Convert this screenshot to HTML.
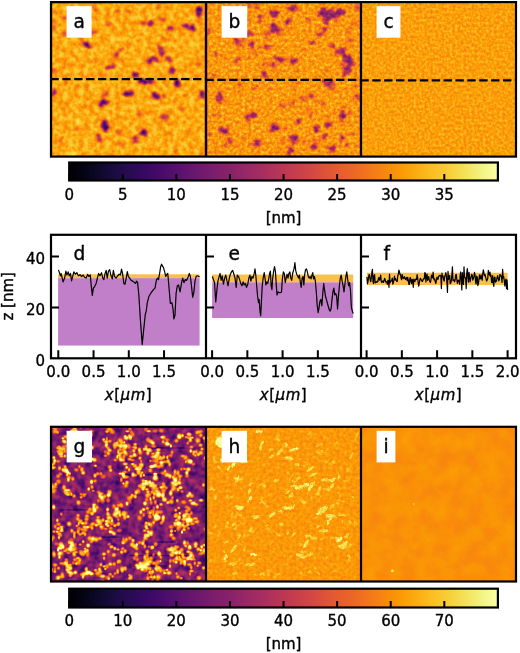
<!DOCTYPE html><html><head><meta charset="utf-8"><title>AFM figure</title>
<style>html,body{margin:0;padding:0;background:#fff}svg{display:block}text{font-family:'DejaVu Sans','Liberation Sans',sans-serif;fill:#000;stroke:#000;stroke-width:0.35px}</style></head><body>
<svg width="520" height="653" viewBox="0 0 520 653">
<defs>
<linearGradient id="inf" x1="0" x2="1" y1="0" y2="0"><stop offset="0" stop-color="rgb(0,0,4)"/><stop offset="0.03" stop-color="rgb(4,3,18)"/><stop offset="0.06" stop-color="rgb(11,7,36)"/><stop offset="0.09" stop-color="rgb(21,11,55)"/><stop offset="0.12" stop-color="rgb(33,12,74)"/><stop offset="0.16" stop-color="rgb(47,10,91)"/><stop offset="0.19" stop-color="rgb(61,9,101)"/><stop offset="0.22" stop-color="rgb(74,12,107)"/><stop offset="0.25" stop-color="rgb(87,16,110)"/><stop offset="0.28" stop-color="rgb(100,21,110)"/><stop offset="0.31" stop-color="rgb(113,25,110)"/><stop offset="0.34" stop-color="rgb(125,30,109)"/><stop offset="0.38" stop-color="rgb(138,34,106)"/><stop offset="0.41" stop-color="rgb(151,39,102)"/><stop offset="0.44" stop-color="rgb(163,44,97)"/><stop offset="0.47" stop-color="rgb(176,49,91)"/><stop offset="0.5" stop-color="rgb(188,55,84)"/><stop offset="0.53" stop-color="rgb(199,62,76)"/><stop offset="0.56" stop-color="rgb(210,70,68)"/><stop offset="0.59" stop-color="rgb(219,80,59)"/><stop offset="0.62" stop-color="rgb(228,90,49)"/><stop offset="0.66" stop-color="rgb(235,102,40)"/><stop offset="0.69" stop-color="rgb(241,115,29)"/><stop offset="0.72" stop-color="rgb(246,128,19)"/><stop offset="0.75" stop-color="rgb(249,142,9)"/><stop offset="0.78" stop-color="rgb(251,157,7)"/><stop offset="0.81" stop-color="rgb(252,172,17)"/><stop offset="0.84" stop-color="rgb(251,188,33)"/><stop offset="0.88" stop-color="rgb(249,203,53)"/><stop offset="0.91" stop-color="rgb(245,219,76)"/><stop offset="0.94" stop-color="rgb(242,234,105)"/><stop offset="0.97" stop-color="rgb(243,246,138)"/><stop offset="1" stop-color="rgb(252,255,164)"/></linearGradient>
<filter id="fa" filterUnits="userSpaceOnUse" x="51" y="2.1" width="155" height="154.5" color-interpolation-filters="sRGB"><feTurbulence type="fractalNoise" baseFrequency="0.19" numOctaves="2" seed="3" result="n"/><feColorMatrix in="n" type="matrix" values="0.31 0 0 0 0.345  0.31 0 0 0 0.345  0.31 0 0 0 0.345  0 0 0 0 1" result="ng"/><feTurbulence type="fractalNoise" baseFrequency="0.18" numOctaves="2" seed="41" result="dn"/><feDisplacementMap in="SourceGraphic" in2="dn" scale="7" xChannelSelector="R" yChannelSelector="G" result="sd"/><feGaussianBlur in="sd" stdDeviation="0.8" result="sb"/><feComposite in="sb" in2="ng" operator="arithmetic" k1="0" k2="1" k3="1" k4="-0.5" result="h"/><feComponentTransfer><feFuncR type="table" tableValues="0.001 0.006 0.014 0.026 0.042 0.061 0.082 0.105 0.129 0.156 0.183 0.211 0.238 0.265 0.291 0.316 0.348 0.373 0.398 0.423 0.447 0.472 0.497 0.522 0.547 0.572 0.597 0.622 0.646 0.671 0.695 0.718 0.747 0.770 0.791 0.812 0.832 0.851 0.869 0.886 0.902 0.916 0.930 0.942 0.952 0.961 0.969 0.976 0.982 0.985 0.987 0.988 0.987 0.985 0.981 0.976 0.975 0.971 0.968 0.964 0.961 0.957 0.955 0.952"/><feFuncG type="table" tableValues="0.000 0.005 0.011 0.019 0.028 0.037 0.043 0.047 0.047 0.045 0.040 0.037 0.037 0.040 0.046 0.053 0.065 0.074 0.083 0.093 0.102 0.111 0.119 0.128 0.137 0.146 0.155 0.164 0.174 0.184 0.195 0.207 0.222 0.236 0.251 0.267 0.284 0.302 0.322 0.343 0.364 0.387 0.411 0.436 0.462 0.489 0.516 0.544 0.579 0.608 0.638 0.668 0.698 0.728 0.759 0.790 0.798 0.813 0.829 0.844 0.859 0.874 0.882 0.896"/><feFuncB type="table" tableValues="0.014 0.039 0.072 0.106 0.141 0.178 0.215 0.253 0.291 0.325 0.355 0.379 0.396 0.409 0.419 0.425 0.430 0.432 0.433 0.433 0.431 0.428 0.424 0.420 0.414 0.406 0.398 0.389 0.378 0.367 0.354 0.341 0.323 0.307 0.291 0.275 0.257 0.240 0.221 0.203 0.184 0.165 0.145 0.125 0.105 0.084 0.063 0.044 0.026 0.024 0.035 0.058 0.088 0.121 0.157 0.196 0.206 0.228 0.250 0.273 0.298 0.324 0.337 0.366"/></feComponentTransfer></filter>
<filter id="fb" filterUnits="userSpaceOnUse" x="206" y="2.1" width="155" height="154.5" color-interpolation-filters="sRGB"><feTurbulence type="fractalNoise" baseFrequency="0.33" numOctaves="2" seed="11" result="n"/><feColorMatrix in="n" type="matrix" values="0.34 0 0 0 0.330  0.34 0 0 0 0.330  0.34 0 0 0 0.330  0 0 0 0 1" result="ng"/><feTurbulence type="fractalNoise" baseFrequency="0.27" numOctaves="2" seed="43" result="dn"/><feDisplacementMap in="SourceGraphic" in2="dn" scale="8" xChannelSelector="R" yChannelSelector="G" result="sd"/><feGaussianBlur in="sd" stdDeviation="0.8" result="sb"/><feComposite in="sb" in2="ng" operator="arithmetic" k1="0" k2="1" k3="1" k4="-0.5" result="h"/><feComponentTransfer><feFuncR type="table" tableValues="0.001 0.008 0.019 0.042 0.066 0.099 0.129 0.170 0.204 0.245 0.278 0.310 0.348 0.379 0.416 0.447 0.485 0.516 0.553 0.585 0.616 0.652 0.683 0.718 0.747 0.781 0.807 0.837 0.861 0.882 0.906 0.923 0.942 0.955 0.967 0.976 0.983 0.987 0.988 0.987 0.983 0.976 0.968 0.957 0.949 0.948 0.962 0.988"/><feFuncG type="table" tableValues="0.000 0.006 0.015 0.028 0.039 0.046 0.047 0.042 0.038 0.037 0.042 0.051 0.065 0.076 0.090 0.102 0.115 0.126 0.139 0.150 0.162 0.176 0.190 0.207 0.222 0.243 0.263 0.288 0.312 0.337 0.370 0.399 0.436 0.469 0.509 0.544 0.587 0.623 0.660 0.706 0.744 0.790 0.829 0.874 0.910 0.949 0.976 0.998"/><feFuncB type="table" tableValues="0.014 0.047 0.089 0.141 0.187 0.244 0.291 0.341 0.373 0.400 0.414 0.424 0.430 0.433 0.433 0.431 0.427 0.421 0.412 0.402 0.391 0.376 0.361 0.341 0.323 0.300 0.279 0.253 0.231 0.208 0.179 0.155 0.125 0.100 0.069 0.044 0.025 0.028 0.052 0.096 0.138 0.196 0.250 0.324 0.395 0.491 0.572 0.645"/></feComponentTransfer></filter>
<filter id="fc" filterUnits="userSpaceOnUse" x="361" y="2.1" width="155" height="154.5" color-interpolation-filters="sRGB"><feTurbulence type="fractalNoise" baseFrequency="0.36" numOctaves="2" seed="23" result="n"/><feColorMatrix in="n" type="matrix" values="0.23 0 0 0 0.385  0.23 0 0 0 0.385  0.23 0 0 0 0.385  0 0 0 0 1" result="ng"/><feGaussianBlur in="SourceGraphic" stdDeviation="0.5" result="sb"/><feComposite in="sb" in2="ng" operator="arithmetic" k1="0" k2="1" k3="1" k4="-0.5" result="h"/><feComponentTransfer><feFuncR type="table" tableValues="0.001 0.008 0.019 0.042 0.066 0.099 0.129 0.170 0.204 0.245 0.278 0.310 0.348 0.379 0.416 0.447 0.485 0.516 0.553 0.585 0.616 0.652 0.683 0.718 0.747 0.781 0.807 0.837 0.861 0.882 0.906 0.923 0.942 0.955 0.967 0.976 0.983 0.987 0.988 0.987 0.983 0.976 0.968 0.957 0.949 0.948 0.962 0.988"/><feFuncG type="table" tableValues="0.000 0.006 0.015 0.028 0.039 0.046 0.047 0.042 0.038 0.037 0.042 0.051 0.065 0.076 0.090 0.102 0.115 0.126 0.139 0.150 0.162 0.176 0.190 0.207 0.222 0.243 0.263 0.288 0.312 0.337 0.370 0.399 0.436 0.469 0.509 0.544 0.587 0.623 0.660 0.706 0.744 0.790 0.829 0.874 0.910 0.949 0.976 0.998"/><feFuncB type="table" tableValues="0.014 0.047 0.089 0.141 0.187 0.244 0.291 0.341 0.373 0.400 0.414 0.424 0.430 0.433 0.433 0.431 0.427 0.421 0.412 0.402 0.391 0.376 0.361 0.341 0.323 0.300 0.279 0.253 0.231 0.208 0.179 0.155 0.125 0.100 0.069 0.044 0.025 0.028 0.052 0.096 0.138 0.196 0.250 0.324 0.395 0.491 0.572 0.645"/></feComponentTransfer></filter>
<filter id="fg" filterUnits="userSpaceOnUse" x="51" y="426.8" width="155" height="154.7" color-interpolation-filters="sRGB"><feTurbulence type="fractalNoise" baseFrequency="0.14" numOctaves="2" seed="5" result="n"/><feColorMatrix in="n" type="matrix" values="0.5 0 0 0 0.250  0.5 0 0 0 0.250  0.5 0 0 0 0.250  0 0 0 0 1" result="ng"/><feGaussianBlur in="SourceGraphic" stdDeviation="0.5" result="sb"/><feComposite in="sb" in2="ng" operator="arithmetic" k1="0" k2="1" k3="1" k4="-0.5" result="h"/><feComponentTransfer><feFuncR type="table" tableValues="0.001 0.008 0.019 0.042 0.066 0.099 0.129 0.170 0.204 0.245 0.278 0.310 0.348 0.379 0.416 0.447 0.485 0.516 0.553 0.585 0.616 0.652 0.683 0.718 0.747 0.781 0.807 0.837 0.861 0.882 0.906 0.923 0.942 0.955 0.967 0.976 0.983 0.987 0.988 0.987 0.983 0.976 0.968 0.957 0.949 0.948 0.962 0.988"/><feFuncG type="table" tableValues="0.000 0.006 0.015 0.028 0.039 0.046 0.047 0.042 0.038 0.037 0.042 0.051 0.065 0.076 0.090 0.102 0.115 0.126 0.139 0.150 0.162 0.176 0.190 0.207 0.222 0.243 0.263 0.288 0.312 0.337 0.370 0.399 0.436 0.469 0.509 0.544 0.587 0.623 0.660 0.706 0.744 0.790 0.829 0.874 0.910 0.949 0.976 0.998"/><feFuncB type="table" tableValues="0.014 0.047 0.089 0.141 0.187 0.244 0.291 0.341 0.373 0.400 0.414 0.424 0.430 0.433 0.433 0.431 0.427 0.421 0.412 0.402 0.391 0.376 0.361 0.341 0.323 0.300 0.279 0.253 0.231 0.208 0.179 0.155 0.125 0.100 0.069 0.044 0.025 0.028 0.052 0.096 0.138 0.196 0.250 0.324 0.395 0.491 0.572 0.645"/></feComponentTransfer></filter>
<filter id="fh" filterUnits="userSpaceOnUse" x="206" y="426.8" width="155" height="154.7" color-interpolation-filters="sRGB"><feTurbulence type="fractalNoise" baseFrequency="0.3" numOctaves="2" seed="15" result="n"/><feColorMatrix in="n" type="matrix" values="0.17 0 0 0 0.415  0.17 0 0 0 0.415  0.17 0 0 0 0.415  0 0 0 0 1" result="ng"/><feTurbulence type="fractalNoise" baseFrequency="0.2" numOctaves="2" seed="47" result="dn"/><feDisplacementMap in="SourceGraphic" in2="dn" scale="3" xChannelSelector="R" yChannelSelector="G" result="sd"/><feGaussianBlur in="sd" stdDeviation="0.5" result="sb"/><feComposite in="sb" in2="ng" operator="arithmetic" k1="0" k2="1" k3="1" k4="-0.5" result="h"/><feComponentTransfer><feFuncR type="table" tableValues="0.001 0.008 0.019 0.042 0.066 0.099 0.129 0.170 0.204 0.245 0.278 0.310 0.348 0.379 0.416 0.447 0.485 0.516 0.553 0.585 0.616 0.652 0.683 0.718 0.747 0.781 0.807 0.837 0.861 0.882 0.906 0.923 0.942 0.955 0.967 0.976 0.983 0.987 0.988 0.987 0.983 0.976 0.968 0.957 0.949 0.948 0.962 0.988"/><feFuncG type="table" tableValues="0.000 0.006 0.015 0.028 0.039 0.046 0.047 0.042 0.038 0.037 0.042 0.051 0.065 0.076 0.090 0.102 0.115 0.126 0.139 0.150 0.162 0.176 0.190 0.207 0.222 0.243 0.263 0.288 0.312 0.337 0.370 0.399 0.436 0.469 0.509 0.544 0.587 0.623 0.660 0.706 0.744 0.790 0.829 0.874 0.910 0.949 0.976 0.998"/><feFuncB type="table" tableValues="0.014 0.047 0.089 0.141 0.187 0.244 0.291 0.341 0.373 0.400 0.414 0.424 0.430 0.433 0.433 0.431 0.427 0.421 0.412 0.402 0.391 0.376 0.361 0.341 0.323 0.300 0.279 0.253 0.231 0.208 0.179 0.155 0.125 0.100 0.069 0.044 0.025 0.028 0.052 0.096 0.138 0.196 0.250 0.324 0.395 0.491 0.572 0.645"/></feComponentTransfer></filter>
<filter id="fi" filterUnits="userSpaceOnUse" x="361" y="426.8" width="155" height="154.7" color-interpolation-filters="sRGB"><feTurbulence type="fractalNoise" baseFrequency="0.06" numOctaves="4" seed="31" result="n"/><feColorMatrix in="n" type="matrix" values="0.07 0 0 0 0.465  0.07 0 0 0 0.465  0.07 0 0 0 0.465  0 0 0 0 1" result="ng"/><feGaussianBlur in="SourceGraphic" stdDeviation="0.5" result="sb"/><feComposite in="sb" in2="ng" operator="arithmetic" k1="0" k2="1" k3="1" k4="-0.5" result="h"/><feComponentTransfer><feFuncR type="table" tableValues="0.001 0.008 0.019 0.042 0.066 0.099 0.129 0.170 0.204 0.245 0.278 0.310 0.348 0.379 0.416 0.447 0.485 0.516 0.553 0.585 0.616 0.652 0.683 0.718 0.747 0.781 0.807 0.837 0.861 0.882 0.906 0.923 0.942 0.955 0.967 0.976 0.983 0.987 0.988 0.987 0.983 0.976 0.968 0.957 0.949 0.948 0.962 0.988"/><feFuncG type="table" tableValues="0.000 0.006 0.015 0.028 0.039 0.046 0.047 0.042 0.038 0.037 0.042 0.051 0.065 0.076 0.090 0.102 0.115 0.126 0.139 0.150 0.162 0.176 0.190 0.207 0.222 0.243 0.263 0.288 0.312 0.337 0.370 0.399 0.436 0.469 0.509 0.544 0.587 0.623 0.660 0.706 0.744 0.790 0.829 0.874 0.910 0.949 0.976 0.998"/><feFuncB type="table" tableValues="0.014 0.047 0.089 0.141 0.187 0.244 0.291 0.341 0.373 0.400 0.414 0.424 0.430 0.433 0.433 0.431 0.427 0.421 0.412 0.402 0.391 0.376 0.361 0.341 0.323 0.300 0.279 0.253 0.231 0.208 0.179 0.155 0.125 0.100 0.069 0.044 0.025 0.028 0.052 0.096 0.138 0.196 0.250 0.324 0.395 0.491 0.572 0.645"/></feComponentTransfer></filter>
<radialGradient id="dg"><stop offset="0" stop-color="#fff"/><stop offset="0.35" stop-color="#fff" stop-opacity="0.9"/><stop offset="0.62" stop-color="#fff" stop-opacity="0.5"/><stop offset="0.85" stop-color="#fff" stop-opacity="0.15"/><stop offset="1" stop-color="#fff" stop-opacity="0"/></radialGradient>
</defs>
<rect width="520" height="653" fill="#fff"/>
<g filter="url(#fa)"><rect x="43" y="-5.9" width="171" height="170.5" fill="rgb(207,207,207)"/><ellipse cx="102.25" cy="27.48" rx="1.9" ry="1.32" fill="rgb(162,162,162)"/><ellipse cx="108.49" cy="13.64" rx="1.76" ry="1.29" fill="rgb(158,158,158)"/><ellipse cx="64.41" cy="18.52" rx="1.67" ry="2.08" fill="rgb(147,147,147)"/><ellipse cx="87.26" cy="98.49" rx="2.2" ry="1.83" fill="rgb(157,157,157)"/><ellipse cx="199.46" cy="11.94" rx="2.11" ry="1.54" fill="rgb(148,148,148)"/><ellipse cx="71.55" cy="50.96" rx="2.07" ry="1.43" fill="rgb(164,164,164)"/><ellipse cx="149.2" cy="60.49" rx="1.8" ry="1.31" fill="rgb(145,145,145)"/><ellipse cx="84.69" cy="106.38" rx="1.68" ry="1.56" fill="rgb(164,164,164)"/><ellipse cx="121.52" cy="49.67" rx="2.04" ry="1.95" fill="rgb(152,152,152)"/><ellipse cx="139.59" cy="83.25" rx="2.13" ry="1.98" fill="rgb(153,153,153)"/><ellipse cx="200.05" cy="22.59" rx="1.67" ry="2.01" fill="rgb(148,148,148)"/><ellipse cx="126.86" cy="10.84" rx="1.92" ry="2.01" fill="rgb(163,163,163)"/><ellipse cx="184.45" cy="51.75" rx="1.95" ry="1.84" fill="rgb(164,164,164)"/><ellipse cx="121.97" cy="130.16" rx="2.19" ry="1.72" fill="rgb(167,167,167)"/><ellipse cx="63.04" cy="109.52" rx="1.9" ry="2.24" fill="rgb(172,172,172)"/><ellipse cx="96.4" cy="62.48" rx="1.92" ry="1.27" fill="rgb(159,159,159)"/><ellipse cx="79.04" cy="22.45" rx="1.31" ry="2.02" fill="rgb(147,147,147)"/><ellipse cx="90.89" cy="63.25" rx="2.12" ry="1.33" fill="rgb(159,159,159)"/><ellipse cx="135.87" cy="136.62" rx="2.07" ry="2.11" fill="rgb(153,153,153)"/><ellipse cx="115.88" cy="58.46" rx="2.13" ry="2.21" fill="rgb(148,148,148)"/><ellipse cx="80.26" cy="39.56" rx="1.48" ry="1.73" fill="rgb(164,164,164)"/><ellipse cx="93.15" cy="5.61" rx="1.67" ry="1.62" fill="rgb(163,163,163)"/><ellipse cx="196.01" cy="107.88" rx="1.77" ry="1.87" fill="rgb(167,167,167)"/><ellipse cx="62.04" cy="139.03" rx="2.03" ry="2.12" fill="rgb(171,171,171)"/><ellipse cx="112.46" cy="64.45" rx="1.35" ry="1.88" fill="rgb(145,145,145)"/><ellipse cx="64.03" cy="36.11" rx="1.41" ry="1.59" fill="rgb(145,145,145)"/><ellipse cx="54.03" cy="27.54" rx="1.35" ry="1.61" fill="rgb(144,144,144)"/><ellipse cx="184.28" cy="96.5" rx="1.4" ry="1.5" fill="rgb(155,155,155)"/><ellipse cx="108.26" cy="23.3" rx="2.1" ry="2.24" fill="rgb(159,159,159)"/><ellipse cx="126.09" cy="17.8" rx="1.35" ry="1.59" fill="rgb(152,152,152)"/><ellipse cx="177.5" cy="29.05" rx="1.27" ry="2.2" fill="rgb(162,162,162)"/><ellipse cx="75.84" cy="85.93" rx="1.28" ry="1.78" fill="rgb(178,178,178)"/><ellipse cx="182.64" cy="108.73" rx="1.51" ry="1.62" fill="rgb(149,149,149)"/><ellipse cx="169.02" cy="84.36" rx="2.03" ry="1.58" fill="rgb(151,151,151)"/><ellipse cx="174.92" cy="151.75" rx="2.1" ry="2.06" fill="rgb(172,172,172)"/><ellipse cx="164.24" cy="38.78" rx="1.77" ry="1.61" fill="rgb(144,144,144)"/><ellipse cx="58.16" cy="46.63" rx="1.51" ry="1.94" fill="rgb(177,177,177)"/><ellipse cx="120.64" cy="144.62" rx="2.24" ry="2.21" fill="rgb(156,156,156)"/><ellipse cx="86.85" cy="38.8" rx="1.45" ry="1.45" fill="rgb(165,165,165)"/><ellipse cx="188.15" cy="130.22" rx="1.73" ry="1.9" fill="rgb(171,171,171)"/><ellipse cx="66.63" cy="103.43" rx="2.16" ry="2.03" fill="rgb(170,170,170)"/><ellipse cx="125.23" cy="31.6" rx="2.04" ry="1.58" fill="rgb(171,171,171)"/><ellipse cx="198.78" cy="63.98" rx="1.65" ry="2.2" fill="rgb(169,169,169)"/><ellipse cx="79.33" cy="23.93" rx="1.4" ry="2.15" fill="rgb(172,172,172)"/><ellipse cx="75.78" cy="128.15" rx="2.23" ry="1.91" fill="rgb(155,155,155)"/><ellipse cx="86.2" cy="45.4" rx="4.06" ry="3.37" fill="rgb(173,173,173)" transform="rotate(30 86.2 45.4)"/><ellipse cx="94.6" cy="32.3" rx="2.91" ry="2.68" fill="rgb(173,173,173)"/><ellipse cx="117.7" cy="53.8" rx="3.14" ry="3.14" fill="rgb(173,173,173)"/><ellipse cx="110.8" cy="67.7" rx="4.06" ry="3.14" fill="rgb(173,173,173)" transform="rotate(-10 110.8 67.7)"/><ellipse cx="65.4" cy="34.6" rx="2.45" ry="2.68" fill="rgb(173,173,173)"/><ellipse cx="199.5" cy="12.3" rx="3.6" ry="5.44" fill="rgb(173,173,173)" transform="rotate(-20 199.5 12.3)"/><ellipse cx="150.3" cy="23" rx="3.6" ry="3.6" fill="rgb(173,173,173)"/><ellipse cx="143" cy="23" rx="3.6" ry="2.68" fill="rgb(173,173,173)" transform="rotate(20 143 23)"/><ellipse cx="162.6" cy="18.5" rx="3.6" ry="2.68" fill="rgb(173,173,173)" transform="rotate(20 162.6 18.5)"/><ellipse cx="171" cy="28.5" rx="3.6" ry="4.06" fill="rgb(173,173,173)" transform="rotate(-30 171 28.5)"/><ellipse cx="186" cy="25.5" rx="4.52" ry="3.14" fill="rgb(173,173,173)" transform="rotate(10 186 25.5)"/><ellipse cx="192" cy="28.5" rx="4.52" ry="3.14" fill="rgb(173,173,173)" transform="rotate(20 192 28.5)"/><ellipse cx="161" cy="49" rx="3.14" ry="3.14" fill="rgb(173,173,173)"/><ellipse cx="162.6" cy="53.5" rx="3.6" ry="3.14" fill="rgb(173,173,173)"/><ellipse cx="150.5" cy="60.5" rx="3.6" ry="3.14" fill="rgb(173,173,173)" transform="rotate(-40 150.5 60.5)"/><ellipse cx="155" cy="59.5" rx="3.6" ry="2.91" fill="rgb(173,173,173)" transform="rotate(30 155 59.5)"/><ellipse cx="169.2" cy="59.2" rx="3.6" ry="3.14" fill="rgb(173,173,173)"/><ellipse cx="171.8" cy="69.2" rx="3.14" ry="4.06" fill="rgb(173,173,173)"/><ellipse cx="136.5" cy="74.6" rx="4.06" ry="3.6" fill="rgb(173,173,173)"/><ellipse cx="53.8" cy="91.8" rx="2.91" ry="4.98" fill="rgb(173,173,173)" transform="rotate(10 53.8 91.8)"/><ellipse cx="103" cy="103.4" rx="5.9" ry="3.37" fill="rgb(173,173,173)" transform="rotate(-30 103 103.4)"/><ellipse cx="105.4" cy="95" rx="2.68" ry="4.06" fill="rgb(173,173,173)" transform="rotate(20 105.4 95)"/><ellipse cx="125.4" cy="93.4" rx="4.06" ry="3.14" fill="rgb(173,173,173)"/><ellipse cx="130" cy="93.4" rx="3.6" ry="3.14" fill="rgb(173,173,173)"/><ellipse cx="104" cy="123" rx="3.6" ry="4.52" fill="rgb(173,173,173)" transform="rotate(-20 104 123)"/><ellipse cx="106.5" cy="128.5" rx="3.6" ry="4.06" fill="rgb(173,173,173)" transform="rotate(30 106.5 128.5)"/><ellipse cx="99.2" cy="138" rx="2.68" ry="4.06" fill="rgb(173,173,173)" transform="rotate(10 99.2 138)"/><ellipse cx="143" cy="81" rx="4.98" ry="3.6" fill="rgb(173,173,173)"/><ellipse cx="150" cy="81.5" rx="4.98" ry="3.37" fill="rgb(173,173,173)" transform="rotate(10 150 81.5)"/><ellipse cx="178" cy="83.4" rx="3.6" ry="3.6" fill="rgb(173,173,173)"/><ellipse cx="155" cy="96.5" rx="4.98" ry="3.83" fill="rgb(173,173,173)" transform="rotate(-20 155 96.5)"/><ellipse cx="162.6" cy="96.5" rx="3.14" ry="3.14" fill="rgb(173,173,173)"/><ellipse cx="201.8" cy="95" rx="3.37" ry="4.98" fill="rgb(173,173,173)" transform="rotate(10 201.8 95)"/><ellipse cx="164" cy="117.7" rx="4.06" ry="3.14" fill="rgb(173,173,173)"/><ellipse cx="143.4" cy="132.6" rx="4.52" ry="4.06" fill="rgb(173,173,173)"/><ellipse cx="134" cy="140.3" rx="3.14" ry="3.14" fill="rgb(173,173,173)"/><ellipse cx="86.2" cy="45.4" rx="2.76" ry="2.07" fill="rgb(51,51,51)" transform="rotate(30 86.2 45.4)"/><circle cx="85.1" cy="44.36" r="1.25" fill="rgb(51,51,51)"/><circle cx="88.21" cy="46.22" r="1.68" fill="rgb(51,51,51)"/><ellipse cx="95.4" cy="10" rx="1.84" ry="2.3" fill="rgb(153,153,153)" transform="rotate(20 95.4 10)"/><circle cx="96.72" cy="9.79" r="1.75" fill="rgb(153,153,153)"/><circle cx="96.29" cy="9.03" r="1.29" fill="rgb(153,153,153)"/><ellipse cx="94.6" cy="32.3" rx="1.61" ry="1.38" fill="rgb(115,115,115)"/><ellipse cx="53.8" cy="21.5" rx="1.38" ry="2.3" fill="rgb(153,153,153)" transform="rotate(-30 53.8 21.5)"/><ellipse cx="117.7" cy="53.8" rx="1.84" ry="1.84" fill="rgb(115,115,115)"/><circle cx="117.4" cy="54.88" r="1.54" fill="rgb(115,115,115)"/><circle cx="117.63" cy="55.06" r="1.2" fill="rgb(115,115,115)"/><ellipse cx="110.8" cy="67.7" rx="2.76" ry="1.84" fill="rgb(76,76,76)" transform="rotate(-10 110.8 67.7)"/><circle cx="112.2" cy="66.79" r="1.44" fill="rgb(76,76,76)"/><circle cx="108.52" cy="67.25" r="1.41" fill="rgb(76,76,76)"/><ellipse cx="63.8" cy="66.2" rx="2.76" ry="1.38" fill="rgb(153,153,153)" transform="rotate(-30 63.8 66.2)"/><ellipse cx="117" cy="10.8" rx="1.38" ry="1.38" fill="rgb(153,153,153)"/><ellipse cx="65.4" cy="34.6" rx="1.15" ry="1.38" fill="rgb(115,115,115)"/><ellipse cx="53.8" cy="70.8" rx="1.38" ry="2.76" fill="rgb(153,153,153)" transform="rotate(20 53.8 70.8)"/><ellipse cx="99.2" cy="74.6" rx="1.84" ry="1.38" fill="rgb(153,153,153)"/><ellipse cx="199.5" cy="12.3" rx="2.3" ry="4.14" fill="rgb(51,51,51)" transform="rotate(-20 199.5 12.3)"/><circle cx="200.36" cy="10.41" r="1.87" fill="rgb(51,51,51)"/><circle cx="198.31" cy="12.4" r="1.78" fill="rgb(51,51,51)"/><ellipse cx="150.3" cy="23" rx="2.3" ry="2.3" fill="rgb(76,76,76)"/><circle cx="150.77" cy="24.05" r="2.12" fill="rgb(76,76,76)"/><circle cx="151.07" cy="24.45" r="2.05" fill="rgb(76,76,76)"/><ellipse cx="143" cy="23" rx="2.3" ry="1.38" fill="rgb(115,115,115)" transform="rotate(20 143 23)"/><ellipse cx="162.6" cy="18.5" rx="2.3" ry="1.38" fill="rgb(115,115,115)" transform="rotate(20 162.6 18.5)"/><ellipse cx="171" cy="28.5" rx="2.3" ry="2.76" fill="rgb(76,76,76)" transform="rotate(-30 171 28.5)"/><circle cx="169.48" cy="28.66" r="1.86" fill="rgb(76,76,76)"/><circle cx="169" cy="28.73" r="1.48" fill="rgb(76,76,76)"/><ellipse cx="186" cy="25.5" rx="3.22" ry="1.84" fill="rgb(76,76,76)" transform="rotate(10 186 25.5)"/><circle cx="184.27" cy="24.77" r="1.31" fill="rgb(76,76,76)"/><circle cx="186.55" cy="24.25" r="1.52" fill="rgb(76,76,76)"/><ellipse cx="192" cy="28.5" rx="3.22" ry="1.84" fill="rgb(76,76,76)" transform="rotate(20 192 28.5)"/><circle cx="192.74" cy="26.99" r="1.43" fill="rgb(76,76,76)"/><circle cx="190.62" cy="27.07" r="1.48" fill="rgb(76,76,76)"/><ellipse cx="161" cy="49" rx="1.84" ry="1.84" fill="rgb(115,115,115)"/><circle cx="160.54" cy="47.79" r="1.5" fill="rgb(115,115,115)"/><circle cx="159.32" cy="49.23" r="1.62" fill="rgb(115,115,115)"/><ellipse cx="162.6" cy="53.5" rx="2.3" ry="1.84" fill="rgb(76,76,76)"/><circle cx="164.12" cy="52.31" r="1.3" fill="rgb(76,76,76)"/><circle cx="160.62" cy="52.88" r="1.72" fill="rgb(76,76,76)"/><ellipse cx="150.5" cy="60.5" rx="2.3" ry="1.84" fill="rgb(76,76,76)" transform="rotate(-40 150.5 60.5)"/><circle cx="151.63" cy="60.56" r="1.43" fill="rgb(76,76,76)"/><circle cx="151.78" cy="60.07" r="1.16" fill="rgb(76,76,76)"/><ellipse cx="155" cy="59.5" rx="2.3" ry="1.61" fill="rgb(76,76,76)" transform="rotate(30 155 59.5)"/><ellipse cx="169.2" cy="59.2" rx="2.3" ry="1.84" fill="rgb(115,115,115)"/><circle cx="168.25" cy="57.83" r="1.76" fill="rgb(115,115,115)"/><circle cx="170.27" cy="60.45" r="1.59" fill="rgb(115,115,115)"/><ellipse cx="171.8" cy="69.2" rx="1.84" ry="2.76" fill="rgb(76,76,76)"/><circle cx="172.83" cy="71.14" r="1.82" fill="rgb(76,76,76)"/><circle cx="172.12" cy="71.72" r="1.4" fill="rgb(76,76,76)"/><ellipse cx="136.5" cy="74.6" rx="2.76" ry="2.3" fill="rgb(76,76,76)"/><circle cx="133.9" cy="74.77" r="2.15" fill="rgb(76,76,76)"/><circle cx="137.51" cy="75.96" r="1.85" fill="rgb(76,76,76)"/><ellipse cx="158.8" cy="7" rx="1.38" ry="2.3" fill="rgb(153,153,153)"/><ellipse cx="203.4" cy="57" rx="1.38" ry="2.3" fill="rgb(153,153,153)"/><ellipse cx="53.8" cy="91.8" rx="1.61" ry="3.68" fill="rgb(76,76,76)" transform="rotate(10 53.8 91.8)"/><ellipse cx="103" cy="103.4" rx="4.6" ry="2.07" fill="rgb(51,51,51)" transform="rotate(-30 103 103.4)"/><circle cx="102.27" cy="105.01" r="1.51" fill="rgb(51,51,51)"/><circle cx="102.13" cy="102.71" r="1.7" fill="rgb(51,51,51)"/><ellipse cx="105.4" cy="95" rx="1.38" ry="2.76" fill="rgb(115,115,115)" transform="rotate(20 105.4 95)"/><ellipse cx="125.4" cy="93.4" rx="2.76" ry="1.84" fill="rgb(51,51,51)"/><circle cx="124.09" cy="93.74" r="1.35" fill="rgb(51,51,51)"/><circle cx="123.96" cy="92.46" r="1.15" fill="rgb(51,51,51)"/><ellipse cx="130" cy="93.4" rx="2.3" ry="1.84" fill="rgb(51,51,51)"/><circle cx="131.96" cy="93.25" r="1.82" fill="rgb(51,51,51)"/><circle cx="131.13" cy="94.1" r="1.13" fill="rgb(51,51,51)"/><ellipse cx="104" cy="123" rx="2.3" ry="3.22" fill="rgb(51,51,51)" transform="rotate(-20 104 123)"/><circle cx="103.57" cy="121.06" r="1.5" fill="rgb(51,51,51)"/><circle cx="102.73" cy="124.92" r="2.13" fill="rgb(51,51,51)"/><ellipse cx="106.5" cy="128.5" rx="2.3" ry="2.76" fill="rgb(51,51,51)" transform="rotate(30 106.5 128.5)"/><circle cx="105.66" cy="129.82" r="2.23" fill="rgb(51,51,51)"/><circle cx="105.52" cy="126.82" r="1.46" fill="rgb(51,51,51)"/><ellipse cx="99.2" cy="138" rx="1.38" ry="2.76" fill="rgb(76,76,76)" transform="rotate(10 99.2 138)"/><ellipse cx="65.4" cy="82.6" rx="1.84" ry="1.38" fill="rgb(153,153,153)"/><ellipse cx="59.2" cy="140.3" rx="1.84" ry="1.84" fill="rgb(153,153,153)"/><circle cx="60.59" cy="140.83" r="1.42" fill="rgb(153,153,153)"/><circle cx="60.72" cy="141.05" r="1.57" fill="rgb(153,153,153)"/><ellipse cx="117.7" cy="131.8" rx="2.3" ry="1.84" fill="rgb(153,153,153)" transform="rotate(30 117.7 131.8)"/><circle cx="118.51" cy="131.18" r="1.73" fill="rgb(153,153,153)"/><circle cx="118.98" cy="133.31" r="1.44" fill="rgb(153,153,153)"/><ellipse cx="143" cy="81" rx="3.68" ry="2.3" fill="rgb(51,51,51)"/><circle cx="141.54" cy="82.46" r="2.23" fill="rgb(51,51,51)"/><circle cx="142.77" cy="82.28" r="1.86" fill="rgb(51,51,51)"/><ellipse cx="150" cy="81.5" rx="3.68" ry="2.07" fill="rgb(51,51,51)" transform="rotate(10 150 81.5)"/><circle cx="149.95" cy="82.64" r="1.38" fill="rgb(51,51,51)"/><circle cx="151.97" cy="82.23" r="1.5" fill="rgb(51,51,51)"/><ellipse cx="178" cy="83.4" rx="2.3" ry="2.3" fill="rgb(51,51,51)"/><circle cx="177.34" cy="85.22" r="1.65" fill="rgb(51,51,51)"/><circle cx="176.67" cy="83.4" r="1.7" fill="rgb(51,51,51)"/><ellipse cx="155" cy="96.5" rx="3.68" ry="2.53" fill="rgb(76,76,76)" transform="rotate(-20 155 96.5)"/><circle cx="157.17" cy="95.9" r="1.53" fill="rgb(76,76,76)"/><circle cx="154.08" cy="94.83" r="1.71" fill="rgb(76,76,76)"/><ellipse cx="162.6" cy="96.5" rx="1.84" ry="1.84" fill="rgb(115,115,115)"/><circle cx="160.93" cy="96.77" r="1.18" fill="rgb(115,115,115)"/><circle cx="163.14" cy="95.34" r="1.47" fill="rgb(115,115,115)"/><ellipse cx="201.8" cy="95" rx="2.07" ry="3.68" fill="rgb(76,76,76)" transform="rotate(10 201.8 95)"/><circle cx="202.87" cy="93.01" r="1.66" fill="rgb(76,76,76)"/><circle cx="201.62" cy="91.71" r="1.53" fill="rgb(76,76,76)"/><ellipse cx="164" cy="117.7" rx="2.76" ry="1.84" fill="rgb(115,115,115)"/><circle cx="165.12" cy="116.39" r="1.57" fill="rgb(115,115,115)"/><circle cx="162.5" cy="118.38" r="1.14" fill="rgb(115,115,115)"/><ellipse cx="143.4" cy="132.6" rx="3.22" ry="2.76" fill="rgb(51,51,51)"/><circle cx="144.57" cy="133.67" r="2.47" fill="rgb(51,51,51)"/><circle cx="143.34" cy="134.18" r="1.75" fill="rgb(51,51,51)"/><ellipse cx="134" cy="140.3" rx="1.84" ry="1.84" fill="rgb(115,115,115)"/><circle cx="134.89" cy="138.92" r="1.6" fill="rgb(115,115,115)"/><circle cx="133.78" cy="141.4" r="1.32" fill="rgb(115,115,115)"/><ellipse cx="169.5" cy="133.4" rx="1.38" ry="2.3" fill="rgb(153,153,153)"/><ellipse cx="139.5" cy="113.4" rx="1.38" ry="2.3" fill="rgb(153,153,153)"/><ellipse cx="189.5" cy="148.8" rx="1.84" ry="1.38" fill="rgb(153,153,153)"/><ellipse cx="78.5" cy="121" rx="2.56" ry="2.56" fill="rgb(255,255,255)"/><ellipse cx="72.3" cy="154" rx="3.2" ry="2.4" fill="rgb(255,255,255)"/></g>
<g filter="url(#fb)"><rect x="198" y="-5.9" width="171" height="170.5" fill="rgb(198,198,198)"/><ellipse cx="277.38" cy="27.79" rx="1.45" ry="1.26" fill="rgb(167,167,167)"/><ellipse cx="354.87" cy="86.61" rx="1.24" ry="1.97" fill="rgb(140,140,140)"/><ellipse cx="261.84" cy="4.16" rx="1.38" ry="1.47" fill="rgb(148,148,148)"/><ellipse cx="238.35" cy="80.22" rx="1" ry="1.26" fill="rgb(131,131,131)"/><ellipse cx="268.33" cy="10.29" rx="1.02" ry="1.3" fill="rgb(137,137,137)"/><ellipse cx="296.42" cy="83.91" rx="1.75" ry="1.66" fill="rgb(157,157,157)"/><ellipse cx="340.74" cy="62.82" rx="1.33" ry="1.98" fill="rgb(134,134,134)"/><ellipse cx="317.35" cy="101.13" rx="1.04" ry="1.84" fill="rgb(164,164,164)"/><ellipse cx="302.73" cy="114.81" rx="1.81" ry="1.14" fill="rgb(149,149,149)"/><ellipse cx="284.16" cy="130.08" rx="1.8" ry="1.83" fill="rgb(151,151,151)"/><ellipse cx="342.82" cy="107.12" rx="1.69" ry="1.23" fill="rgb(129,129,129)"/><ellipse cx="228.1" cy="58.47" rx="1.1" ry="1.84" fill="rgb(150,150,150)"/><ellipse cx="302.79" cy="98.56" rx="1.68" ry="1.49" fill="rgb(128,128,128)"/><ellipse cx="328.45" cy="116.99" rx="1.5" ry="1.54" fill="rgb(154,154,154)"/><ellipse cx="217.97" cy="115.26" rx="1.25" ry="1.07" fill="rgb(138,138,138)"/><ellipse cx="318.13" cy="34.99" rx="1.74" ry="1.98" fill="rgb(148,148,148)"/><ellipse cx="265.77" cy="76.33" rx="1.68" ry="1.77" fill="rgb(153,153,153)"/><ellipse cx="305.06" cy="15.7" rx="1.15" ry="1.25" fill="rgb(158,158,158)"/><ellipse cx="253.97" cy="89.73" rx="1.01" ry="1.06" fill="rgb(138,138,138)"/><ellipse cx="309.47" cy="108.52" rx="1.68" ry="1.29" fill="rgb(149,149,149)"/><ellipse cx="278.16" cy="74.42" rx="1.12" ry="1.89" fill="rgb(136,136,136)"/><ellipse cx="355.7" cy="145.37" rx="1.02" ry="1.46" fill="rgb(161,161,161)"/><ellipse cx="354.18" cy="71.87" rx="1.27" ry="1.21" fill="rgb(166,166,166)"/><ellipse cx="239.82" cy="91.8" rx="1.14" ry="1.52" fill="rgb(166,166,166)"/><ellipse cx="228.02" cy="127.85" rx="1.51" ry="1.89" fill="rgb(156,156,156)"/><ellipse cx="242.94" cy="139.55" rx="1.49" ry="1.02" fill="rgb(128,128,128)"/><ellipse cx="282.25" cy="72.06" rx="1.3" ry="1.14" fill="rgb(142,142,142)"/><ellipse cx="255.73" cy="130.87" rx="1" ry="1.75" fill="rgb(162,162,162)"/><ellipse cx="226.13" cy="143.89" rx="1.71" ry="1.9" fill="rgb(139,139,139)"/><ellipse cx="264.21" cy="63.33" rx="2" ry="1.59" fill="rgb(142,142,142)"/><ellipse cx="272.64" cy="45.55" rx="1.05" ry="1.1" fill="rgb(162,162,162)"/><ellipse cx="251.13" cy="145.27" rx="1.25" ry="1.27" fill="rgb(148,148,148)"/><ellipse cx="236.67" cy="60.38" rx="1.96" ry="1.88" fill="rgb(161,161,161)"/><ellipse cx="303.27" cy="141.93" rx="1.94" ry="1.55" fill="rgb(157,157,157)"/><ellipse cx="215.47" cy="114.59" rx="1.45" ry="1.75" fill="rgb(154,154,154)"/><ellipse cx="251.22" cy="11.4" rx="1.93" ry="1.13" fill="rgb(147,147,147)"/><ellipse cx="259.89" cy="48.96" rx="1.74" ry="1.98" fill="rgb(138,138,138)"/><ellipse cx="307.06" cy="49.43" rx="1.56" ry="1.39" fill="rgb(134,134,134)"/><ellipse cx="232.41" cy="35.39" rx="1.91" ry="1.5" fill="rgb(136,136,136)"/><ellipse cx="344.85" cy="154.47" rx="1.45" ry="1.14" fill="rgb(135,135,135)"/><ellipse cx="221.7" cy="55.64" rx="1.09" ry="1.24" fill="rgb(138,138,138)"/><ellipse cx="294.01" cy="137.97" rx="1.75" ry="1.41" fill="rgb(144,144,144)"/><ellipse cx="287.15" cy="60.91" rx="1.34" ry="1.06" fill="rgb(139,139,139)"/><ellipse cx="354.12" cy="23.01" rx="1.5" ry="1.63" fill="rgb(163,163,163)"/><ellipse cx="240.61" cy="44.92" rx="1.25" ry="1.4" fill="rgb(146,146,146)"/><ellipse cx="352.05" cy="132.15" rx="1.87" ry="1.02" fill="rgb(129,129,129)"/><ellipse cx="315.14" cy="139.25" rx="1.47" ry="1.59" fill="rgb(128,128,128)"/><ellipse cx="267.12" cy="143.95" rx="1.83" ry="1.86" fill="rgb(167,167,167)"/><ellipse cx="245.52" cy="20.47" rx="1.15" ry="1.52" fill="rgb(155,155,155)"/><ellipse cx="350.17" cy="112.98" rx="1.65" ry="1.76" fill="rgb(146,146,146)"/><ellipse cx="291.28" cy="9.97" rx="1.78" ry="1.23" fill="rgb(165,165,165)"/><ellipse cx="305.47" cy="49.87" rx="1.13" ry="1.25" fill="rgb(153,153,153)"/><ellipse cx="313.49" cy="20.93" rx="1.07" ry="1.52" fill="rgb(151,151,151)"/><ellipse cx="266.6" cy="37.76" rx="1.6" ry="1.01" fill="rgb(140,140,140)"/><ellipse cx="277.56" cy="148.8" rx="1.64" ry="1.88" fill="rgb(147,147,147)"/><ellipse cx="243.45" cy="41.31" rx="1.96" ry="1.7" fill="rgb(140,140,140)"/><ellipse cx="211.29" cy="79.24" rx="1.67" ry="1.42" fill="rgb(138,138,138)"/><ellipse cx="308.77" cy="143.7" rx="1.23" ry="1.03" fill="rgb(141,141,141)"/><ellipse cx="271.5" cy="107.07" rx="1.2" ry="1.8" fill="rgb(158,158,158)"/><ellipse cx="284.24" cy="34.99" rx="1.97" ry="1.31" fill="rgb(161,161,161)"/><ellipse cx="242.85" cy="37.44" rx="1.76" ry="1.29" fill="rgb(166,166,166)"/><ellipse cx="282.86" cy="32.28" rx="1.22" ry="1.42" fill="rgb(155,155,155)"/><ellipse cx="351.26" cy="26.1" rx="1.39" ry="1.21" fill="rgb(167,167,167)"/><ellipse cx="229.43" cy="11.83" rx="1.06" ry="1.39" fill="rgb(164,164,164)"/><ellipse cx="341.42" cy="114.64" rx="2" ry="1.93" fill="rgb(141,141,141)"/><ellipse cx="236.01" cy="145.32" rx="1.75" ry="1.03" fill="rgb(155,155,155)"/><ellipse cx="265.17" cy="60.46" rx="1.33" ry="1.17" fill="rgb(128,128,128)"/><ellipse cx="250.25" cy="57.07" rx="1.96" ry="1.12" fill="rgb(167,167,167)"/><ellipse cx="239.32" cy="57.85" rx="1.82" ry="1.82" fill="rgb(145,145,145)"/><ellipse cx="215.44" cy="75.49" rx="1.37" ry="1.92" fill="rgb(135,135,135)"/><ellipse cx="263" cy="139.45" rx="1.03" ry="1.41" fill="rgb(161,161,161)"/><ellipse cx="323.77" cy="10.14" rx="1.03" ry="1.06" fill="rgb(165,165,165)"/><ellipse cx="246.81" cy="116.84" rx="1.9" ry="1.34" fill="rgb(139,139,139)"/><ellipse cx="352.61" cy="97.16" rx="1.26" ry="1.72" fill="rgb(140,140,140)"/><ellipse cx="249.62" cy="4.57" rx="1.76" ry="1.92" fill="rgb(153,153,153)"/><ellipse cx="350.43" cy="7.66" rx="1.23" ry="1.48" fill="rgb(167,167,167)"/><ellipse cx="352.04" cy="62.36" rx="1.25" ry="1.43" fill="rgb(148,148,148)"/><ellipse cx="348.14" cy="31.62" rx="1.8" ry="1.74" fill="rgb(161,161,161)"/><ellipse cx="324.69" cy="95.7" rx="1.33" ry="1.32" fill="rgb(142,142,142)"/><ellipse cx="326.12" cy="15.93" rx="1.2" ry="1.75" fill="rgb(138,138,138)"/><ellipse cx="208.6" cy="32.3" rx="1.7" ry="2.98" fill="rgb(97,97,97)"/><ellipse cx="249.4" cy="33" rx="2.12" ry="2.55" fill="rgb(97,97,97)"/><circle cx="250.41" cy="33.52" r="1.74" fill="rgb(97,97,97)"/><circle cx="248.48" cy="35.13" r="2.03" fill="rgb(97,97,97)"/><circle cx="250.71" cy="32.88" r="1.35" fill="rgb(97,97,97)"/><ellipse cx="237" cy="41.5" rx="2.98" ry="2.12" fill="rgb(97,97,97)"/><circle cx="238.77" cy="42.38" r="1.88" fill="rgb(97,97,97)"/><circle cx="235.3" cy="41.92" r="1.63" fill="rgb(97,97,97)"/><circle cx="235.26" cy="40.33" r="1.91" fill="rgb(97,97,97)"/><ellipse cx="251" cy="45.4" rx="3.4" ry="2.55" fill="rgb(97,97,97)" transform="rotate(40 251 45.4)"/><circle cx="253.26" cy="45.12" r="1.65" fill="rgb(97,97,97)"/><circle cx="252.76" cy="45.11" r="2.11" fill="rgb(97,97,97)"/><circle cx="248.51" cy="45.29" r="1.73" fill="rgb(97,97,97)"/><ellipse cx="260" cy="18.5" rx="1.7" ry="4.25" fill="rgb(97,97,97)" transform="rotate(10 260 18.5)"/><ellipse cx="274" cy="13.8" rx="4.25" ry="2.12" fill="rgb(97,97,97)" transform="rotate(-30 274 13.8)"/><circle cx="274.68" cy="14.9" r="1.41" fill="rgb(97,97,97)"/><circle cx="275.55" cy="11.66" r="1.55" fill="rgb(97,97,97)"/><circle cx="271.84" cy="16.46" r="1.71" fill="rgb(97,97,97)"/><ellipse cx="273" cy="27" rx="2.55" ry="2.55" fill="rgb(97,97,97)"/><circle cx="273.26" cy="29.19" r="2.2" fill="rgb(97,97,97)"/><circle cx="274.39" cy="26.92" r="2.01" fill="rgb(97,97,97)"/><circle cx="273.94" cy="24.97" r="2.46" fill="rgb(97,97,97)"/><ellipse cx="277.5" cy="30" rx="2.55" ry="2.55" fill="rgb(97,97,97)"/><circle cx="279.06" cy="30.4" r="1.65" fill="rgb(97,97,97)"/><circle cx="278.39" cy="32.22" r="2.12" fill="rgb(97,97,97)"/><circle cx="279.04" cy="29.28" r="2.41" fill="rgb(97,97,97)"/><ellipse cx="272" cy="31" rx="1.7" ry="1.7" fill="rgb(97,97,97)"/><ellipse cx="267.8" cy="34.6" rx="1.7" ry="2.12" fill="rgb(97,97,97)"/><ellipse cx="267" cy="47" rx="1.7" ry="2.55" fill="rgb(97,97,97)"/><ellipse cx="279.4" cy="59.2" rx="3.4" ry="2.55" fill="rgb(97,97,97)" transform="rotate(20 279.4 59.2)"/><circle cx="277.36" cy="58.98" r="2.32" fill="rgb(97,97,97)"/><circle cx="281.21" cy="59.36" r="2.14" fill="rgb(97,97,97)"/><circle cx="278.36" cy="57.71" r="1.91" fill="rgb(97,97,97)"/><ellipse cx="271.7" cy="64.6" rx="2.55" ry="2.12" fill="rgb(97,97,97)"/><circle cx="272.65" cy="65.58" r="1.49" fill="rgb(97,97,97)"/><circle cx="270.06" cy="63.61" r="1.45" fill="rgb(97,97,97)"/><circle cx="273.35" cy="64.7" r="1.85" fill="rgb(97,97,97)"/><ellipse cx="235.5" cy="60.8" rx="1.7" ry="2.55" fill="rgb(97,97,97)"/><ellipse cx="244" cy="57.7" rx="1.27" ry="1.7" fill="rgb(128,128,128)"/><ellipse cx="216.3" cy="53.8" rx="1.7" ry="1.7" fill="rgb(128,128,128)"/><ellipse cx="264" cy="73.8" rx="2.12" ry="2.12" fill="rgb(97,97,97)"/><circle cx="264.54" cy="75.05" r="1.45" fill="rgb(97,97,97)"/><circle cx="264.45" cy="72.28" r="1.33" fill="rgb(97,97,97)"/><circle cx="265.16" cy="74.66" r="1.74" fill="rgb(97,97,97)"/><ellipse cx="256.3" cy="7" rx="1.27" ry="2.12" fill="rgb(128,128,128)"/><ellipse cx="256.3" cy="53" rx="1.27" ry="1.7" fill="rgb(128,128,128)"/><ellipse cx="222.5" cy="62.3" rx="1.27" ry="1.27" fill="rgb(158,158,158)"/><ellipse cx="219.4" cy="19.2" rx="1.27" ry="1.27" fill="rgb(158,158,158)"/><ellipse cx="248.6" cy="20" rx="1.27" ry="1.27" fill="rgb(128,128,128)"/><ellipse cx="292.8" cy="8.5" rx="5.1" ry="2.12" fill="rgb(97,97,97)" transform="rotate(-20 292.8 8.5)"/><circle cx="290.84" cy="8.28" r="1.41" fill="rgb(97,97,97)"/><circle cx="291.23" cy="7.61" r="1.52" fill="rgb(97,97,97)"/><circle cx="291.86" cy="10.81" r="1.54" fill="rgb(97,97,97)"/><ellipse cx="287.4" cy="21.5" rx="2.12" ry="2.12" fill="rgb(97,97,97)"/><circle cx="286.12" cy="20.93" r="1.63" fill="rgb(97,97,97)"/><circle cx="288.73" cy="19.98" r="1.58" fill="rgb(97,97,97)"/><circle cx="287.97" cy="23.16" r="1.45" fill="rgb(97,97,97)"/><ellipse cx="322" cy="13" rx="3.4" ry="3.4" fill="rgb(97,97,97)"/><circle cx="325.08" cy="13.11" r="2.62" fill="rgb(97,97,97)"/><circle cx="322.99" cy="10.9" r="3.24" fill="rgb(97,97,97)"/><circle cx="320.11" cy="13.47" r="2.06" fill="rgb(97,97,97)"/><ellipse cx="328" cy="15" rx="3.82" ry="3.82" fill="rgb(97,97,97)"/><circle cx="325.14" cy="14.04" r="3.69" fill="rgb(97,97,97)"/><circle cx="330.53" cy="16.58" r="2.86" fill="rgb(97,97,97)"/><circle cx="325.84" cy="14.94" r="2.73" fill="rgb(97,97,97)"/><ellipse cx="334" cy="14" rx="3.4" ry="3.82" fill="rgb(97,97,97)"/><circle cx="330.91" cy="13.54" r="2.19" fill="rgb(97,97,97)"/><circle cx="331.07" cy="14.2" r="3.35" fill="rgb(97,97,97)"/><circle cx="334.62" cy="16.01" r="3.32" fill="rgb(97,97,97)"/><ellipse cx="340" cy="13" rx="2.98" ry="3.82" fill="rgb(97,97,97)"/><circle cx="342.11" cy="12.58" r="1.85" fill="rgb(97,97,97)"/><circle cx="341.79" cy="11.85" r="2.86" fill="rgb(97,97,97)"/><circle cx="338.11" cy="10.71" r="1.98" fill="rgb(97,97,97)"/><ellipse cx="326" cy="21" rx="2.12" ry="2.12" fill="rgb(97,97,97)"/><circle cx="326.28" cy="19.76" r="1.62" fill="rgb(97,97,97)"/><circle cx="327.06" cy="19.47" r="1.43" fill="rgb(97,97,97)"/><circle cx="326.29" cy="22.42" r="1.72" fill="rgb(97,97,97)"/><ellipse cx="336" cy="20" rx="2.55" ry="1.7" fill="rgb(97,97,97)"/><ellipse cx="306.6" cy="19.2" rx="1.7" ry="1.27" fill="rgb(128,128,128)"/><ellipse cx="325" cy="30" rx="2.98" ry="2.12" fill="rgb(97,97,97)"/><circle cx="323.77" cy="30.79" r="1.49" fill="rgb(97,97,97)"/><circle cx="324.58" cy="28.1" r="1.31" fill="rgb(97,97,97)"/><circle cx="322.69" cy="29.32" r="1.31" fill="rgb(97,97,97)"/><ellipse cx="320.5" cy="34.6" rx="1.7" ry="2.12" fill="rgb(97,97,97)"/><ellipse cx="312" cy="43" rx="2.98" ry="1.7" fill="rgb(97,97,97)" transform="rotate(-20 312 43)"/><ellipse cx="332" cy="45.4" rx="2.12" ry="1.7" fill="rgb(97,97,97)"/><ellipse cx="341.2" cy="51.5" rx="4.25" ry="2.98" fill="rgb(97,97,97)"/><circle cx="342.44" cy="50.1" r="2.5" fill="rgb(97,97,97)"/><circle cx="338.04" cy="50.78" r="2.15" fill="rgb(97,97,97)"/><circle cx="338.36" cy="52.59" r="2.29" fill="rgb(97,97,97)"/><ellipse cx="346" cy="57" rx="2.98" ry="2.98" fill="rgb(97,97,97)"/><circle cx="344.87" cy="55.25" r="2.31" fill="rgb(97,97,97)"/><circle cx="348.29" cy="57.34" r="2.37" fill="rgb(97,97,97)"/><circle cx="346.23" cy="59.5" r="2.71" fill="rgb(97,97,97)"/><ellipse cx="350" cy="62" rx="3.4" ry="4.25" fill="rgb(97,97,97)" transform="rotate(10 350 62)"/><circle cx="348.01" cy="62.3" r="2.68" fill="rgb(97,97,97)"/><circle cx="351.2" cy="63.71" r="2.63" fill="rgb(97,97,97)"/><circle cx="351.68" cy="63.94" r="2.73" fill="rgb(97,97,97)"/><ellipse cx="347" cy="69" rx="2.98" ry="3.4" fill="rgb(97,97,97)" transform="rotate(20 347 69)"/><circle cx="348.9" cy="70.41" r="1.88" fill="rgb(97,97,97)"/><circle cx="347.74" cy="66.21" r="2.39" fill="rgb(97,97,97)"/><circle cx="348.63" cy="70.47" r="2.23" fill="rgb(97,97,97)"/><ellipse cx="344" cy="74" rx="2.12" ry="2.12" fill="rgb(97,97,97)"/><circle cx="345.14" cy="73.64" r="2" fill="rgb(97,97,97)"/><circle cx="345.76" cy="73.96" r="1.97" fill="rgb(97,97,97)"/><circle cx="344.69" cy="75.88" r="1.69" fill="rgb(97,97,97)"/><ellipse cx="293.5" cy="61.5" rx="2.12" ry="2.55" fill="rgb(97,97,97)"/><circle cx="295.37" cy="60.87" r="1.42" fill="rgb(97,97,97)"/><circle cx="293.97" cy="59.22" r="1.33" fill="rgb(97,97,97)"/><circle cx="292.44" cy="63.23" r="1.41" fill="rgb(97,97,97)"/><ellipse cx="282.8" cy="60" rx="1.7" ry="2.12" fill="rgb(97,97,97)"/><ellipse cx="349.7" cy="41.5" rx="1.7" ry="3.4" fill="rgb(128,128,128)"/><ellipse cx="352.8" cy="23" rx="1.27" ry="2.12" fill="rgb(128,128,128)"/><ellipse cx="357.4" cy="9.2" rx="1.27" ry="4.25" fill="rgb(128,128,128)"/><ellipse cx="297.4" cy="72.3" rx="1.27" ry="1.27" fill="rgb(128,128,128)"/><ellipse cx="326.6" cy="72.3" rx="1.7" ry="1.27" fill="rgb(128,128,128)"/><ellipse cx="306.6" cy="32.3" rx="1.27" ry="1.7" fill="rgb(158,158,158)"/><ellipse cx="288" cy="28.5" rx="1.27" ry="1.27" fill="rgb(158,158,158)"/><ellipse cx="219.4" cy="98" rx="2.12" ry="5.1" fill="rgb(97,97,97)" transform="rotate(5 219.4 98)"/><circle cx="220.62" cy="96.17" r="1.97" fill="rgb(97,97,97)"/><circle cx="220.1" cy="100.98" r="2.06" fill="rgb(97,97,97)"/><circle cx="219.47" cy="101.06" r="1.71" fill="rgb(97,97,97)"/><ellipse cx="240" cy="85" rx="2.55" ry="1.7" fill="rgb(97,97,97)"/><ellipse cx="214" cy="115" rx="2.12" ry="1.27" fill="rgb(128,128,128)"/><ellipse cx="251.7" cy="115" rx="3.82" ry="2.12" fill="rgb(97,97,97)"/><circle cx="250.87" cy="116" r="1.43" fill="rgb(97,97,97)"/><circle cx="253.57" cy="116.66" r="1.85" fill="rgb(97,97,97)"/><circle cx="253.44" cy="114.25" r="1.94" fill="rgb(97,97,97)"/><ellipse cx="247.5" cy="119" rx="1.7" ry="1.7" fill="rgb(97,97,97)"/><ellipse cx="224" cy="129.5" rx="3.82" ry="2.55" fill="rgb(97,97,97)"/><circle cx="226.12" cy="130.75" r="2.18" fill="rgb(97,97,97)"/><circle cx="221.83" cy="131.26" r="2.1" fill="rgb(97,97,97)"/><circle cx="220.99" cy="128.4" r="1.64" fill="rgb(97,97,97)"/><ellipse cx="225" cy="131" rx="2.12" ry="3.82" fill="rgb(97,97,97)" transform="rotate(20 225 131)"/><circle cx="226.61" cy="131.44" r="1.61" fill="rgb(97,97,97)"/><circle cx="226.14" cy="129.01" r="2.12" fill="rgb(97,97,97)"/><circle cx="224.24" cy="129.46" r="1.92" fill="rgb(97,97,97)"/><ellipse cx="274.8" cy="128" rx="2.98" ry="2.98" fill="rgb(97,97,97)"/><circle cx="273.19" cy="128.61" r="2.67" fill="rgb(97,97,97)"/><circle cx="277.27" cy="128.77" r="2.09" fill="rgb(97,97,97)"/><circle cx="273" cy="125.85" r="2.48" fill="rgb(97,97,97)"/><ellipse cx="257" cy="142.6" rx="3.4" ry="2.12" fill="rgb(97,97,97)" transform="rotate(-20 257 142.6)"/><circle cx="255.54" cy="141.89" r="1.28" fill="rgb(97,97,97)"/><circle cx="258.86" cy="142.19" r="1.8" fill="rgb(97,97,97)"/><circle cx="255.09" cy="143.98" r="2.04" fill="rgb(97,97,97)"/><ellipse cx="258" cy="143" rx="1.7" ry="3.4" fill="rgb(97,97,97)" transform="rotate(10 258 143)"/><ellipse cx="229.4" cy="140.3" rx="2.55" ry="1.7" fill="rgb(97,97,97)"/><ellipse cx="283" cy="105.7" rx="1.27" ry="2.55" fill="rgb(97,97,97)"/><ellipse cx="255.5" cy="87" rx="1.27" ry="1.27" fill="rgb(128,128,128)"/><ellipse cx="268.6" cy="88.8" rx="1.27" ry="1.27" fill="rgb(158,158,158)"/><ellipse cx="208.6" cy="135" rx="1.27" ry="1.7" fill="rgb(128,128,128)"/><ellipse cx="214.8" cy="149.5" rx="1.7" ry="1.27" fill="rgb(128,128,128)"/><ellipse cx="283" cy="140" rx="1.27" ry="1.7" fill="rgb(128,128,128)"/><ellipse cx="328" cy="82.6" rx="5.95" ry="2.55" fill="rgb(97,97,97)"/><circle cx="330.42" cy="83.73" r="2.2" fill="rgb(97,97,97)"/><circle cx="330.95" cy="82.78" r="1.89" fill="rgb(97,97,97)"/><circle cx="331.09" cy="83.64" r="1.76" fill="rgb(97,97,97)"/><ellipse cx="331" cy="88" rx="1.7" ry="2.55" fill="rgb(97,97,97)"/><ellipse cx="311" cy="95.7" rx="2.55" ry="1.7" fill="rgb(97,97,97)"/><ellipse cx="293.5" cy="88.8" rx="1.27" ry="2.12" fill="rgb(128,128,128)"/><ellipse cx="292" cy="103.4" rx="1.27" ry="4.25" fill="rgb(97,97,97)"/><ellipse cx="323.5" cy="103.4" rx="1.27" ry="2.12" fill="rgb(97,97,97)"/><ellipse cx="357.4" cy="97.2" rx="1.7" ry="2.55" fill="rgb(97,97,97)"/><ellipse cx="342.8" cy="115.7" rx="2.12" ry="5.1" fill="rgb(97,97,97)" transform="rotate(5 342.8 115.7)"/><circle cx="341.57" cy="113.63" r="1.45" fill="rgb(97,97,97)"/><circle cx="341.95" cy="113.06" r="1.39" fill="rgb(97,97,97)"/><circle cx="344.09" cy="114.6" r="1.4" fill="rgb(97,97,97)"/><ellipse cx="311" cy="115.7" rx="1.27" ry="2.55" fill="rgb(128,128,128)" transform="rotate(30 311 115.7)"/><ellipse cx="297.4" cy="121.8" rx="3.82" ry="2.12" fill="rgb(97,97,97)" transform="rotate(-25 297.4 121.8)"/><circle cx="300.05" cy="121.61" r="2.02" fill="rgb(97,97,97)"/><circle cx="297.27" cy="120.29" r="1.5" fill="rgb(97,97,97)"/><circle cx="300.18" cy="120.64" r="1.75" fill="rgb(97,97,97)"/><ellipse cx="327.4" cy="125" rx="2.12" ry="2.12" fill="rgb(97,97,97)"/><circle cx="326.41" cy="126.36" r="1.65" fill="rgb(97,97,97)"/><circle cx="329.03" cy="124.32" r="1.49" fill="rgb(97,97,97)"/><circle cx="328.31" cy="124.37" r="1.73" fill="rgb(97,97,97)"/><ellipse cx="316.6" cy="128.8" rx="2.55" ry="2.98" fill="rgb(97,97,97)"/><circle cx="315.31" cy="129.81" r="1.59" fill="rgb(97,97,97)"/><circle cx="316.83" cy="127.32" r="2.09" fill="rgb(97,97,97)"/><circle cx="317.94" cy="128.19" r="1.73" fill="rgb(97,97,97)"/><ellipse cx="294.3" cy="139.5" rx="2.98" ry="3.4" fill="rgb(97,97,97)"/><circle cx="292.61" cy="137.95" r="2.55" fill="rgb(97,97,97)"/><circle cx="294.97" cy="137.69" r="2.15" fill="rgb(97,97,97)"/><circle cx="293.82" cy="141.19" r="2.84" fill="rgb(97,97,97)"/><ellipse cx="323.5" cy="138" rx="2.12" ry="2.55" fill="rgb(97,97,97)"/><circle cx="323.86" cy="135.95" r="1.28" fill="rgb(97,97,97)"/><circle cx="324.49" cy="136.23" r="1.67" fill="rgb(97,97,97)"/><circle cx="323.42" cy="136.21" r="1.47" fill="rgb(97,97,97)"/><ellipse cx="342" cy="138" rx="1.7" ry="3.4" fill="rgb(97,97,97)"/><ellipse cx="314.3" cy="146.5" rx="3.4" ry="2.55" fill="rgb(97,97,97)"/><circle cx="315.92" cy="147.45" r="1.57" fill="rgb(97,97,97)"/><circle cx="312.84" cy="148.33" r="2.24" fill="rgb(97,97,97)"/><circle cx="315.87" cy="144.77" r="1.8" fill="rgb(97,97,97)"/><ellipse cx="332" cy="148.8" rx="2.55" ry="2.98" fill="rgb(97,97,97)"/><circle cx="330.32" cy="148.11" r="2.33" fill="rgb(97,97,97)"/><circle cx="330.44" cy="148.53" r="2.18" fill="rgb(97,97,97)"/><circle cx="333.49" cy="148.41" r="2.43" fill="rgb(97,97,97)"/><ellipse cx="290.5" cy="151" rx="2.55" ry="2.55" fill="rgb(97,97,97)"/><circle cx="292.07" cy="151.15" r="1.77" fill="rgb(97,97,97)"/><circle cx="290.41" cy="148.64" r="2.29" fill="rgb(97,97,97)"/><circle cx="289.44" cy="153.02" r="1.87" fill="rgb(97,97,97)"/><ellipse cx="346.6" cy="145" rx="1.7" ry="1.7" fill="rgb(97,97,97)"/></g>
<g filter="url(#fc)"><rect x="361" y="2.1" width="155" height="154.5" fill="rgb(201,201,201)"/></g>
<line x1="50.4" y1="79.1" x2="206" y2="79.1" stroke="#000" stroke-width="2.24" stroke-dasharray="8.4 3.48"/>
<line x1="205.4" y1="79.9" x2="361" y2="79.9" stroke="#000" stroke-width="2.24" stroke-dasharray="8.4 3.48"/>
<line x1="360.4" y1="80.4" x2="516" y2="80.4" stroke="#000" stroke-width="2.24" stroke-dasharray="8.4 3.48"/>
<g fill="none" stroke="#000" stroke-width="2.2"><rect x="51" y="2.1" width="465" height="154.5"/><path d="M206 2.1V156.6M361 2.1V156.6"/></g>
<rect x="66.6" y="6.1" width="25" height="31.6" fill="#fff"/><text x="79.1" y="27.8" font-size="18.6" text-anchor="middle">a</text>
<rect x="221.6" y="6.1" width="25.6" height="31.6" fill="#fff"/><text x="234.4" y="27.8" font-size="18.6" text-anchor="middle">b</text>
<rect x="376.6" y="6.1" width="23.9" height="31.6" fill="#fff"/><text x="388.55" y="27.8" font-size="18.6" text-anchor="middle">c</text>
<rect x="69.2" y="162.5" width="428.7" height="18" fill="url(#inf)" stroke="#000" stroke-width="2.2"/><path d="M69.2 180.5v-6.6M122.79 180.5v-6.6M176.38 180.5v-6.6M229.96 180.5v-6.6M283.55 180.5v-6.6M337.14 180.5v-6.6M390.72 180.5v-6.6M444.31 180.5v-6.6" stroke="#000" stroke-width="2" fill="none"/><text x="69.2" y="200.4" font-size="15" text-anchor="middle">0</text><text x="122.79" y="200.4" font-size="15" text-anchor="middle">5</text><text x="176.38" y="200.4" font-size="15" text-anchor="middle">10</text><text x="229.96" y="200.4" font-size="15" text-anchor="middle">15</text><text x="283.55" y="200.4" font-size="15" text-anchor="middle">20</text><text x="337.14" y="200.4" font-size="15" text-anchor="middle">25</text><text x="390.72" y="200.4" font-size="15" text-anchor="middle">30</text><text x="444.31" y="200.4" font-size="15" text-anchor="middle">35</text><text x="283.55" y="223" font-size="15" text-anchor="middle">[nm]</text>
<rect x="58.1" y="278.12" width="141.5" height="67.45" fill="#c07fc8"/><rect x="58.1" y="274.29" width="141.5" height="3.83" fill="#fbbf4c"/>
<rect x="212.1" y="282.21" width="141.1" height="35.77" fill="#c07fc8"/><rect x="212.1" y="274.54" width="141.1" height="7.67" fill="#fbbf4c"/>
<rect x="366.9" y="272.75" width="140.7" height="12.26" fill="#fbbf4c"/>
<polyline points="58.46,269.92 59.54,273.15 60.46,275.77 61.08,273.46 61.85,276.54 63.08,281.92 64.62,278.08 65.85,271.15 66.92,275 68.15,271.92 69.23,275.77 70.46,273.46 71.54,280.85 72.62,276.54 73.85,271.92 75.38,274.23 76.92,272.69 78.46,275.77 80,274.69 81.54,276.54 83.08,275 84.62,277.31 86.15,278.08 87.69,274.23 88.77,276.54 90.31,275 91.23,285.77 92.31,295.31 93.38,288.08 94.62,286.54 96.15,283.46 97.38,278.08 98.62,273.46 100,275.77 101.54,272.69 102.77,278.08 103.85,279.62 105.08,273.46 106.15,270.38 107.23,278.08 108.46,271.15 109.69,269.62 110.77,275 112.31,278.85 113.38,270.38 114.62,276.54 116.15,278.08 117.69,275.77 119.23,274.23 120.46,275 121.54,269.15 122.62,274.23 123.85,283.46 124.46,284.23 125,284.23 126.23,278.08 127.31,271.62 128.38,276.54 129.62,278.08 131.15,280.38 132.69,281.15 134.23,282.38 135.46,283.46 136.54,281.15 137.62,282.69 138.85,295 140.38,319.62 142.23,344.54 143.77,328.85 145.31,314.23 146.23,311.15 147.31,302.69 148.85,296.54 151.15,292.69 153.46,289.62 155,288.08 156.54,279.62 157.62,278.08 158.54,279.62 159.62,273.46 160.69,266.54 161.62,264.23 162.69,266.54 163.46,267.31 164.69,271.92 165.77,276.54 166.85,274.23 167.77,273.46 168.85,285.77 170.38,303.46 171.92,302.69 173,308.85 173.92,318.85 175,315 176.08,293.46 177.31,285.77 178.54,285 180.08,291.92 181.62,282.69 182.69,278.08 183.92,282.69 185.31,279.62 186.54,280.38 187.77,278.08 189.31,273.46 190.38,276.54 191.46,285.77 192.69,297.31 193.92,291.92 195,281.15 196.08,276.54 197.31,275.77 198.85,276.54 199.62,276.54" fill="none" stroke="#000" stroke-width="1.2" stroke-linejoin="round"/>
<polyline points="212.38,276.54 213.46,279.62 214.54,282.69 215.77,301.92 217,288.85 218.08,280.38 219.15,276.54 220.08,273.46 221.15,280.38 222.23,275.77 223.46,284.23 224.69,278.08 225.77,275 226.85,280.38 228.08,285.77 229.31,278.08 230.38,274.23 231.46,271.92 232.69,270.38 233.92,274.23 235,278.08 236.23,287.31 237.31,275 238.54,276.54 239.62,279.62 240.69,283.46 241.92,285.77 243.15,281.92 244.23,285 245.31,283.46 246.54,287.31 247.77,284.23 248.85,278.08 249.92,275 250.85,281.15 251.92,276.54 253,278.08 254.23,273.46 255,268.85 255.77,275 256.69,285.77 257.62,296.54 258.54,302.69 259.15,299.62 260.08,311.92 260.69,315.77 261.46,301.15 262.23,285.77 263.15,278.08 264.23,272.69 265,278.08 265.92,285 266.85,281.92 267.77,283.46 268.85,278.08 269.62,273.46 270.38,271.15 271.15,285.77 271.92,289.62 272.69,278.08 273.77,270.38 274.54,266.54 275.46,271.92 276.23,284.23 277,295 278.08,291.92 279.62,292.69 280,292.69 281.54,291.92 282.31,279.62 283.38,271.92 284.31,273.46 285.23,282.69 286.15,278.08 287.08,274.23 288,278.08 288.92,273.46 289.85,271.92 290.77,278.08 291.69,280.38 292.62,273.46 293.54,270.38 294.15,268.08 294.92,262.69 295.69,270.38 296.62,274.23 297.54,275.77 298.46,278.08 299.38,275 300.31,281.92 301.23,287.31 302.15,278.08 303.08,276.54 303.85,285 304.62,275 305.54,269.62 306.46,268.85 307.38,271.92 308.31,276.54 309.23,278.08 310.15,276.54 311.08,278.85 312,275 312.77,272.69 313.54,278.85 314.46,276.54 315.38,281.15 316.31,291.92 317.23,305.77 318.15,312.69 319.08,307.31 320,301.15 320.92,299.62 321.85,305.77 322.77,293.46 323.69,283.46 324.62,290.38 325.54,296.54 326.46,299.62 327.69,304.23 328.92,308.85 330.15,311.15 331.08,308.85 332,299.62 332.92,291.92 333.85,288.08 334.77,295 335.69,293.46 336.62,295.77 337.54,308.85 338.46,296.54 339.38,285.77 340.31,278.08 341.23,275 342.15,281.15 343.08,285.77 344,291.92 344.92,284.23 345.85,276.54 346.77,271.92 347.69,279.62 348.62,285.77 349.54,282.69 350.46,290.38 351.38,307.31 352.31,311.15 353.23,313.46" fill="none" stroke="#000" stroke-width="1.2" stroke-linejoin="round"/>
<polyline points="366.9,276.84 367.45,283.79 368,281.67 368.56,277.63 369.11,274.25 369.66,275.85 370.21,279.77 370.76,281.73 371.31,277.72 371.87,272.16 372.42,269.43 372.97,281.44 373.52,283.56 374.07,275.57 374.62,274.68 375.18,283.02 375.73,281.98 376.28,281.92 376.83,282.46 377.38,281.02 377.94,281.4 378.49,278.15 379.04,277.48 379.59,280.21 380.14,278.32 380.69,275.16 381.25,281.55 381.8,282.31 382.35,281.73 382.9,280.78 383.45,282.46 384,280.82 384.56,278.44 385.11,279.33 385.66,282.02 386.21,281.56 386.76,282.32 387.32,284.44 387.87,280.35 388.42,281.17 388.97,287.32 389.52,274.01 390.07,282.8 390.63,281.46 391.18,281.05 391.73,280.42 392.28,278.18 392.83,284.08 393.38,282.91 393.94,279.57 394.49,276.07 395.04,279.95 395.59,278.52 396.14,280.14 396.7,281.47 397.25,281.46 397.8,275.79 398.35,273.9 398.9,270.19 399.45,271.78 400.01,274.67 400.56,274.28 401.11,278.51 401.66,279.75 402.21,274.58 402.76,276.91 403.32,278.59 403.87,278.07 404.42,276.64 404.97,278.25 405.52,279.53 406.08,277.96 406.63,277.6 407.18,280.69 407.73,277.44 408.28,280.42 408.83,284.39 409.39,284.44 409.94,278.05 410.49,277.55 411.04,281.9 411.59,283.57 412.14,279.35 412.7,280.63 413.25,287.32 413.8,279.05 414.35,280.67 414.9,281.64 415.46,279.02 416.01,279.68 416.56,279.4 417.11,274.58 417.66,277.28 418.21,283.04 418.77,286.17 419.32,282.54 419.87,279.8 420.42,278.28 420.97,279.21 421.52,280.67 422.08,281.4 422.63,281.29 423.18,278.92 423.73,279.17 424.28,278.82 424.84,272.64 425.39,273.29 425.94,282.03 426.49,276.38 427.04,273.99 427.59,280.44 428.15,277.56 428.7,276.56 429.25,280.13 429.8,281.41 430.35,282.5 430.9,280.16 431.46,275.17 432.01,277.24 432.56,277.78 433.11,272.09 433.66,278.27 434.22,279.98 434.77,278.77 435.32,282.05 435.87,283.42 436.42,280.41 436.97,277.14 437.53,279.08 438.08,279.25 438.63,276.16 439.18,276.11 439.73,275.27 440.28,275.34 440.84,276.06 441.39,288.59 441.94,273.01 442.49,276.79 443.04,276.05 443.6,279.67 444.15,281.14 444.7,276.72 445.25,275 445.8,272.64 446.35,275.34 446.91,282.61 447.46,292.43 448.01,271.41 448.56,279.33 449.11,276.42 449.66,275.61 450.22,283.59 450.77,283.12 451.32,280.67 451.87,274.73 452.42,266.88 452.98,280.65 453.53,279.67 454.08,280.01 454.63,281.77 455.18,279.51 455.73,274.81 456.29,274.46 456.84,279.86 457.39,283.52 457.94,280.26 458.49,280.2 459.04,281.58 459.6,284.49 460.15,275.95 460.7,271.92 461.25,279.43 461.8,289.87 462.36,272.7 462.91,282.73 463.46,284.61 464.01,266.88 464.56,277.24 465.11,277.47 465.67,279.28 466.22,288.59 466.77,273.09 467.32,268.48 467.87,275.71 468.42,282.09 468.98,272.33 469.53,276 470.08,281.95 470.63,279.38 471.18,276.89 471.74,274.44 472.29,275.24 472.84,280.15 473.39,278.59 473.94,276.66 474.49,272.42 475.05,274.77 475.6,282.3 476.15,284.01 476.7,276.18 477.25,277.13 477.8,285.55 478.36,284.15 478.91,279.5 479.46,274.91 480.01,279.02 480.56,278.4 481.12,274.76 481.67,278.87 482.22,280.28 482.77,273.58 483.32,269.93 483.87,272.54 484.43,275.74 484.98,274.41 485.53,276.57 486.08,278.92 486.63,281.06 487.18,280.03 487.74,278.6 488.29,270.45 488.84,273.55 489.39,275.05 489.94,272.06 490.5,276.35 491.05,275.33 491.6,282.44 492.15,282.32 492.7,275.69 493.25,283.69 493.81,286.41 494.36,277.55 494.91,277.07 495.46,282.07 496.01,281.59 496.56,280.68 497.12,277.32 497.67,275.64 498.22,278.31 498.77,280.86 499.32,279.82 499.88,274.62 500.43,274.78 500.98,275.83 501.53,277.57 502.08,282.43 502.63,269.43 503.19,277.86 503.74,276.81 504.29,280.81 504.84,286.04 505.39,281.19 505.94,279.15 506.5,288.59 507.05,280.01 507.6,289.87" fill="none" stroke="#000" stroke-width="1.2" stroke-linejoin="round"/>
<g fill="none" stroke="#000" stroke-width="2.2"><rect x="51" y="234.8" width="465" height="123.5"/><path d="M206 234.8V358.3M361 234.8V358.3"/></g>
<text x="58.3" y="377.2" font-size="15" text-anchor="middle">0.0</text>
<text x="93.55" y="377.2" font-size="15" text-anchor="middle">0.5</text>
<text x="128.8" y="377.2" font-size="15" text-anchor="middle">1.0</text>
<text x="164.05" y="377.2" font-size="15" text-anchor="middle">1.5</text>
<text x="128.5" y="400.2" font-size="15" letter-spacing="0.5" text-anchor="middle"><tspan font-style="oblique">x</tspan>[<tspan font-style="oblique">μm</tspan>]</text>
<text x="212.1" y="377.2" font-size="15" text-anchor="middle">0.0</text>
<text x="247.35" y="377.2" font-size="15" text-anchor="middle">0.5</text>
<text x="282.6" y="377.2" font-size="15" text-anchor="middle">1.0</text>
<text x="317.85" y="377.2" font-size="15" text-anchor="middle">1.5</text>
<text x="283.5" y="400.2" font-size="15" letter-spacing="0.5" text-anchor="middle"><tspan font-style="oblique">x</tspan>[<tspan font-style="oblique">μm</tspan>]</text>
<text x="366.6" y="377.2" font-size="15" text-anchor="middle">0.0</text>
<text x="401.85" y="377.2" font-size="15" text-anchor="middle">0.5</text>
<text x="437.1" y="377.2" font-size="15" text-anchor="middle">1.0</text>
<text x="472.35" y="377.2" font-size="15" text-anchor="middle">1.5</text>
<text x="507.6" y="377.2" font-size="15" text-anchor="middle">2.0</text>
<text x="438.5" y="400.2" font-size="15" letter-spacing="0.5" text-anchor="middle"><tspan font-style="oblique">x</tspan>[<tspan font-style="oblique">μm</tspan>]</text>
<path d="M58.3 358.3v-8M93.55 358.3v-8M128.8 358.3v-8M164.05 358.3v-8M51 307.5h8M51 256.4h8M212.1 358.3v-8M247.35 358.3v-8M282.6 358.3v-8M317.85 358.3v-8M206 307.5h8M206 256.4h8M366.6 358.3v-8M401.85 358.3v-8M437.1 358.3v-8M472.35 358.3v-8M507.6 358.3v-8M361 307.5h8M361 256.4h8" stroke="#000" stroke-width="2" fill="none"/>
<text x="45" y="365.7" font-size="15" text-anchor="end">0</text>
<text x="45" y="314.6" font-size="15" text-anchor="end">20</text>
<text x="45" y="263.5" font-size="15" text-anchor="end">40</text>
<text transform="translate(12.9 296.3) rotate(-90)" font-size="15" text-anchor="middle">z [nm]</text>
<text x="73.4" y="260.4" font-size="18.6">d</text>
<text x="228.4" y="260.4" font-size="18.6">e</text>
<text x="383.4" y="260.4" font-size="18.6">f</text>
<g filter="url(#fg)"><rect x="43" y="418.8" width="171" height="170.7" fill="rgb(87,87,87)"/><rect x="59.11" y="509.18" width="30.35" height="1.4" fill="rgb(51,51,51)"/><rect x="123.49" y="474.15" width="44.98" height="1.4" fill="rgb(51,51,51)"/><rect x="129.85" y="554.86" width="44.16" height="1.4" fill="rgb(51,51,51)"/><rect x="157.23" y="541.34" width="18.6" height="1.4" fill="rgb(51,51,51)"/><rect x="133.37" y="565.32" width="32.67" height="1.4" fill="rgb(51,51,51)"/><rect x="165.47" y="555.08" width="23.65" height="1.4" fill="rgb(51,51,51)"/><rect x="96.18" y="536.42" width="25.69" height="1.4" fill="rgb(51,51,51)"/><rect x="143.08" y="447.26" width="41.41" height="1.4" fill="rgb(51,51,51)"/><g fill="url(#dg)" opacity="0.62"><ellipse cx="60.73" cy="447.67" rx="2.02" ry="1.87"/><ellipse cx="54.87" cy="431.49" rx="3.31" ry="2.99"/><ellipse cx="52.05" cy="491.76" rx="2.77" ry="1.59"/><ellipse cx="53.62" cy="490.62" rx="3.72" ry="3.72"/><ellipse cx="121.64" cy="453.12" rx="2.68" ry="1.81"/><ellipse cx="122.21" cy="443.42" rx="2.51" ry="2.04"/><ellipse cx="148.41" cy="449.63" rx="2.99" ry="2.31"/><ellipse cx="116.93" cy="443.29" rx="2.26" ry="2.18"/><ellipse cx="128.58" cy="446.43" rx="3.29" ry="3.48"/><ellipse cx="111.78" cy="430.11" rx="1.51" ry="2.41"/><ellipse cx="132.4" cy="460.08" rx="3.32" ry="2.08"/><ellipse cx="134.99" cy="455.31" rx="3.71" ry="2.76"/><ellipse cx="197.97" cy="454.15" rx="2.31" ry="1.86"/><ellipse cx="196.13" cy="451.68" rx="2.2" ry="2.97"/><ellipse cx="206.07" cy="441.22" rx="3.43" ry="2.48"/><ellipse cx="150.52" cy="485.53" rx="2.63" ry="2.31"/><ellipse cx="153.84" cy="508.42" rx="2.18" ry="3.39"/><ellipse cx="154.32" cy="490.54" rx="3.06" ry="2.46"/><ellipse cx="151.06" cy="524.74" rx="2.23" ry="3.34"/><ellipse cx="148.59" cy="512.08" rx="2.6" ry="3.13"/><ellipse cx="163.94" cy="485.64" rx="2.67" ry="3.64"/><ellipse cx="77.84" cy="519.02" rx="2.59" ry="2.76"/><ellipse cx="90.77" cy="526.22" rx="2.63" ry="2.82"/><ellipse cx="72.36" cy="547.74" rx="3.22" ry="3.12"/><ellipse cx="68.43" cy="552.99" rx="2.65" ry="2.1"/><ellipse cx="80.57" cy="552.25" rx="2.45" ry="3.11"/><ellipse cx="53.78" cy="552.74" rx="2.2" ry="3.34"/><ellipse cx="112.05" cy="546.6" rx="2.43" ry="2.09"/><ellipse cx="151.27" cy="574.38" rx="2.24" ry="3.23"/><ellipse cx="149.75" cy="568.24" rx="2.45" ry="2.53"/><ellipse cx="148.38" cy="558.69" rx="1.84" ry="2.31"/><ellipse cx="183.8" cy="517.38" rx="2.34" ry="2.48"/><ellipse cx="180.71" cy="525.98" rx="2.47" ry="3.08"/><ellipse cx="188.86" cy="516.16" rx="2.83" ry="2.43"/><ellipse cx="191.07" cy="523.38" rx="2.26" ry="3.19"/><ellipse cx="184.56" cy="560.99" rx="2.84" ry="2.32"/><ellipse cx="193.64" cy="559.19" rx="3.3" ry="2.12"/><ellipse cx="99.94" cy="575.03" rx="2.74" ry="2.85"/><ellipse cx="66.04" cy="445.93" rx="3.34" ry="2.3"/><ellipse cx="55.16" cy="429.15" rx="2.57" ry="3.1"/><ellipse cx="65.42" cy="491.87" rx="3.55" ry="2.55"/><ellipse cx="70.26" cy="493.24" rx="2.57" ry="3.12"/><ellipse cx="66.43" cy="493.22" rx="2.67" ry="3.2"/><ellipse cx="122.56" cy="444.58" rx="3.84" ry="3.95"/><ellipse cx="109.68" cy="441.28" rx="2.87" ry="2.07"/><ellipse cx="114.63" cy="447.03" rx="2.3" ry="3.26"/><ellipse cx="153.86" cy="446.29" rx="3.87" ry="2.42"/><ellipse cx="133.92" cy="447.17" rx="2.69" ry="1.75"/><ellipse cx="141.15" cy="461.24" rx="1.58" ry="1.83"/><ellipse cx="198.41" cy="454.74" rx="2.17" ry="2.02"/><ellipse cx="191.42" cy="447.02" rx="2.71" ry="2.13"/><ellipse cx="190.19" cy="440.77" rx="2.97" ry="2.45"/><ellipse cx="139.88" cy="517.82" rx="3.4" ry="3.3"/><ellipse cx="163.76" cy="500.03" rx="2.88" ry="2.64"/><ellipse cx="131.12" cy="497.06" rx="2.3" ry="2.29"/><ellipse cx="143.54" cy="515.06" rx="2.02" ry="2.97"/><ellipse cx="158.59" cy="466.87" rx="3.26" ry="2.32"/><ellipse cx="163.42" cy="483.69" rx="2.14" ry="2.65"/><ellipse cx="139.51" cy="485.86" rx="2.98" ry="2.48"/><ellipse cx="92.38" cy="525.11" rx="2.04" ry="3.32"/><ellipse cx="96.87" cy="507.28" rx="2.73" ry="2.69"/><ellipse cx="85.8" cy="522.9" rx="2.62" ry="2.96"/><ellipse cx="56.81" cy="544.05" rx="3.1" ry="2.52"/><ellipse cx="73.4" cy="563.11" rx="2.34" ry="2.55"/><ellipse cx="71.18" cy="540.35" rx="4" ry="3.65"/><ellipse cx="87.74" cy="553.86" rx="2.83" ry="3.78"/><ellipse cx="123.4" cy="539.27" rx="1.8" ry="3.05"/><ellipse cx="140.68" cy="564.68" rx="3.98" ry="3.48"/><ellipse cx="157.47" cy="561.96" rx="3.61" ry="3.11"/><ellipse cx="171.17" cy="526.94" rx="3.32" ry="3.21"/><ellipse cx="206.21" cy="529.48" rx="3.46" ry="3.66"/><ellipse cx="188.78" cy="514.32" rx="2.94" ry="1.77"/><ellipse cx="197.62" cy="521.49" rx="2.73" ry="2.91"/><ellipse cx="180.79" cy="559.6" rx="3" ry="2.19"/><ellipse cx="194.68" cy="563.39" rx="1.74" ry="2.65"/><ellipse cx="114.98" cy="573.38" rx="2.08" ry="2.3"/><ellipse cx="98.98" cy="574.39" rx="3.94" ry="3.75"/><ellipse cx="74.42" cy="545.2" rx="3.75" ry="3.29"/><ellipse cx="178.54" cy="522.04" rx="2.69" ry="2.46"/><ellipse cx="118" cy="508.25" rx="1.99" ry="1.72"/><ellipse cx="81.35" cy="574.25" rx="2.31" ry="2.19"/><ellipse cx="109.35" cy="517.49" rx="3.98" ry="2.55"/><ellipse cx="123.68" cy="473.15" rx="2.85" ry="2.28"/><ellipse cx="178.9" cy="482.21" rx="3.36" ry="2.7"/><ellipse cx="181.45" cy="469.11" rx="1.72" ry="2.38"/><ellipse cx="115.07" cy="460.19" rx="2.49" ry="1.96"/><ellipse cx="98.57" cy="500.93" rx="2.09" ry="2.58"/><ellipse cx="111.69" cy="523.38" rx="3.57" ry="3.25"/><ellipse cx="146.51" cy="483.84" rx="3.89" ry="3.19"/><ellipse cx="61.62" cy="553.18" rx="3.04" ry="3.21"/><ellipse cx="187.58" cy="543.06" rx="2.5" ry="3.19"/><ellipse cx="145.81" cy="428.59" rx="3.1" ry="3.71"/><ellipse cx="54.88" cy="568.91" rx="2.09" ry="3.48"/><ellipse cx="64.45" cy="451.55" rx="2.47" ry="2.51"/><ellipse cx="105.31" cy="451.9" rx="2.47" ry="2.81"/><ellipse cx="78.35" cy="562.67" rx="3.23" ry="3.62"/><ellipse cx="143.72" cy="540.88" rx="1.93" ry="2.41"/><ellipse cx="173.63" cy="552.01" rx="1.93" ry="2.38"/><ellipse cx="81.95" cy="529.52" rx="2.18" ry="2.22"/><ellipse cx="130.09" cy="538.1" rx="3.12" ry="2.65"/><ellipse cx="136.81" cy="468.67" rx="3.34" ry="1.96"/><ellipse cx="88.36" cy="449.9" rx="2.38" ry="3.95"/><ellipse cx="132.69" cy="434.62" rx="3.09" ry="3.01"/><ellipse cx="134.47" cy="558.43" rx="2.3" ry="3.14"/><ellipse cx="153.46" cy="555.08" rx="1.88" ry="2.97"/><ellipse cx="104.78" cy="496.35" rx="2.05" ry="3.05"/><ellipse cx="58.34" cy="524.17" rx="3.42" ry="2.44"/><ellipse cx="159.4" cy="567.73" rx="2.22" ry="2.33"/><ellipse cx="130.1" cy="501.7" rx="2.42" ry="3.15"/><ellipse cx="186.1" cy="437.07" rx="1.84" ry="2.09"/><ellipse cx="108.29" cy="500.18" rx="2.77" ry="3.47"/><ellipse cx="139.85" cy="542.59" rx="2.86" ry="2.62"/><ellipse cx="118.22" cy="505.62" rx="2.68" ry="2.22"/><ellipse cx="176.42" cy="477.69" rx="2.21" ry="1.96"/><ellipse cx="182.04" cy="491.45" rx="2.24" ry="2.22"/><ellipse cx="123.92" cy="459.9" rx="1.95" ry="2.9"/><ellipse cx="102.97" cy="476.56" rx="3.6" ry="2.95"/><ellipse cx="98.18" cy="516.97" rx="2.93" ry="1.77"/><ellipse cx="148.86" cy="546.63" rx="2.15" ry="1.83"/><ellipse cx="60.83" cy="535.14" rx="2.06" ry="3.04"/><ellipse cx="60.5" cy="474.06" rx="2.9" ry="2.48"/><ellipse cx="58.08" cy="461.3" rx="2.86" ry="2.08"/><ellipse cx="190.38" cy="520.76" rx="2.33" ry="2.31"/><ellipse cx="145.71" cy="525.8" rx="2.65" ry="3.3"/><ellipse cx="157.1" cy="513.83" rx="2.4" ry="2.77"/><ellipse cx="151.33" cy="502.7" rx="2.13" ry="3.19"/><ellipse cx="80.38" cy="434.55" rx="3.11" ry="3.79"/><ellipse cx="156.53" cy="488.66" rx="2.94" ry="2.73"/><ellipse cx="171.64" cy="548.02" rx="1.97" ry="2.39"/><ellipse cx="98.61" cy="492.27" rx="2.73" ry="2.47"/><ellipse cx="149.91" cy="569.08" rx="2.04" ry="1.96"/><ellipse cx="63.13" cy="446.42" rx="2.17" ry="2.11"/><ellipse cx="176.39" cy="514.64" rx="2.51" ry="2.8"/><ellipse cx="55.13" cy="487.07" rx="3.23" ry="2.11"/><ellipse cx="145.73" cy="570.78" rx="3.29" ry="2.89"/><ellipse cx="115.27" cy="444.31" rx="3.2" ry="3.19"/><ellipse cx="80.82" cy="426.57" rx="1.98" ry="2.69"/><ellipse cx="71.03" cy="572.8" rx="3.37" ry="2.94"/><ellipse cx="71.1" cy="434.99" rx="2.2" ry="3.42"/><ellipse cx="170.29" cy="455.52" rx="3.13" ry="2.43"/><ellipse cx="160.75" cy="557.32" rx="1.74" ry="2.47"/><ellipse cx="167.18" cy="439.82" rx="3.12" ry="2.3"/><ellipse cx="151.31" cy="532.08" rx="2.84" ry="2.47"/><ellipse cx="161.3" cy="430.71" rx="3.73" ry="3.06"/><ellipse cx="176.42" cy="440.95" rx="2.74" ry="2.85"/><ellipse cx="89.65" cy="538.58" rx="2.89" ry="3.18"/><ellipse cx="108.5" cy="515.24" rx="3.2" ry="3.46"/><ellipse cx="119.25" cy="530.53" rx="3.76" ry="2.66"/><ellipse cx="105.57" cy="528.73" rx="2.63" ry="1.77"/><ellipse cx="109.21" cy="544.27" rx="2.47" ry="2.26"/><ellipse cx="204.11" cy="549.96" rx="2.67" ry="2.58"/><ellipse cx="62.16" cy="575.09" rx="2.32" ry="3.89"/><ellipse cx="200.59" cy="553.69" rx="2.98" ry="2.33"/><ellipse cx="117.71" cy="562.22" rx="1.73" ry="2.36"/><ellipse cx="110.99" cy="528.32" rx="2.73" ry="2.28"/><ellipse cx="147.48" cy="562.58" rx="2.58" ry="2.92"/><ellipse cx="175.05" cy="474.71" rx="2.57" ry="2.48"/><ellipse cx="116.8" cy="517" rx="2.71" ry="2.17"/><ellipse cx="173.38" cy="560.72" rx="2.44" ry="2.46"/><ellipse cx="175.57" cy="559.08" rx="2.74" ry="2.33"/><ellipse cx="139.36" cy="470.08" rx="2.16" ry="3.72"/><ellipse cx="176.96" cy="557.15" rx="2.44" ry="3.57"/><ellipse cx="107.99" cy="447.88" rx="2.66" ry="2.11"/><ellipse cx="193.69" cy="464.1" rx="2.8" ry="2.03"/><ellipse cx="123.26" cy="459.99" rx="2.17" ry="2.16"/><ellipse cx="91.46" cy="541.67" rx="2.63" ry="2.32"/><ellipse cx="164.9" cy="500.3" rx="2.54" ry="1.61"/><ellipse cx="165.03" cy="461.77" rx="3.15" ry="2.44"/><ellipse cx="186.65" cy="507.28" rx="3" ry="2.52"/><ellipse cx="125.16" cy="513.45" rx="3.56" ry="3.36"/><ellipse cx="78.9" cy="528.94" rx="2.78" ry="3.02"/><ellipse cx="113.78" cy="506.58" rx="3.03" ry="3.33"/><ellipse cx="75.5" cy="435.69" rx="2.63" ry="2.63"/><ellipse cx="171.89" cy="452.42" rx="1.99" ry="3"/><ellipse cx="131.44" cy="432.09" rx="2.58" ry="2.82"/><ellipse cx="62.12" cy="576.66" rx="3.32" ry="2.65"/><ellipse cx="172.08" cy="490.36" rx="2.47" ry="2.37"/><ellipse cx="176.64" cy="573.52" rx="1.79" ry="2.47"/><ellipse cx="91.42" cy="431.36" rx="2.98" ry="2.52"/><ellipse cx="81.99" cy="454.38" rx="2.72" ry="2.29"/><ellipse cx="137.16" cy="559.6" rx="2.87" ry="2.61"/><ellipse cx="143.31" cy="488.61" rx="1.61" ry="2.4"/><ellipse cx="68.09" cy="571.66" rx="2.44" ry="1.98"/><ellipse cx="88.67" cy="512.02" rx="4.04" ry="3.23"/><ellipse cx="147.62" cy="574.3" rx="1.6" ry="2.12"/><ellipse cx="157.92" cy="495.04" rx="3.85" ry="3.68"/><ellipse cx="86.48" cy="434.79" rx="2.68" ry="2.67"/><ellipse cx="94.91" cy="480.84" rx="2.94" ry="2.26"/><ellipse cx="190.12" cy="573.59" rx="1.69" ry="2.67"/><ellipse cx="171.74" cy="535.44" rx="3.68" ry="3.5"/><ellipse cx="152.69" cy="580.87" rx="2.09" ry="3.37"/><ellipse cx="163.89" cy="570.45" rx="2.47" ry="2.63"/><ellipse cx="142.31" cy="542.68" rx="3.19" ry="2.42"/><ellipse cx="125.68" cy="454.29" rx="3.45" ry="2.25"/><ellipse cx="155.32" cy="430.89" rx="3.97" ry="2.68"/><ellipse cx="86.92" cy="572.13" rx="2.25" ry="2.86"/><ellipse cx="67.65" cy="568.32" rx="3.41" ry="3.56"/><ellipse cx="186.75" cy="525.95" rx="2.39" ry="2.63"/><ellipse cx="126.26" cy="485.14" rx="2.93" ry="3.62"/><ellipse cx="150.64" cy="450.74" rx="2.64" ry="2.53"/><ellipse cx="160.77" cy="512.01" rx="3.35" ry="2.7"/><ellipse cx="74.85" cy="559.61" rx="2.75" ry="2.37"/><ellipse cx="76.51" cy="469.67" rx="3.43" ry="2.69"/><ellipse cx="179.77" cy="479.18" rx="1.69" ry="2.7"/><ellipse cx="106.96" cy="566.52" rx="3.1" ry="3.54"/><ellipse cx="61.58" cy="563.26" rx="3.11" ry="2.09"/><ellipse cx="153.91" cy="460.67" rx="3.15" ry="2.66"/><ellipse cx="125.1" cy="471.93" rx="3.35" ry="2.03"/><ellipse cx="108.01" cy="577.65" rx="3.46" ry="2.97"/><ellipse cx="64.38" cy="470.32" rx="3.8" ry="3.39"/><ellipse cx="162.7" cy="473.03" rx="2.99" ry="3.05"/><ellipse cx="200.77" cy="431.4" rx="3.75" ry="2.45"/><ellipse cx="176.03" cy="483.03" rx="2.59" ry="3.56"/><ellipse cx="70.29" cy="433.85" rx="4.17" ry="2.31"/><ellipse cx="81.06" cy="494.29" rx="2.07" ry="2.13"/><ellipse cx="188.18" cy="460.42" rx="2.98" ry="2.7"/><ellipse cx="140.15" cy="452.63" rx="3.03" ry="3.15"/><ellipse cx="157.22" cy="461.89" rx="2.88" ry="3.79"/><ellipse cx="146.81" cy="499.67" rx="2.75" ry="2.63"/><ellipse cx="146.09" cy="538.33" rx="2.89" ry="2.94"/><ellipse cx="177.41" cy="520.05" rx="2.21" ry="2.77"/><ellipse cx="87.15" cy="446.88" rx="2.61" ry="2.77"/><ellipse cx="175.41" cy="479.28" rx="3.88" ry="3.27"/><ellipse cx="130.02" cy="428.86" rx="2.62" ry="2.88"/><ellipse cx="196.5" cy="504.56" rx="2.66" ry="2.21"/><ellipse cx="186.98" cy="475.94" rx="2.91" ry="2.91"/><ellipse cx="107.68" cy="452.73" rx="1.83" ry="1.63"/><ellipse cx="50.22" cy="508.32" rx="2.78" ry="2.2"/></g><g fill="url(#dg)" opacity="0.74"><ellipse cx="58.96" cy="451.27" rx="3.42" ry="2.42"/><ellipse cx="57.64" cy="432.45" rx="2.01" ry="2.28"/><ellipse cx="59.53" cy="468" rx="2.25" ry="3.1"/><ellipse cx="58.57" cy="481.66" rx="3.31" ry="3.36"/><ellipse cx="119.04" cy="450.07" rx="2.47" ry="2.38"/><ellipse cx="120.35" cy="441.15" rx="3.85" ry="3.98"/><ellipse cx="146.04" cy="446.95" rx="2.28" ry="2.99"/><ellipse cx="120.24" cy="445.34" rx="3.53" ry="2.75"/><ellipse cx="112.3" cy="431.79" rx="3.84" ry="3.24"/><ellipse cx="136.85" cy="469" rx="3.06" ry="2.28"/><ellipse cx="123.25" cy="473.82" rx="2.07" ry="1.73"/><ellipse cx="131.03" cy="456.51" rx="3.39" ry="2.27"/><ellipse cx="200.8" cy="452.72" rx="3.29" ry="2.88"/><ellipse cx="193.5" cy="453.98" rx="1.82" ry="2.18"/><ellipse cx="142.7" cy="483.48" rx="2.29" ry="1.79"/><ellipse cx="148.93" cy="494.52" rx="3.13" ry="2.39"/><ellipse cx="153.08" cy="511.36" rx="2.52" ry="2.57"/><ellipse cx="149.98" cy="516.33" rx="3.06" ry="3.16"/><ellipse cx="153.7" cy="522.46" rx="2.13" ry="2.68"/><ellipse cx="151.65" cy="511.45" rx="2.85" ry="2.74"/><ellipse cx="100.51" cy="521.12" rx="3.6" ry="2.94"/><ellipse cx="78.08" cy="515.38" rx="2.63" ry="2.51"/><ellipse cx="92.78" cy="523.92" rx="3.2" ry="2.4"/><ellipse cx="76.11" cy="552.04" rx="2.65" ry="1.68"/><ellipse cx="71.92" cy="530.81" rx="2.48" ry="2.69"/><ellipse cx="83.55" cy="552.63" rx="3.17" ry="3.45"/><ellipse cx="50.54" cy="552.63" rx="2.44" ry="1.88"/><ellipse cx="108.18" cy="551.5" rx="2.38" ry="2.57"/><ellipse cx="152.15" cy="577.38" rx="1.97" ry="1.78"/><ellipse cx="146.08" cy="567.24" rx="3.79" ry="2.81"/><ellipse cx="147.26" cy="555.64" rx="2.22" ry="3.07"/><ellipse cx="186.18" cy="519.21" rx="2.25" ry="3.54"/><ellipse cx="178.05" cy="528.57" rx="2.74" ry="3.86"/><ellipse cx="191.35" cy="512.95" rx="2.12" ry="3"/><ellipse cx="198.37" cy="549.16" rx="2.01" ry="1.72"/><ellipse cx="187.8" cy="558.52" rx="2.62" ry="1.75"/><ellipse cx="191.9" cy="555.44" rx="3.25" ry="2.26"/><ellipse cx="97.34" cy="573.06" rx="3.34" ry="2.96"/><ellipse cx="63.87" cy="448.5" rx="3.05" ry="2.65"/><ellipse cx="53.6" cy="426.4" rx="3.09" ry="3.55"/><ellipse cx="65.54" cy="471.46" rx="2.78" ry="2.57"/><ellipse cx="67.03" cy="493.16" rx="3.41" ry="2.34"/><ellipse cx="65.87" cy="489.95" rx="2.58" ry="2.13"/><ellipse cx="120.24" cy="449.82" rx="2.07" ry="2.44"/><ellipse cx="106.82" cy="438.74" rx="1.59" ry="2.71"/><ellipse cx="148.08" cy="439.79" rx="3.36" ry="3.45"/><ellipse cx="156.17" cy="455.45" rx="2.59" ry="2.51"/><ellipse cx="134.05" cy="450.7" rx="2.23" ry="2.82"/><ellipse cx="140.06" cy="458.13" rx="2.39" ry="2.45"/><ellipse cx="195.32" cy="455.43" rx="1.9" ry="1.78"/><ellipse cx="185.88" cy="461.75" rx="1.75" ry="2.27"/><ellipse cx="187.73" cy="443.07" rx="1.95" ry="2.19"/><ellipse cx="163.24" cy="493.73" rx="2.31" ry="3.53"/><ellipse cx="138.54" cy="491.07" rx="3.24" ry="3.9"/><ellipse cx="147.41" cy="508.48" rx="2.38" ry="2.19"/><ellipse cx="150.28" cy="470.55" rx="3.04" ry="2.91"/><ellipse cx="156.43" cy="478.45" rx="2.93" ry="3.5"/><ellipse cx="164.16" cy="486.6" rx="2.91" ry="2.03"/><ellipse cx="148.36" cy="523.77" rx="2.37" ry="2.62"/><ellipse cx="92.25" cy="528.13" rx="2.27" ry="2.71"/><ellipse cx="94.11" cy="504.75" rx="3.06" ry="1.99"/><ellipse cx="62.29" cy="545.75" rx="2.39" ry="3.33"/><ellipse cx="59.14" cy="533.89" rx="2.26" ry="2.57"/><ellipse cx="70.26" cy="564.86" rx="2.78" ry="1.96"/><ellipse cx="69.03" cy="542.31" rx="2.08" ry="2.59"/><ellipse cx="121.68" cy="552.1" rx="2.31" ry="2.53"/><ellipse cx="122.58" cy="548.72" rx="2.59" ry="2.45"/><ellipse cx="142.92" cy="566.62" rx="2.49" ry="3"/><ellipse cx="130.98" cy="576.31" rx="2.36" ry="2.45"/><ellipse cx="171.69" cy="530.56" rx="2.25" ry="2.46"/><ellipse cx="183.65" cy="522.51" rx="2.34" ry="1.92"/><ellipse cx="184.28" cy="526.59" rx="2.52" ry="2.7"/><ellipse cx="184.3" cy="557.74" rx="2.93" ry="2.02"/><ellipse cx="189.99" cy="557.02" rx="3.25" ry="2.24"/><ellipse cx="197.61" cy="565.7" rx="1.83" ry="1.77"/><ellipse cx="112.59" cy="576.43" rx="1.94" ry="1.98"/><ellipse cx="100.6" cy="571.7" rx="2.82" ry="1.92"/><ellipse cx="70.69" cy="546.25" rx="2.25" ry="2.63"/><ellipse cx="123.84" cy="513.31" rx="2.68" ry="3.37"/><ellipse cx="87.12" cy="573.58" rx="2.55" ry="2.35"/><ellipse cx="106.32" cy="524.82" rx="1.6" ry="1.96"/><ellipse cx="176.63" cy="551.43" rx="3.29" ry="2.21"/><ellipse cx="123.85" cy="476.47" rx="2.71" ry="2.9"/><ellipse cx="175.55" cy="480.97" rx="2" ry="2.48"/><ellipse cx="109.8" cy="467.03" rx="2.84" ry="2.88"/><ellipse cx="53.41" cy="537.27" rx="2.45" ry="3.44"/><ellipse cx="102.45" cy="500.83" rx="3.44" ry="3.88"/><ellipse cx="152.55" cy="483.36" rx="2.6" ry="2.22"/><ellipse cx="193.24" cy="557.17" rx="2.08" ry="1.69"/><ellipse cx="64.59" cy="550.8" rx="2.14" ry="2.08"/><ellipse cx="184.72" cy="542.75" rx="1.79" ry="1.93"/><ellipse cx="142.18" cy="426.8" rx="1.84" ry="2.05"/><ellipse cx="54.91" cy="565.02" rx="3.65" ry="2.49"/><ellipse cx="60.66" cy="453.06" rx="3.62" ry="3.45"/><ellipse cx="189.52" cy="547.75" rx="3.1" ry="3"/><ellipse cx="79.9" cy="559.99" rx="2.16" ry="2.66"/><ellipse cx="145" cy="537.59" rx="2.46" ry="2.88"/><ellipse cx="172.51" cy="549.1" rx="2.83" ry="2.97"/><ellipse cx="85.18" cy="530.03" rx="3.5" ry="3.16"/><ellipse cx="126.38" cy="539.38" rx="2.37" ry="2.51"/><ellipse cx="140.49" cy="468.83" rx="2.64" ry="1.87"/><ellipse cx="86.89" cy="446.18" rx="1.94" ry="3.12"/><ellipse cx="123.53" cy="450.66" rx="3.66" ry="3.35"/><ellipse cx="136.34" cy="554.77" rx="2.81" ry="3.44"/><ellipse cx="151.26" cy="558.2" rx="2.74" ry="2.63"/><ellipse cx="198.05" cy="440.31" rx="3.52" ry="3.89"/><ellipse cx="61.39" cy="526.86" rx="2.88" ry="1.99"/><ellipse cx="160.56" cy="570.46" rx="3.06" ry="3.09"/><ellipse cx="129.52" cy="498.44" rx="3.77" ry="3.34"/><ellipse cx="161.45" cy="522.79" rx="2.42" ry="2.79"/><ellipse cx="132.36" cy="544.59" rx="3.63" ry="3.7"/><ellipse cx="84.82" cy="494.28" rx="2.86" ry="1.61"/><ellipse cx="121.11" cy="505.35" rx="2.9" ry="3.32"/><ellipse cx="173.28" cy="477.29" rx="2.22" ry="2.58"/><ellipse cx="129.07" cy="469.75" rx="1.94" ry="2.76"/><ellipse cx="129.47" cy="575.25" rx="1.84" ry="1.98"/><ellipse cx="100.78" cy="473.8" rx="2.41" ry="2.46"/><ellipse cx="97.95" cy="520.21" rx="3.28" ry="3.51"/><ellipse cx="152.68" cy="546.87" rx="2.46" ry="2.3"/><ellipse cx="186.73" cy="510.81" rx="2.71" ry="2.19"/><ellipse cx="58.04" cy="476.18" rx="3.02" ry="2.86"/><ellipse cx="192.14" cy="520.3" rx="3.15" ry="2.86"/><ellipse cx="193.14" cy="523.67" rx="2.89" ry="2.16"/><ellipse cx="147.19" cy="528.59" rx="2.6" ry="1.86"/><ellipse cx="155.83" cy="460.88" rx="2.73" ry="2.54"/><ellipse cx="155.38" cy="502.33" rx="2.28" ry="3.41"/><ellipse cx="169.95" cy="566.11" rx="1.8" ry="2.98"/><ellipse cx="157.65" cy="492.16" rx="3.5" ry="3.35"/><ellipse cx="168.66" cy="549.31" rx="3.69" ry="2.67"/><ellipse cx="99.69" cy="495.92" rx="2.44" ry="3.22"/><ellipse cx="61.25" cy="514.13" rx="2.27" ry="2.63"/><ellipse cx="175.36" cy="515.3" rx="2.77" ry="3.07"/><ellipse cx="191.71" cy="495.97" rx="3.41" ry="2.78"/><ellipse cx="52.46" cy="485.97" rx="2.27" ry="3.59"/><ellipse cx="147.17" cy="567.96" rx="2.5" ry="2.95"/><ellipse cx="150.32" cy="460.84" rx="1.92" ry="1.72"/><ellipse cx="53.72" cy="531.56" rx="2.25" ry="2.06"/><ellipse cx="66.31" cy="559.43" rx="2.53" ry="2.05"/><ellipse cx="161.62" cy="465.34" rx="3.33" ry="3.72"/><ellipse cx="60.57" cy="545.1" rx="2.27" ry="1.72"/><ellipse cx="159.04" cy="554.12" rx="2.97" ry="3.47"/><ellipse cx="163.66" cy="437.71" rx="3.12" ry="3.58"/><ellipse cx="151.29" cy="534.96" rx="1.95" ry="1.89"/><ellipse cx="55.22" cy="526.6" rx="2.19" ry="2.74"/><ellipse cx="99.97" cy="538.42" rx="2.84" ry="2.63"/><ellipse cx="78.07" cy="558.15" rx="2.98" ry="1.92"/><ellipse cx="111.15" cy="518.39" rx="2.78" ry="2.17"/><ellipse cx="74.88" cy="548.6" rx="3.39" ry="3.65"/><ellipse cx="102.04" cy="527.22" rx="3.48" ry="3.72"/><ellipse cx="195.68" cy="546.69" rx="2.27" ry="2"/><ellipse cx="138.59" cy="472.86" rx="2.45" ry="2.59"/><ellipse cx="159.19" cy="553.11" rx="2.12" ry="3.04"/><ellipse cx="203.58" cy="552.37" rx="3.31" ry="2.91"/><ellipse cx="114.26" cy="563.89" rx="2.45" ry="2.73"/><ellipse cx="111.39" cy="532.07" rx="2.81" ry="2.41"/><ellipse cx="145.64" cy="560.1" rx="3.16" ry="3.96"/><ellipse cx="53.25" cy="468.46" rx="1.74" ry="1.95"/><ellipse cx="118.38" cy="519.76" rx="1.82" ry="2.18"/><ellipse cx="170.33" cy="561.12" rx="2.11" ry="3"/><ellipse cx="178.81" cy="559.56" rx="3.27" ry="2.33"/><ellipse cx="181.53" cy="550.05" rx="2.98" ry="3"/><ellipse cx="156.38" cy="566.06" rx="2.18" ry="3.21"/><ellipse cx="136.6" cy="548.61" rx="2.74" ry="2.38"/><ellipse cx="191.16" cy="461.5" rx="2.4" ry="2.71"/><ellipse cx="120.38" cy="457.86" rx="2.37" ry="2.42"/><ellipse cx="172.54" cy="497.96" rx="1.84" ry="2.67"/><ellipse cx="66.24" cy="549.99" rx="2.18" ry="3.23"/><ellipse cx="140.52" cy="563.54" rx="2.57" ry="3.28"/><ellipse cx="188.93" cy="509.21" rx="2.85" ry="3.48"/><ellipse cx="81.56" cy="457.85" rx="2.24" ry="2.62"/><ellipse cx="76.88" cy="525.77" rx="2.11" ry="1.84"/><ellipse cx="116.25" cy="508.8" rx="2.42" ry="2.67"/><ellipse cx="73.01" cy="438.72" rx="2" ry="2.8"/><ellipse cx="143.18" cy="480.74" rx="2.22" ry="2.59"/><ellipse cx="129.19" cy="435.5" rx="1.76" ry="2.47"/><ellipse cx="183.78" cy="501.95" rx="3.45" ry="3.01"/><ellipse cx="174.01" cy="488.18" rx="3.77" ry="3.25"/><ellipse cx="177.94" cy="577.03" rx="2.91" ry="2.42"/><ellipse cx="83.35" cy="456.11" rx="2.71" ry="2.04"/><ellipse cx="65.63" cy="436.65" rx="3.09" ry="2.55"/><ellipse cx="122.2" cy="571.08" rx="2.35" ry="2.75"/><ellipse cx="141.18" cy="486.27" rx="3.67" ry="3.71"/><ellipse cx="69.75" cy="568.26" rx="2.93" ry="2.02"/><ellipse cx="90.03" cy="509.22" rx="3.23" ry="2.4"/><ellipse cx="147.95" cy="577.82" rx="2.33" ry="3.43"/><ellipse cx="120.7" cy="452.96" rx="3.29" ry="2.32"/><ellipse cx="89.25" cy="435.87" rx="1.75" ry="3.2"/><ellipse cx="189.32" cy="564.69" rx="3.31" ry="2.21"/><ellipse cx="179.42" cy="436.06" rx="3.33" ry="3.88"/><ellipse cx="173.86" cy="538.3" rx="3.01" ry="2.51"/><ellipse cx="61.42" cy="450.72" rx="2.61" ry="2.09"/><ellipse cx="160.44" cy="569.04" rx="2.67" ry="2.55"/><ellipse cx="68.92" cy="477.59" rx="3.08" ry="2.95"/><ellipse cx="123.71" cy="456.59" rx="2.69" ry="3.03"/><ellipse cx="161.3" cy="458.27" rx="3.33" ry="2.51"/><ellipse cx="183.88" cy="562.31" rx="2.98" ry="3.74"/><ellipse cx="70.62" cy="567.73" rx="1.88" ry="2.41"/><ellipse cx="188.56" cy="528.38" rx="2.22" ry="2.3"/><ellipse cx="127" cy="482.3" rx="2.68" ry="2.49"/><ellipse cx="152.76" cy="453.66" rx="2.95" ry="1.79"/><ellipse cx="157.36" cy="512.06" rx="3.57" ry="3"/><ellipse cx="93.23" cy="490.77" rx="2.38" ry="1.58"/><ellipse cx="79.36" cy="466.71" rx="1.88" ry="2.44"/><ellipse cx="78.34" cy="502.65" rx="3.03" ry="3.52"/><ellipse cx="70.24" cy="575.79" rx="2.49" ry="1.79"/><ellipse cx="65" cy="563.95" rx="3.6" ry="2.26"/><ellipse cx="155.96" cy="458.06" rx="2.26" ry="2.57"/><ellipse cx="122.63" cy="474.41" rx="2.02" ry="2.66"/><ellipse cx="110.2" cy="574.29" rx="2.8" ry="2.21"/><ellipse cx="65.15" cy="466.72" rx="2.32" ry="2.59"/><ellipse cx="165.05" cy="471.3" rx="1.88" ry="2.44"/><ellipse cx="197.88" cy="432.39" rx="3.96" ry="2.63"/><ellipse cx="179.03" cy="483.16" rx="3.02" ry="2.46"/><ellipse cx="72.25" cy="431.4" rx="3.25" ry="2.48"/><ellipse cx="83.77" cy="495.27" rx="2.89" ry="2.65"/><ellipse cx="185.33" cy="457.45" rx="3.27" ry="3.45"/><ellipse cx="80.2" cy="544.57" rx="2.32" ry="1.84"/><ellipse cx="157.17" cy="458.46" rx="3.02" ry="2.8"/><ellipse cx="147.61" cy="495.98" rx="3.65" ry="3.24"/><ellipse cx="148" cy="535.63" rx="2.85" ry="2.03"/><ellipse cx="83.55" cy="438.85" rx="3.16" ry="3.67"/><ellipse cx="163.64" cy="490.22" rx="3.33" ry="3.17"/><ellipse cx="180.13" cy="558.68" rx="1.6" ry="1.99"/><ellipse cx="132.56" cy="426.42" rx="2.54" ry="2.07"/><ellipse cx="184.67" cy="468.94" rx="2.65" ry="1.88"/><ellipse cx="81.09" cy="553.74" rx="2.36" ry="2.24"/><ellipse cx="105.43" cy="455.73" rx="2.63" ry="2.09"/></g><g fill="url(#dg)" opacity="0.85"><ellipse cx="61.97" cy="453.63" rx="1.88" ry="3.1"/><ellipse cx="54.12" cy="463.21" rx="2.02" ry="2.72"/><ellipse cx="63.12" cy="470.01" rx="2.29" ry="2.59"/><ellipse cx="55.76" cy="484.27" rx="2.38" ry="2.73"/><ellipse cx="149.89" cy="449.95" rx="2.55" ry="3.06"/><ellipse cx="117.15" cy="443.18" rx="1.98" ry="2.45"/><ellipse cx="143.86" cy="449.09" rx="1.94" ry="2.58"/><ellipse cx="124.42" cy="442.4" rx="1.59" ry="1.79"/><ellipse cx="109.2" cy="429.35" rx="3.97" ry="3.07"/><ellipse cx="134.96" cy="465.82" rx="3.52" ry="2.84"/><ellipse cx="120.37" cy="473.6" rx="2.51" ry="1.67"/><ellipse cx="205.31" cy="457.94" rx="2.33" ry="2.48"/><ellipse cx="201.97" cy="448.87" rx="2.28" ry="2.32"/><ellipse cx="200.9" cy="435.35" rx="2.84" ry="2.85"/><ellipse cx="146.36" cy="483.01" rx="2.8" ry="2.42"/><ellipse cx="152.21" cy="491.91" rx="2.34" ry="2.86"/><ellipse cx="153.33" cy="514.38" rx="1.9" ry="2.72"/><ellipse cx="150.34" cy="513.15" rx="2.09" ry="1.87"/><ellipse cx="155.93" cy="519.04" rx="3.06" ry="3.58"/><ellipse cx="164.5" cy="499.28" rx="3.36" ry="3.17"/><ellipse cx="78.67" cy="523.75" rx="1.56" ry="2.79"/><ellipse cx="84.5" cy="527.18" rx="2.89" ry="2.34"/><ellipse cx="86.3" cy="519.08" rx="3.23" ry="2.41"/><ellipse cx="73.46" cy="550.04" rx="2.26" ry="1.78"/><ellipse cx="74.48" cy="532.89" rx="2.26" ry="2.68"/><ellipse cx="84.94" cy="548.74" rx="1.94" ry="1.7"/><ellipse cx="117.94" cy="549.5" rx="2.34" ry="1.81"/><ellipse cx="114" cy="555.06" rx="2.87" ry="2.98"/><ellipse cx="150.41" cy="561.75" rx="3.75" ry="3.14"/><ellipse cx="164.75" cy="573.08" rx="2.38" ry="2.02"/><ellipse cx="147.13" cy="551.72" rx="2.82" ry="2.73"/><ellipse cx="187.67" cy="522.44" rx="2.87" ry="3.04"/><ellipse cx="175.03" cy="530.99" rx="1.6" ry="1.74"/><ellipse cx="187.69" cy="520.29" rx="2.68" ry="3.46"/><ellipse cx="201.7" cy="546.9" rx="2.15" ry="2.56"/><ellipse cx="190.71" cy="556.15" rx="2.02" ry="2.78"/><ellipse cx="88.9" cy="572.08" rx="3.89" ry="2.29"/><ellipse cx="95.51" cy="570.21" rx="2.54" ry="2.16"/><ellipse cx="60.66" cy="449.74" rx="2.73" ry="3.01"/><ellipse cx="57.06" cy="426.22" rx="1.87" ry="2.98"/><ellipse cx="67.04" cy="474.88" rx="2.13" ry="2.35"/><ellipse cx="68.53" cy="490.1" rx="2.7" ry="2.05"/><ellipse cx="64.01" cy="487.19" rx="2.71" ry="3.36"/><ellipse cx="120.64" cy="446.5" rx="3.45" ry="2.75"/><ellipse cx="106.36" cy="441.55" rx="2.29" ry="1.95"/><ellipse cx="150.76" cy="441.2" rx="3.37" ry="3.02"/><ellipse cx="157.83" cy="452.84" rx="3.49" ry="2.67"/><ellipse cx="134.55" cy="454.77" rx="2.21" ry="2.71"/><ellipse cx="129.28" cy="459.2" rx="3.02" ry="2.03"/><ellipse cx="193.72" cy="451.9" rx="2.36" ry="2.32"/><ellipse cx="189.09" cy="461.7" rx="2.35" ry="3.26"/><ellipse cx="162.89" cy="519.93" rx="2.46" ry="3.74"/><ellipse cx="159.32" cy="494.84" rx="3.54" ry="3.49"/><ellipse cx="136.08" cy="492.55" rx="2.68" ry="3.08"/><ellipse cx="143.58" cy="509.56" rx="2.47" ry="2.13"/><ellipse cx="151.6" cy="466.77" rx="2.99" ry="2.27"/><ellipse cx="155.24" cy="475.35" rx="2.99" ry="3.36"/><ellipse cx="146.79" cy="489.33" rx="2.78" ry="1.72"/><ellipse cx="100.18" cy="523.85" rx="2.82" ry="2.19"/><ellipse cx="95.07" cy="510.09" rx="2.23" ry="3.04"/><ellipse cx="87" cy="516.47" rx="3.24" ry="2.94"/><ellipse cx="58.94" cy="547.89" rx="2.53" ry="2.64"/><ellipse cx="57.21" cy="531.71" rx="2.18" ry="1.67"/><ellipse cx="67.07" cy="562.55" rx="1.96" ry="3.17"/><ellipse cx="82.65" cy="554.62" rx="2.93" ry="2.51"/><ellipse cx="125.26" cy="551.12" rx="2.59" ry="2.75"/><ellipse cx="136.79" cy="565.41" rx="2.91" ry="2.4"/><ellipse cx="146.07" cy="564.07" rx="2.22" ry="2.44"/><ellipse cx="158.22" cy="577.42" rx="3.7" ry="3.74"/><ellipse cx="171.37" cy="534.73" rx="1.93" ry="1.97"/><ellipse cx="183.51" cy="519.52" rx="3.62" ry="2.16"/><ellipse cx="184.21" cy="529.62" rx="2.62" ry="2.07"/><ellipse cx="182.62" cy="554.93" rx="2.42" ry="3.89"/><ellipse cx="190.84" cy="553.35" rx="2.99" ry="2.84"/><ellipse cx="199.38" cy="562.87" rx="2.97" ry="2.38"/><ellipse cx="108.91" cy="578.65" rx="1.63" ry="1.98"/><ellipse cx="72.52" cy="545.49" rx="2.69" ry="2.45"/><ellipse cx="175.25" cy="524.14" rx="2.84" ry="3.82"/><ellipse cx="119.94" cy="514.83" rx="2.34" ry="3.38"/><ellipse cx="83.98" cy="574.07" rx="3.22" ry="3.36"/><ellipse cx="108.53" cy="521.3" rx="2.95" ry="3.15"/><ellipse cx="172.98" cy="552.43" rx="2.43" ry="1.82"/><ellipse cx="135.79" cy="447.77" rx="2.27" ry="2.77"/><ellipse cx="172.72" cy="482.7" rx="3.34" ry="2.46"/><ellipse cx="110.71" cy="470.17" rx="2.42" ry="2.57"/><ellipse cx="51.58" cy="539.56" rx="2.27" ry="3.12"/><ellipse cx="117.7" cy="524.6" rx="2.87" ry="2.2"/><ellipse cx="148.6" cy="482.75" rx="3.01" ry="3.56"/><ellipse cx="191.16" cy="559.15" rx="2.84" ry="1.92"/><ellipse cx="63.25" cy="547.18" rx="2.11" ry="3"/><ellipse cx="74.2" cy="553.7" rx="2.86" ry="3.84"/><ellipse cx="54.73" cy="571.77" rx="2.33" ry="2.05"/><ellipse cx="152.05" cy="466.5" rx="3.86" ry="2.23"/><ellipse cx="61.36" cy="456.42" rx="2.72" ry="1.79"/><ellipse cx="185.81" cy="545.99" rx="2.07" ry="2.11"/><ellipse cx="144.86" cy="546.19" rx="2.17" ry="2.96"/><ellipse cx="153.94" cy="563.09" rx="3.28" ry="2.52"/><ellipse cx="175.5" cy="546.95" rx="2.06" ry="2.76"/><ellipse cx="85.09" cy="534" rx="1.99" ry="3.2"/><ellipse cx="124.28" cy="541.5" rx="4.02" ry="3.35"/><ellipse cx="142.12" cy="472.61" rx="1.9" ry="2.11"/><ellipse cx="127.45" cy="437.77" rx="1.7" ry="1.57"/><ellipse cx="124.77" cy="447.47" rx="3.5" ry="3.29"/><ellipse cx="54" cy="555.12" rx="2.79" ry="3.42"/><ellipse cx="109.62" cy="491.82" rx="3.17" ry="3.21"/><ellipse cx="149.19" cy="524.42" rx="1.62" ry="2.53"/><ellipse cx="61.49" cy="531.06" rx="3.19" ry="1.82"/><ellipse cx="158.29" cy="567.69" rx="2.23" ry="2.87"/><ellipse cx="132.25" cy="495.33" rx="2.31" ry="2.33"/><ellipse cx="104.13" cy="558.25" rx="1.9" ry="2.82"/><ellipse cx="134.62" cy="546.6" rx="3.02" ry="2.69"/><ellipse cx="116.78" cy="512.1" rx="1.93" ry="3.41"/><ellipse cx="177.84" cy="472.93" rx="2.78" ry="3.59"/><ellipse cx="177.99" cy="489.56" rx="2.15" ry="2.75"/><ellipse cx="126.65" cy="467.34" rx="2.05" ry="2.32"/><ellipse cx="130.36" cy="578.13" rx="3.49" ry="2.39"/><ellipse cx="97.59" cy="473.81" rx="2.69" ry="2.56"/><ellipse cx="99.65" cy="523.04" rx="3.41" ry="3.67"/><ellipse cx="155.76" cy="544.33" rx="2.98" ry="2.95"/><ellipse cx="186.55" cy="513.62" rx="2.93" ry="2.29"/><ellipse cx="53.94" cy="457.49" rx="2.14" ry="2.24"/><ellipse cx="195.57" cy="518.54" rx="3.38" ry="1.98"/><ellipse cx="195.71" cy="521.77" rx="2.82" ry="2.05"/><ellipse cx="158.16" cy="518.45" rx="2.87" ry="2.83"/><ellipse cx="153.72" cy="497.68" rx="1.93" ry="3"/><ellipse cx="168.16" cy="444.2" rx="2.91" ry="2.13"/><ellipse cx="152.01" cy="484.33" rx="3.61" ry="3.81"/><ellipse cx="177.21" cy="546.98" rx="2.84" ry="2.42"/><ellipse cx="137.88" cy="467.7" rx="2.55" ry="1.76"/><ellipse cx="101.09" cy="493.6" rx="3.39" ry="2.38"/><ellipse cx="58.95" cy="446.83" rx="2.63" ry="2.66"/><ellipse cx="178.43" cy="517.07" rx="2.57" ry="3.55"/><ellipse cx="187.9" cy="495.73" rx="2.55" ry="2.57"/><ellipse cx="50.66" cy="482.96" rx="2.01" ry="2.62"/><ellipse cx="144.91" cy="565.94" rx="1.98" ry="2.75"/><ellipse cx="75.92" cy="431.33" rx="2.47" ry="3.54"/><ellipse cx="71.37" cy="573.95" rx="3.19" ry="2.24"/><ellipse cx="65.61" cy="562.41" rx="2.89" ry="2.7"/><ellipse cx="163.77" cy="457.11" rx="2.37" ry="2.8"/><ellipse cx="60.66" cy="548.43" rx="2.6" ry="1.98"/><ellipse cx="163.19" cy="441.64" rx="2.35" ry="2.56"/><ellipse cx="147.92" cy="535.39" rx="3.44" ry="3.07"/><ellipse cx="122.55" cy="568.85" rx="3.58" ry="3.23"/><ellipse cx="58.23" cy="528.51" rx="2.53" ry="2.4"/><ellipse cx="96.52" cy="539.3" rx="3.28" ry="3.93"/><ellipse cx="126.44" cy="437.97" rx="3.76" ry="3.39"/><ellipse cx="107.62" cy="520.48" rx="1.98" ry="1.75"/><ellipse cx="71.17" cy="550" rx="2.8" ry="3.49"/><ellipse cx="148.09" cy="491.69" rx="2.48" ry="2.32"/><ellipse cx="198" cy="549.21" rx="2.86" ry="2.75"/><ellipse cx="135.57" cy="475.03" rx="2.49" ry="2.16"/><ellipse cx="103.14" cy="519.87" rx="2.17" ry="2.58"/><ellipse cx="206.41" cy="550.33" rx="2.95" ry="3.2"/><ellipse cx="110.33" cy="564.2" rx="2.97" ry="2.39"/><ellipse cx="114.08" cy="533.59" rx="2.93" ry="2.79"/><ellipse cx="144.89" cy="556.98" rx="2.27" ry="3.34"/><ellipse cx="51.71" cy="464.64" rx="2.8" ry="2.73"/><ellipse cx="118.5" cy="523.36" rx="2.32" ry="2.66"/><ellipse cx="59.39" cy="553.98" rx="2.62" ry="3.62"/><ellipse cx="180.96" cy="562.4" rx="2.45" ry="3.83"/><ellipse cx="179.75" cy="552.81" rx="2.26" ry="3.15"/><ellipse cx="105.37" cy="441.76" rx="3.27" ry="1.82"/><ellipse cx="135.83" cy="545.78" rx="3.14" ry="2.49"/><ellipse cx="144.64" cy="530.65" rx="2.59" ry="2.04"/><ellipse cx="119.56" cy="455.16" rx="2.75" ry="2.84"/><ellipse cx="171.38" cy="501.73" rx="3.4" ry="3.63"/><ellipse cx="169.6" cy="463.93" rx="2.18" ry="3.58"/><ellipse cx="141.59" cy="566.79" rx="3.52" ry="2.5"/><ellipse cx="124.96" cy="517.4" rx="2.57" ry="3.29"/><ellipse cx="80.28" cy="534.16" rx="2.68" ry="2.16"/><ellipse cx="107.79" cy="513.66" rx="2.16" ry="2.69"/><ellipse cx="116.09" cy="512.02" rx="3.7" ry="3.88"/><ellipse cx="203.57" cy="485.11" rx="2.22" ry="2.52"/><ellipse cx="143.57" cy="484.47" rx="2.6" ry="2.66"/><ellipse cx="125.15" cy="436.25" rx="1.55" ry="1.84"/><ellipse cx="138.64" cy="468.24" rx="3.6" ry="3.3"/><ellipse cx="174" cy="484.9" rx="4.08" ry="3.64"/><ellipse cx="181.21" cy="578.16" rx="2.31" ry="1.92"/><ellipse cx="80.3" cy="456.1" rx="3.37" ry="3.82"/><ellipse cx="62.83" cy="438.36" rx="1.89" ry="1.53"/><ellipse cx="125.14" cy="568.4" rx="2.67" ry="3.12"/><ellipse cx="144.75" cy="487.01" rx="1.81" ry="2.43"/><ellipse cx="67.12" cy="565.13" rx="2.57" ry="2.47"/><ellipse cx="93.86" cy="510.73" rx="2.85" ry="3.18"/><ellipse cx="154.13" cy="487.97" rx="3.95" ry="3.98"/><ellipse cx="198.83" cy="577.76" rx="3.62" ry="2.92"/><ellipse cx="85.43" cy="435.2" rx="3.16" ry="3.89"/><ellipse cx="191.16" cy="567.39" rx="2.15" ry="3.22"/><ellipse cx="182.56" cy="435.6" rx="1.99" ry="2.38"/><ellipse cx="150.65" cy="576.81" rx="2.17" ry="1.91"/><ellipse cx="58.64" cy="447.88" rx="3.83" ry="2.31"/><ellipse cx="157.06" cy="569.94" rx="2.63" ry="2.59"/><ellipse cx="72.92" cy="478.73" rx="2.47" ry="3.09"/><ellipse cx="121.11" cy="459.67" rx="3.35" ry="2.58"/><ellipse cx="58.44" cy="568.15" rx="2.35" ry="2.46"/><ellipse cx="74.1" cy="496.09" rx="2.71" ry="2.54"/><ellipse cx="180.18" cy="523.26" rx="2.76" ry="2.14"/><ellipse cx="121.3" cy="479.97" rx="2.13" ry="3.22"/><ellipse cx="177.28" cy="500.63" rx="2.11" ry="2.64"/><ellipse cx="153.37" cy="456.73" rx="3.85" ry="2.61"/><ellipse cx="155.88" cy="515.35" rx="2.44" ry="2.8"/><ellipse cx="92.12" cy="487.18" rx="2.41" ry="2.77"/><ellipse cx="81.81" cy="469.44" rx="2.65" ry="3.38"/><ellipse cx="101.03" cy="564.48" rx="2.27" ry="2.79"/><ellipse cx="69.4" cy="572.34" rx="3.12" ry="2.81"/><ellipse cx="67.56" cy="566.58" rx="2.92" ry="2.7"/><ellipse cx="157.74" cy="455.62" rx="3.51" ry="2.83"/><ellipse cx="125.91" cy="476.89" rx="4" ry="2.71"/><ellipse cx="203.71" cy="567.76" rx="2.64" ry="2.34"/><ellipse cx="188.33" cy="437.62" rx="2.38" ry="2.39"/><ellipse cx="166.73" cy="474.93" rx="3.74" ry="3"/><ellipse cx="174.86" cy="480.14" rx="2.55" ry="2.84"/><ellipse cx="74.16" cy="429.29" rx="3.05" ry="3.4"/><ellipse cx="178.67" cy="507.99" rx="2.22" ry="2.19"/><ellipse cx="81.13" cy="497.3" rx="2.21" ry="1.97"/><ellipse cx="182.79" cy="456.11" rx="2.94" ry="2.24"/><ellipse cx="160.45" cy="458.51" rx="3.7" ry="2.56"/><ellipse cx="64.97" cy="442.11" rx="2.54" ry="2.44"/><ellipse cx="94.36" cy="459.9" rx="3.31" ry="3.14"/><ellipse cx="150.44" cy="533.56" rx="3.48" ry="2.26"/><ellipse cx="83.23" cy="441.89" rx="2.62" ry="2.76"/><ellipse cx="166.34" cy="487.86" rx="2.36" ry="2.26"/><ellipse cx="176.84" cy="558.3" rx="2.21" ry="2.31"/><ellipse cx="190.44" cy="500.49" rx="2.72" ry="1.84"/><ellipse cx="188.41" cy="469.38" rx="3.28" ry="3.12"/><ellipse cx="108.43" cy="453.52" rx="2.55" ry="2.55"/><ellipse cx="109.05" cy="518.23" rx="3.09" ry="2.51"/></g><g fill="url(#dg)" opacity="0.96"><ellipse cx="64.79" cy="455.97" rx="2.06" ry="2.39"/><ellipse cx="50.85" cy="488.32" rx="2.32" ry="2.4"/><ellipse cx="66.52" cy="469.85" rx="1.92" ry="2.11"/><ellipse cx="125.09" cy="452.44" rx="2.92" ry="2.69"/><ellipse cx="146.02" cy="449.07" rx="2.91" ry="2.55"/><ellipse cx="147.75" cy="453" rx="2.63" ry="3.23"/><ellipse cx="115.22" cy="445.52" rx="3.68" ry="3.9"/><ellipse cx="124.74" cy="445.89" rx="3.57" ry="2.26"/><ellipse cx="106.84" cy="431.52" rx="2.7" ry="2.2"/><ellipse cx="132.59" cy="464.03" rx="2.66" ry="1.76"/><ellipse cx="123.46" cy="474.9" rx="2.17" ry="2.19"/><ellipse cx="206.56" cy="437.94" rx="2.91" ry="1.89"/><ellipse cx="200.62" cy="445.23" rx="2.79" ry="2.66"/><ellipse cx="203.99" cy="438.06" rx="2.14" ry="2.74"/><ellipse cx="150.06" cy="482.36" rx="1.77" ry="3.01"/><ellipse cx="157.34" cy="506.73" rx="2.38" ry="3.17"/><ellipse cx="154.29" cy="493.53" rx="2.26" ry="3.14"/><ellipse cx="160.95" cy="504.41" rx="2.73" ry="2.29"/><ellipse cx="157.54" cy="516.51" rx="2.51" ry="2.59"/><ellipse cx="161.51" cy="487.38" rx="3.01" ry="2.2"/><ellipse cx="80.37" cy="521.52" rx="3.33" ry="3.14"/><ellipse cx="87.57" cy="527.09" rx="2.79" ry="2.17"/><ellipse cx="72.58" cy="549.44" rx="3.4" ry="2.26"/><ellipse cx="69.52" cy="549.12" rx="3.44" ry="2.92"/><ellipse cx="74.29" cy="536.18" rx="2.07" ry="3.74"/><ellipse cx="87.2" cy="550.48" rx="2.77" ry="2.58"/><ellipse cx="114.69" cy="548.38" rx="2.35" ry="2.54"/><ellipse cx="152.57" cy="571.81" rx="2.58" ry="2.92"/><ellipse cx="148.08" cy="564.5" rx="3.65" ry="2.13"/><ellipse cx="169.08" cy="572.8" rx="3.75" ry="3.12"/><ellipse cx="179.62" cy="517.69" rx="1.88" ry="3.31"/><ellipse cx="178.01" cy="523.85" rx="2.65" ry="3.47"/><ellipse cx="189.21" cy="519.68" rx="3.82" ry="3.79"/><ellipse cx="188.09" cy="524.69" rx="2.42" ry="1.82"/><ellipse cx="205.15" cy="545.09" rx="3.5" ry="2.24"/><ellipse cx="188.61" cy="558.07" rx="2.8" ry="2.66"/><ellipse cx="105.27" cy="568.96" rx="2" ry="1.73"/><ellipse cx="99.52" cy="569.6" rx="2.39" ry="2.83"/><ellipse cx="60.11" cy="453.03" rx="3.57" ry="3.71"/><ellipse cx="68.16" cy="494.78" rx="2.52" ry="1.86"/><ellipse cx="69.78" cy="473.55" rx="1.91" ry="2.11"/><ellipse cx="68.43" cy="479.93" rx="1.85" ry="2.93"/><ellipse cx="125.78" cy="446.23" rx="1.96" ry="2.97"/><ellipse cx="117.55" cy="444.74" rx="1.93" ry="2.04"/><ellipse cx="103.62" cy="439.58" rx="2.42" ry="2.42"/><ellipse cx="152.99" cy="443.01" rx="2.85" ry="2.67"/><ellipse cx="158.33" cy="449.67" rx="3.18" ry="2.34"/><ellipse cx="141.33" cy="464.84" rx="3.69" ry="3.12"/><ellipse cx="133.03" cy="474.61" rx="2.75" ry="3.48"/><ellipse cx="190.76" cy="451.02" rx="1.92" ry="2.77"/><ellipse cx="192.38" cy="437.63" rx="1.99" ry="1.68"/><ellipse cx="163.33" cy="517.16" rx="2.25" ry="3.15"/><ellipse cx="163.06" cy="495.96" rx="2.72" ry="3.94"/><ellipse cx="135.15" cy="496.57" rx="2.62" ry="2.79"/><ellipse cx="140.89" cy="512.14" rx="2.34" ry="3.35"/><ellipse cx="154.98" cy="465.58" rx="3.26" ry="3.16"/><ellipse cx="154.99" cy="478.22" rx="3.39" ry="3.16"/><ellipse cx="142.82" cy="488.22" rx="2.83" ry="3.64"/><ellipse cx="96.29" cy="525.15" rx="2.85" ry="2.36"/><ellipse cx="93.58" cy="507.3" rx="2.17" ry="3.56"/><ellipse cx="82.62" cy="523.26" rx="2.61" ry="2.17"/><ellipse cx="60.58" cy="544.41" rx="3.31" ry="3.72"/><ellipse cx="76.19" cy="563.71" rx="2.12" ry="2.26"/><ellipse cx="71.82" cy="543.41" rx="2.61" ry="2.8"/><ellipse cx="85.17" cy="551.82" rx="1.87" ry="2.92"/><ellipse cx="123.11" cy="542.88" rx="2.39" ry="2.17"/><ellipse cx="138.05" cy="567.3" rx="3.12" ry="3.35"/><ellipse cx="160.48" cy="561.16" rx="1.59" ry="1.83"/><ellipse cx="157.32" cy="581.26" rx="2.88" ry="2.84"/><ellipse cx="171.45" cy="531.24" rx="2.5" ry="2.26"/><ellipse cx="185.21" cy="515.76" rx="2.81" ry="3.06"/><ellipse cx="181.92" cy="532.19" rx="1.73" ry="2.59"/><ellipse cx="179.41" cy="557.03" rx="1.7" ry="1.7"/><ellipse cx="188.15" cy="551.83" rx="2.99" ry="1.96"/><ellipse cx="117.74" cy="571.56" rx="2.3" ry="3.43"/><ellipse cx="103.06" cy="581.69" rx="2.16" ry="1.76"/><ellipse cx="71.71" cy="542.71" rx="2.87" ry="2.49"/><ellipse cx="176.18" cy="520.19" rx="1.85" ry="1.61"/><ellipse cx="119.06" cy="511.83" rx="2.86" ry="3.02"/><ellipse cx="82.99" cy="576.94" rx="1.95" ry="3.09"/><ellipse cx="111.94" cy="520.44" rx="1.91" ry="2.47"/><ellipse cx="171.67" cy="549.43" rx="3.78" ry="3.66"/><ellipse cx="135.06" cy="444.42" rx="2.56" ry="2.27"/><ellipse cx="176.19" cy="484.42" rx="2.69" ry="2.3"/><ellipse cx="117.34" cy="456.88" rx="1.61" ry="2.82"/><ellipse cx="95.46" cy="465.75" rx="2.17" ry="1.78"/><ellipse cx="114.85" cy="525.66" rx="2.4" ry="2.04"/><ellipse cx="145.94" cy="480.91" rx="2.53" ry="1.65"/><ellipse cx="187.62" cy="558.97" rx="2.45" ry="2.46"/><ellipse cx="189.78" cy="546.61" rx="2.17" ry="2.56"/><ellipse cx="148.61" cy="431.25" rx="3.09" ry="1.73"/><ellipse cx="51.24" cy="569.84" rx="2.44" ry="3.91"/><ellipse cx="68.33" cy="450.41" rx="2.44" ry="2.29"/><ellipse cx="88.28" cy="545.45" rx="2.7" ry="2.87"/><ellipse cx="184.45" cy="542.77" rx="2.26" ry="3.65"/><ellipse cx="142.92" cy="543.69" rx="2.32" ry="2.45"/><ellipse cx="172" cy="554.82" rx="3.82" ry="3.2"/><ellipse cx="82.8" cy="532.92" rx="2.46" ry="2.39"/><ellipse cx="133.15" cy="540.29" rx="2.51" ry="2.64"/><ellipse cx="119.23" cy="561.4" rx="3.41" ry="2.94"/><ellipse cx="140.87" cy="475.45" rx="2.03" ry="3.34"/><ellipse cx="130.38" cy="436.99" rx="2.48" ry="2.57"/><ellipse cx="127.2" cy="503.73" rx="2.35" ry="3.16"/><ellipse cx="123.66" cy="513.39" rx="3.1" ry="3.69"/><ellipse cx="108.72" cy="495.1" rx="3.27" ry="3.19"/><ellipse cx="57.31" cy="520.45" rx="1.94" ry="2.66"/><ellipse cx="156.07" cy="568.72" rx="2.54" ry="2.3"/><ellipse cx="102.9" cy="576.26" rx="4.11" ry="2.51"/><ellipse cx="188.53" cy="434.08" rx="2.65" ry="2.3"/><ellipse cx="103.97" cy="554.15" rx="2.97" ry="2.45"/><ellipse cx="136.82" cy="544.33" rx="1.82" ry="1.81"/><ellipse cx="116.79" cy="509.24" rx="2.72" ry="2.34"/><ellipse cx="179.94" cy="476.14" rx="3.56" ry="2.65"/><ellipse cx="180.71" cy="487.59" rx="2.77" ry="2.3"/><ellipse cx="125.22" cy="463.82" rx="3.52" ry="2.24"/><ellipse cx="151.84" cy="547.79" rx="2.33" ry="2.74"/><ellipse cx="95" cy="475.44" rx="2.36" ry="3.15"/><ellipse cx="101.01" cy="526.62" rx="2.22" ry="1.72"/><ellipse cx="59.05" cy="537.4" rx="1.86" ry="2.78"/><ellipse cx="183.47" cy="515.62" rx="1.67" ry="2.58"/><ellipse cx="54.66" cy="460.81" rx="2.11" ry="2.7"/><ellipse cx="152.36" cy="547.35" rx="2.54" ry="2.21"/><ellipse cx="146.12" cy="523.02" rx="2.22" ry="2.3"/><ellipse cx="155.77" cy="516.56" rx="3.17" ry="2.44"/><ellipse cx="150.42" cy="499.04" rx="1.7" ry="2.91"/><ellipse cx="170.88" cy="446.03" rx="1.64" ry="2.36"/><ellipse cx="154.9" cy="485.66" rx="3.21" ry="2.49"/><ellipse cx="174.8" cy="548.92" rx="3.47" ry="2.7"/><ellipse cx="140.97" cy="466.27" rx="3.17" ry="2.98"/><ellipse cx="101.69" cy="497.55" rx="3.47" ry="3.4"/><ellipse cx="61.66" cy="448.84" rx="3.61" ry="2.29"/><ellipse cx="179.64" cy="513.31" rx="1.73" ry="1.96"/><ellipse cx="189.82" cy="493.65" rx="2.35" ry="2.77"/><ellipse cx="142.39" cy="569.66" rx="2.93" ry="2.59"/><ellipse cx="201.1" cy="500.32" rx="3.27" ry="2.31"/><ellipse cx="74.93" cy="427.28" rx="2.98" ry="2.41"/><ellipse cx="75.21" cy="572.45" rx="2.86" ry="2.57"/><ellipse cx="72.47" cy="431.67" rx="3.31" ry="3.16"/><ellipse cx="167.33" cy="457.32" rx="1.76" ry="2.87"/><ellipse cx="57.97" cy="550.08" rx="1.64" ry="2.42"/><ellipse cx="166.67" cy="443.38" rx="2.99" ry="3.53"/><ellipse cx="148.27" cy="531.65" rx="2.41" ry="2.41"/><ellipse cx="91.36" cy="573.65" rx="3.63" ry="2.31"/><ellipse cx="61.75" cy="529.43" rx="2.39" ry="2.75"/><ellipse cx="93.1" cy="538.91" rx="3.11" ry="3.5"/><ellipse cx="130.36" cy="438.39" rx="2.16" ry="2.75"/><ellipse cx="106.67" cy="523.97" rx="2.67" ry="2.27"/><ellipse cx="107.85" cy="525.73" rx="2.49" ry="2.15"/><ellipse cx="111.25" cy="546.94" rx="2.76" ry="2.35"/><ellipse cx="200.77" cy="550.26" rx="2.12" ry="2.1"/><ellipse cx="138.61" cy="472.34" rx="3.11" ry="4.03"/><ellipse cx="106.2" cy="521.22" rx="2.11" ry="1.83"/><ellipse cx="143.77" cy="475.29" rx="1.79" ry="1.87"/><ellipse cx="109.88" cy="531.72" rx="1.94" ry="2.02"/><ellipse cx="143.87" cy="563.42" rx="3.23" ry="3.55"/><ellipse cx="174.93" cy="471.5" rx="2.17" ry="3.32"/><ellipse cx="53.05" cy="467.5" rx="4.05" ry="2.26"/><ellipse cx="176.21" cy="562.12" rx="2.42" ry="2.29"/><ellipse cx="59.42" cy="557.17" rx="1.79" ry="2.3"/><ellipse cx="184.65" cy="563.5" rx="2.13" ry="3.56"/><ellipse cx="176.03" cy="553.14" rx="3.27" ry="1.98"/><ellipse cx="106.43" cy="444.44" rx="2.47" ry="4.11"/><ellipse cx="83.27" cy="541.53" rx="1.92" ry="2.35"/><ellipse cx="146.39" cy="526.92" rx="2.19" ry="3.07"/><ellipse cx="118.25" cy="452.12" rx="1.7" ry="2.92"/><ellipse cx="168.08" cy="502.51" rx="2.68" ry="2.29"/><ellipse cx="168.06" cy="461.18" rx="2.56" ry="3.17"/><ellipse cx="144.81" cy="566.79" rx="3.95" ry="2.44"/><ellipse cx="127.92" cy="516.59" rx="2.42" ry="2.45"/><ellipse cx="78.19" cy="531.79" rx="2.37" ry="3.35"/><ellipse cx="107.6" cy="509.52" rx="2.37" ry="2.82"/><ellipse cx="114.91" cy="514.8" rx="3.39" ry="3.2"/><ellipse cx="69.02" cy="523.91" rx="3.42" ry="3.42"/><ellipse cx="146.41" cy="483.52" rx="2.69" ry="2.37"/><ellipse cx="58.07" cy="577.56" rx="3.36" ry="3.11"/><ellipse cx="170.66" cy="492.89" rx="2.81" ry="3.94"/><ellipse cx="195.92" cy="544.09" rx="2.99" ry="3.65"/><ellipse cx="91.35" cy="434.68" rx="1.93" ry="3.05"/><ellipse cx="78.77" cy="452.89" rx="3.79" ry="3.7"/><ellipse cx="63.75" cy="441.09" rx="2.79" ry="2.67"/><ellipse cx="190.4" cy="438.63" rx="2.27" ry="3.62"/><ellipse cx="71.11" cy="572.89" rx="2.47" ry="1.7"/><ellipse cx="91.84" cy="513.67" rx="2.94" ry="2.82"/><ellipse cx="149.74" cy="572.46" rx="2.43" ry="2.83"/><ellipse cx="156.55" cy="491.13" rx="2.41" ry="1.56"/><ellipse cx="198.6" cy="581.8" rx="2.49" ry="1.6"/><ellipse cx="91.64" cy="481.8" rx="2.25" ry="3.21"/><ellipse cx="191.18" cy="570.95" rx="3.24" ry="2.01"/><ellipse cx="179.08" cy="436.56" rx="2.98" ry="3.32"/><ellipse cx="154.35" cy="577.27" rx="2.14" ry="2.8"/><ellipse cx="167" cy="569.91" rx="2.21" ry="1.81"/><ellipse cx="155.21" cy="473.82" rx="2.76" ry="1.57"/><ellipse cx="91.81" cy="447.62" rx="2.92" ry="2.95"/><ellipse cx="89.01" cy="450.47" rx="2.22" ry="2.18"/><ellipse cx="86.3" cy="569.1" rx="2.41" ry="3.12"/><ellipse cx="71.45" cy="494.45" rx="1.71" ry="2.28"/><ellipse cx="183.02" cy="524.82" rx="2.22" ry="2.26"/><ellipse cx="123.39" cy="483.41" rx="1.74" ry="1.79"/><ellipse cx="147.86" cy="450.42" rx="2.38" ry="1.99"/><ellipse cx="86.47" cy="437.51" rx="2.14" ry="2.19"/><ellipse cx="158.68" cy="517.67" rx="2.98" ry="3.27"/><ellipse cx="88.78" cy="488.89" rx="2.12" ry="2.31"/><ellipse cx="83.33" cy="472.91" rx="3.04" ry="2.79"/><ellipse cx="104.1" cy="566.36" rx="2.1" ry="1.84"/><ellipse cx="67.46" cy="569.81" rx="2.93" ry="2.18"/><ellipse cx="70.34" cy="568.22" rx="3.2" ry="3.09"/><ellipse cx="160.44" cy="457.17" rx="1.97" ry="2.21"/><ellipse cx="91.93" cy="459.24" rx="2.73" ry="2.58"/><ellipse cx="67.73" cy="472.41" rx="2.35" ry="3.4"/><ellipse cx="189.49" cy="434.53" rx="3.1" ry="2.61"/><ellipse cx="169.87" cy="476.34" rx="2.62" ry="3.44"/><ellipse cx="172.98" cy="482.97" rx="1.71" ry="1.76"/><ellipse cx="72.94" cy="431.99" rx="2.08" ry="1.64"/><ellipse cx="175.7" cy="510.26" rx="2.2" ry="2.33"/><ellipse cx="190.71" cy="461.74" rx="2.41" ry="3.47"/><ellipse cx="139.27" cy="449.71" rx="2.46" ry="3.32"/><ellipse cx="161.35" cy="462.36" rx="3.15" ry="2.55"/><ellipse cx="144.89" cy="503.32" rx="2.73" ry="3.04"/><ellipse cx="145.48" cy="535.16" rx="2.52" ry="2.84"/><ellipse cx="175.55" cy="516.44" rx="2.45" ry="1.96"/><ellipse cx="86.06" cy="443.88" rx="3.21" ry="3.55"/><ellipse cx="161.97" cy="437.31" rx="2.48" ry="1.93"/><ellipse cx="127.45" cy="431.32" rx="2.83" ry="1.75"/><ellipse cx="193.21" cy="503.34" rx="3.7" ry="2.86"/><ellipse cx="186.78" cy="472.85" rx="2.7" ry="2.87"/><ellipse cx="109.45" cy="450.36" rx="3.33" ry="2.7"/><ellipse cx="53.7" cy="506.97" rx="2.36" ry="3.25"/></g></g>
<g filter="url(#fh)"><rect x="198" y="418.8" width="171" height="170.7" fill="rgb(197,197,197)"/><ellipse cx="259.13" cy="431.68" rx="3.63" ry="1.34" fill="rgb(241,241,241)" transform="rotate(-8.39 259.13 431.68)"/><ellipse cx="261.72" cy="445.11" rx="4.94" ry="1.63" fill="rgb(235,235,235)" transform="rotate(-67.49 261.72 445.11)"/><ellipse cx="278.35" cy="452.82" rx="2.91" ry="1.75" fill="rgb(235,235,235)" transform="rotate(-41.21 278.35 452.82)"/><ellipse cx="293.7" cy="449.5" rx="4.82" ry="1.39" fill="rgb(245,245,245)" transform="rotate(-15.94 293.7 449.5)"/><ellipse cx="288.73" cy="458.24" rx="4.63" ry="1.74" fill="rgb(235,235,235)" transform="rotate(13.09 288.73 458.24)"/><ellipse cx="299.48" cy="487.06" rx="4.88" ry="1.78" fill="rgb(237,237,237)" transform="rotate(-16.22 299.48 487.06)"/><ellipse cx="313.06" cy="474.86" rx="4.28" ry="1.33" fill="rgb(233,233,233)" transform="rotate(-27.55 313.06 474.86)"/><ellipse cx="306.21" cy="484.83" rx="3.17" ry="1.73" fill="rgb(239,239,239)" transform="rotate(-17.35 306.21 484.83)"/><ellipse cx="309.94" cy="468.95" rx="4.6" ry="1.43" fill="rgb(234,234,234)" transform="rotate(-34.02 309.94 468.95)"/><ellipse cx="310.9" cy="486.76" rx="5.15" ry="1.64" fill="rgb(241,241,241)" transform="rotate(-54.49 310.9 486.76)"/><ellipse cx="325.93" cy="480.14" rx="5.11" ry="1.38" fill="rgb(237,237,237)" transform="rotate(-3.19 325.93 480.14)"/><ellipse cx="332.96" cy="480.03" rx="3.37" ry="1.73" fill="rgb(234,234,234)" transform="rotate(-34.77 332.96 480.03)"/><ellipse cx="325.75" cy="479.19" rx="3.22" ry="1.57" fill="rgb(239,239,239)" transform="rotate(-6.18 325.75 479.19)"/><ellipse cx="319.07" cy="491.04" rx="5.07" ry="1.53" fill="rgb(225,225,225)" transform="rotate(-69.24 319.07 491.04)"/><ellipse cx="331.09" cy="487.08" rx="4.59" ry="1.5" fill="rgb(230,230,230)" transform="rotate(-50.64 331.09 487.08)"/><ellipse cx="256.43" cy="516.82" rx="3.44" ry="1.44" fill="rgb(235,235,235)" transform="rotate(-24.95 256.43 516.82)"/><ellipse cx="249.7" cy="499" rx="3.55" ry="1.74" fill="rgb(235,235,235)" transform="rotate(-60.11 249.7 499)"/><ellipse cx="271.79" cy="514.94" rx="3.96" ry="1.61" fill="rgb(233,233,233)" transform="rotate(-37.4 271.79 514.94)"/><ellipse cx="237.95" cy="506.7" rx="3.77" ry="1.55" fill="rgb(232,232,232)" transform="rotate(10.94 237.95 506.7)"/><ellipse cx="240.62" cy="508.17" rx="3.6" ry="1.79" fill="rgb(238,238,238)" transform="rotate(-25.63 240.62 508.17)"/><ellipse cx="331.84" cy="506.64" rx="3.39" ry="1.45" fill="rgb(225,225,225)" transform="rotate(-45.12 331.84 506.64)"/><ellipse cx="320.02" cy="511.36" rx="4.52" ry="1.7" fill="rgb(243,243,243)" transform="rotate(-47.51 320.02 511.36)"/><ellipse cx="325.82" cy="508.67" rx="4.92" ry="1.28" fill="rgb(229,229,229)" transform="rotate(-62.7 325.82 508.67)"/><ellipse cx="330.23" cy="515.59" rx="4.57" ry="1.62" fill="rgb(238,238,238)" transform="rotate(-0.65 330.23 515.59)"/><ellipse cx="322.59" cy="510.69" rx="5.14" ry="1.36" fill="rgb(229,229,229)" transform="rotate(-63.33 322.59 510.69)"/><ellipse cx="338.42" cy="538.69" rx="3.36" ry="1.75" fill="rgb(225,225,225)" transform="rotate(19.21 338.42 538.69)"/><ellipse cx="307.98" cy="536.46" rx="3.03" ry="1.65" fill="rgb(226,226,226)" transform="rotate(-14.06 307.98 536.46)"/><ellipse cx="324.01" cy="530.91" rx="2.88" ry="1.43" fill="rgb(243,243,243)" transform="rotate(-2.61 324.01 530.91)"/><ellipse cx="339.31" cy="540.14" rx="3.16" ry="1.69" fill="rgb(244,244,244)" transform="rotate(-36.09 339.31 540.14)"/><ellipse cx="323.97" cy="530.63" rx="4.49" ry="1.33" fill="rgb(227,227,227)" transform="rotate(-0.26 323.97 530.63)"/><ellipse cx="225.3" cy="557.21" rx="3.24" ry="1.57" fill="rgb(243,243,243)" transform="rotate(-67.84 225.3 557.21)"/><ellipse cx="233.2" cy="563.87" rx="3.71" ry="1.53" fill="rgb(228,228,228)" transform="rotate(1.86 233.2 563.87)"/><ellipse cx="253.34" cy="554.56" rx="3.17" ry="1.5" fill="rgb(244,244,244)" transform="rotate(-3.1 253.34 554.56)"/><ellipse cx="233.81" cy="548.91" rx="5.09" ry="1.37" fill="rgb(235,235,235)" transform="rotate(-51.31 233.81 548.91)"/><ellipse cx="250.21" cy="564.43" rx="4.85" ry="1.72" fill="rgb(229,229,229)" transform="rotate(-8.92 250.21 564.43)"/><ellipse cx="303.4" cy="552.15" rx="3.07" ry="1.39" fill="rgb(226,226,226)" transform="rotate(10.99 303.4 552.15)"/><ellipse cx="313.3" cy="538.2" rx="4.5" ry="1.55" fill="rgb(226,226,226)" transform="rotate(5.95 313.3 538.2)"/><ellipse cx="309.6" cy="554.74" rx="4.82" ry="1.44" fill="rgb(227,227,227)" transform="rotate(-20.28 309.6 554.74)"/><ellipse cx="305.84" cy="543.96" rx="4.74" ry="1.35" fill="rgb(236,236,236)" transform="rotate(-58.06 305.84 543.96)"/><ellipse cx="300.35" cy="555.29" rx="4.66" ry="1.71" fill="rgb(237,237,237)" transform="rotate(13.97 300.35 555.29)"/><ellipse cx="342.4" cy="545.22" rx="3.8" ry="1.82" fill="rgb(230,230,230)" transform="rotate(-65 342.4 545.22)"/><ellipse cx="344.98" cy="545.12" rx="4.95" ry="1.43" fill="rgb(239,239,239)" transform="rotate(-62.54 344.98 545.12)"/><ellipse cx="343.2" cy="545.61" rx="4.24" ry="1.79" fill="rgb(237,237,237)" transform="rotate(-2.05 343.2 545.61)"/><ellipse cx="329.42" cy="520.9" rx="4.73" ry="1.37" fill="rgb(242,242,242)" transform="rotate(-57.14 329.42 520.9)"/><ellipse cx="342.27" cy="515.44" rx="3.29" ry="1.48" fill="rgb(239,239,239)" transform="rotate(0.58 342.27 515.44)"/><ellipse cx="303.34" cy="501.87" rx="3.14" ry="1.8" fill="rgb(228,228,228)" transform="rotate(19.25 303.34 501.87)"/><ellipse cx="291.01" cy="495.26" rx="3.43" ry="1.56" fill="rgb(228,228,228)" transform="rotate(-52.59 291.01 495.26)"/><ellipse cx="287.61" cy="507.63" rx="4.52" ry="1.72" fill="rgb(241,241,241)" transform="rotate(-15.75 287.61 507.63)"/><ellipse cx="292.01" cy="507.05" rx="4.14" ry="1.28" fill="rgb(232,232,232)" transform="rotate(-48.36 292.01 507.05)"/><ellipse cx="293.79" cy="486.11" rx="3.45" ry="1.28" fill="rgb(234,234,234)" transform="rotate(-6.41 293.79 486.11)"/><ellipse cx="228.64" cy="467.67" rx="3" ry="1.49" fill="rgb(241,241,241)" transform="rotate(-58.2 228.64 467.67)"/><ellipse cx="237.24" cy="478.73" rx="4.2" ry="1.43" fill="rgb(233,233,233)" transform="rotate(-68.95 237.24 478.73)"/><ellipse cx="236.82" cy="479.07" rx="3.44" ry="1.4" fill="rgb(236,236,236)" transform="rotate(16.58 236.82 479.07)"/><ellipse cx="233.49" cy="464.98" rx="3.15" ry="1.77" fill="rgb(244,244,244)" transform="rotate(-61.04 233.49 464.98)"/><ellipse cx="242.86" cy="461.25" rx="5.11" ry="1.3" fill="rgb(237,237,237)" transform="rotate(5.77 242.86 461.25)"/><ellipse cx="214.2" cy="457.93" rx="3.13" ry="1.19" fill="rgb(217,217,217)" transform="rotate(-78.81 214.2 457.93)"/><ellipse cx="211.75" cy="488.67" rx="2.92" ry="1.23" fill="rgb(229,229,229)" transform="rotate(-38.14 211.75 488.67)"/><ellipse cx="241.8" cy="457.6" rx="2.59" ry="1.38" fill="rgb(228,228,228)" transform="rotate(33.62 241.8 457.6)"/><ellipse cx="349.57" cy="522.24" rx="2.42" ry="1.3" fill="rgb(226,226,226)" transform="rotate(31.18 349.57 522.24)"/><ellipse cx="280.24" cy="511.36" rx="2.85" ry="1.36" fill="rgb(226,226,226)" transform="rotate(29.36 280.24 511.36)"/><ellipse cx="337.32" cy="502.91" rx="2.02" ry="1.45" fill="rgb(215,215,215)" transform="rotate(22.75 337.32 502.91)"/><ellipse cx="268.98" cy="570.81" rx="2.46" ry="1.37" fill="rgb(214,214,214)" transform="rotate(24.66 268.98 570.81)"/><ellipse cx="287.5" cy="492.08" rx="2.92" ry="1.1" fill="rgb(227,227,227)" transform="rotate(-36.95 287.5 492.08)"/><ellipse cx="349.82" cy="545.81" rx="2.59" ry="1.38" fill="rgb(219,219,219)" transform="rotate(-39.24 349.82 545.81)"/><ellipse cx="215.35" cy="461.39" rx="3.03" ry="1.34" fill="rgb(213,213,213)" transform="rotate(31.24 215.35 461.39)"/><ellipse cx="346.72" cy="535.77" rx="3.48" ry="1.2" fill="rgb(226,226,226)" transform="rotate(-49.11 346.72 535.77)"/><ellipse cx="296.88" cy="464.69" rx="2.57" ry="1.4" fill="rgb(221,221,221)" transform="rotate(16 296.88 464.69)"/><ellipse cx="225.41" cy="542.31" rx="2.59" ry="1.36" fill="rgb(219,219,219)" transform="rotate(-21.26 225.41 542.31)"/><ellipse cx="238.3" cy="560.08" rx="3.21" ry="1.12" fill="rgb(216,216,216)" transform="rotate(-41.55 238.3 560.08)"/><ellipse cx="263.17" cy="574.52" rx="3.56" ry="1.23" fill="rgb(226,226,226)" transform="rotate(1.57 263.17 574.52)"/><ellipse cx="227.08" cy="524.21" rx="3.04" ry="1.38" fill="rgb(222,222,222)" transform="rotate(-71.36 227.08 524.21)"/><ellipse cx="312.43" cy="482.85" rx="3.06" ry="1.32" fill="rgb(228,228,228)" transform="rotate(-27.68 312.43 482.85)"/><ellipse cx="250.15" cy="484.34" rx="2.32" ry="1.4" fill="rgb(226,226,226)" transform="rotate(-42.05 250.15 484.34)"/><ellipse cx="298.07" cy="478.68" rx="3.71" ry="1.08" fill="rgb(224,224,224)" transform="rotate(-40.83 298.07 478.68)"/><ellipse cx="238.73" cy="514.65" rx="3.34" ry="1.15" fill="rgb(226,226,226)" transform="rotate(11.31 238.73 514.65)"/><ellipse cx="271.93" cy="456.85" rx="2.78" ry="1.23" fill="rgb(227,227,227)" transform="rotate(-10.02 271.93 456.85)"/><ellipse cx="223.82" cy="449.84" rx="3.26" ry="1.47" fill="rgb(226,226,226)" transform="rotate(-77.04 223.82 449.84)"/><ellipse cx="232.34" cy="496.33" rx="3.21" ry="1.48" fill="rgb(217,217,217)" transform="rotate(-24.04 232.34 496.33)"/><ellipse cx="348.99" cy="555.98" rx="2.35" ry="1.06" fill="rgb(228,228,228)" transform="rotate(33.59 348.99 555.98)"/><ellipse cx="210.69" cy="560.82" rx="2.2" ry="1.32" fill="rgb(215,215,215)" transform="rotate(-77.1 210.69 560.82)"/><ellipse cx="218.86" cy="467.32" rx="2.35" ry="1.47" fill="rgb(220,220,220)" transform="rotate(39.85 218.86 467.32)"/><ellipse cx="345.58" cy="481.14" rx="2.49" ry="1.19" fill="rgb(221,221,221)" transform="rotate(5.03 345.58 481.14)"/><ellipse cx="218.88" cy="534.79" rx="2.9" ry="1.14" fill="rgb(213,213,213)" transform="rotate(-37.1 218.88 534.79)"/><ellipse cx="232.3" cy="513.77" rx="2.51" ry="1.25" fill="rgb(212,212,212)" transform="rotate(-66.51 232.3 513.77)"/><ellipse cx="276.24" cy="480.4" rx="2.63" ry="1.34" fill="rgb(225,225,225)" transform="rotate(-14.04 276.24 480.4)"/><ellipse cx="247.42" cy="535.15" rx="2.41" ry="1.19" fill="rgb(213,213,213)" transform="rotate(-33.51 247.42 535.15)"/><ellipse cx="322.85" cy="528.99" rx="2.36" ry="1.12" fill="rgb(217,217,217)" transform="rotate(-61.45 322.85 528.99)"/><ellipse cx="277.68" cy="439.26" rx="3.23" ry="1.33" fill="rgb(225,225,225)" transform="rotate(34.58 277.68 439.26)"/><ellipse cx="281.97" cy="449.26" rx="3.7" ry="1.33" fill="rgb(223,223,223)" transform="rotate(-61.87 281.97 449.26)"/><ellipse cx="286.43" cy="445.05" rx="3.32" ry="1.29" fill="rgb(228,228,228)" transform="rotate(-68.84 286.43 445.05)"/><ellipse cx="340.32" cy="496.32" rx="2.26" ry="1.47" fill="rgb(216,216,216)" transform="rotate(-47.48 340.32 496.32)"/><ellipse cx="234.89" cy="573.34" rx="2.83" ry="1.26" fill="rgb(220,220,220)" transform="rotate(-6.98 234.89 573.34)"/><ellipse cx="325.64" cy="489.2" rx="2.97" ry="1.19" fill="rgb(216,216,216)" transform="rotate(15.85 325.64 489.2)"/><ellipse cx="325.66" cy="451.24" rx="3.37" ry="1.23" fill="rgb(214,214,214)" transform="rotate(-65.78 325.66 451.24)"/><ellipse cx="249.39" cy="491.48" rx="3.71" ry="1.36" fill="rgb(225,225,225)" transform="rotate(-73.39 249.39 491.48)"/><ellipse cx="242.6" cy="523.73" rx="2.57" ry="1.37" fill="rgb(212,212,212)" transform="rotate(23.23 242.6 523.73)"/><ellipse cx="294.08" cy="534.45" rx="2.56" ry="1.17" fill="rgb(224,224,224)" transform="rotate(-78.19 294.08 534.45)"/><ellipse cx="234.03" cy="524.46" rx="2.67" ry="1.39" fill="rgb(225,225,225)" transform="rotate(-32.67 234.03 524.46)"/><ellipse cx="300.71" cy="499.73" rx="2.6" ry="1.14" fill="rgb(213,213,213)" transform="rotate(-61.81 300.71 499.73)"/><ellipse cx="348.21" cy="469.53" rx="3.11" ry="1.41" fill="rgb(217,217,217)" transform="rotate(-55.35 348.21 469.53)"/><ellipse cx="339.12" cy="476.95" rx="2.13" ry="1.35" fill="rgb(228,228,228)" transform="rotate(-62.22 339.12 476.95)"/><ellipse cx="243.49" cy="450.15" rx="3.6" ry="1.18" fill="rgb(217,217,217)" transform="rotate(-63.09 243.49 450.15)"/><ellipse cx="250.67" cy="529.12" rx="2.73" ry="1.36" fill="rgb(221,221,221)" transform="rotate(-42.74 250.67 529.12)"/><ellipse cx="266.66" cy="525.1" rx="2.05" ry="1.26" fill="rgb(223,223,223)" transform="rotate(-20.47 266.66 525.1)"/><ellipse cx="234.19" cy="516.97" rx="3.26" ry="1.49" fill="rgb(214,214,214)" transform="rotate(-24.48 234.19 516.97)"/><ellipse cx="241.38" cy="479.02" rx="2.52" ry="1.21" fill="rgb(223,223,223)" transform="rotate(-23.05 241.38 479.02)"/><ellipse cx="220.36" cy="436.72" rx="3.03" ry="1.11" fill="rgb(219,219,219)" transform="rotate(-36.14 220.36 436.72)"/><ellipse cx="265.62" cy="504.47" rx="3.46" ry="1.3" fill="rgb(221,221,221)" transform="rotate(39.44 265.62 504.47)"/><ellipse cx="309.63" cy="432.83" rx="2.76" ry="1.26" fill="rgb(214,214,214)" transform="rotate(-52.22 309.63 432.83)"/><ellipse cx="278.07" cy="534.73" rx="3.19" ry="1.07" fill="rgb(224,224,224)" transform="rotate(32.39 278.07 534.73)"/><ellipse cx="279.37" cy="452.43" rx="2.05" ry="1.16" fill="rgb(228,228,228)" transform="rotate(-61.81 279.37 452.43)"/><ellipse cx="356.72" cy="436.17" rx="3.5" ry="1.38" fill="rgb(217,217,217)" transform="rotate(-67.09 356.72 436.17)"/><ellipse cx="254.13" cy="574.36" rx="2.56" ry="1.17" fill="rgb(213,213,213)" transform="rotate(4.12 254.13 574.36)"/><ellipse cx="253.43" cy="516.93" rx="2.4" ry="1.41" fill="rgb(219,219,219)" transform="rotate(14.95 253.43 516.93)"/><ellipse cx="239.25" cy="535.99" rx="3.03" ry="1.25" fill="rgb(226,226,226)" transform="rotate(-61.94 239.25 535.99)"/><ellipse cx="333.43" cy="462.67" rx="2.18" ry="1.16" fill="rgb(224,224,224)" transform="rotate(20.52 333.43 462.67)"/><ellipse cx="262.92" cy="485.33" rx="3.44" ry="1.1" fill="rgb(229,229,229)" transform="rotate(7.44 262.92 485.33)"/><ellipse cx="350.94" cy="456.7" rx="2.6" ry="1.18" fill="rgb(226,226,226)" transform="rotate(-61.34 350.94 456.7)"/><ellipse cx="215.47" cy="497.66" rx="2.51" ry="1.36" fill="rgb(226,226,226)" transform="rotate(-78.95 215.47 497.66)"/><ellipse cx="326.74" cy="480.22" rx="3.4" ry="1.11" fill="rgb(222,222,222)" transform="rotate(2.63 326.74 480.22)"/><ellipse cx="320.91" cy="453.74" rx="2.74" ry="1.18" fill="rgb(222,222,222)" transform="rotate(1.52 320.91 453.74)"/><ellipse cx="341.46" cy="500.82" rx="3.02" ry="1.13" fill="rgb(224,224,224)" transform="rotate(19.08 341.46 500.82)"/><ellipse cx="210.84" cy="532.9" rx="3.3" ry="1.08" fill="rgb(229,229,229)" transform="rotate(23.08 210.84 532.9)"/><ellipse cx="341.28" cy="514.44" rx="3.32" ry="1.17" fill="rgb(221,221,221)" transform="rotate(31.12 341.28 514.44)"/><ellipse cx="326.79" cy="461.69" rx="2.64" ry="1.22" fill="rgb(212,212,212)" transform="rotate(-26.16 326.79 461.69)"/><ellipse cx="300.95" cy="458.82" rx="2.06" ry="0.81" fill="rgb(222,222,222)" transform="rotate(-7.14 300.95 458.82)"/><ellipse cx="277.97" cy="574.26" rx="2.34" ry="1.07" fill="rgb(216,216,216)" transform="rotate(-21.62 277.97 574.26)"/><ellipse cx="244.94" cy="536.5" rx="2.44" ry="0.84" fill="rgb(210,210,210)" transform="rotate(-6.12 244.94 536.5)"/><ellipse cx="322.31" cy="526.22" rx="1.81" ry="0.99" fill="rgb(212,212,212)" transform="rotate(20.45 322.31 526.22)"/><ellipse cx="334.33" cy="516.67" rx="2.29" ry="0.79" fill="rgb(213,213,213)" transform="rotate(-42.79 334.33 516.67)"/><ellipse cx="213.13" cy="441.24" rx="1.69" ry="1.06" fill="rgb(219,219,219)" transform="rotate(-21.49 213.13 441.24)"/><ellipse cx="267.34" cy="496.13" rx="2.52" ry="0.85" fill="rgb(221,221,221)" transform="rotate(-45.36 267.34 496.13)"/><ellipse cx="345.49" cy="452.76" rx="1.67" ry="1.02" fill="rgb(212,212,212)" transform="rotate(-70.43 345.49 452.76)"/><ellipse cx="326.54" cy="505.22" rx="2.08" ry="1.13" fill="rgb(211,211,211)" transform="rotate(17.09 326.54 505.22)"/><ellipse cx="342.78" cy="546.58" rx="2.32" ry="0.8" fill="rgb(217,217,217)" transform="rotate(-19.92 342.78 546.58)"/><ellipse cx="317.61" cy="527.14" rx="2.56" ry="1.05" fill="rgb(220,220,220)" transform="rotate(-46.28 317.61 527.14)"/><ellipse cx="217.06" cy="437.71" rx="2.27" ry="0.99" fill="rgb(224,224,224)" transform="rotate(33.11 217.06 437.71)"/><ellipse cx="237.94" cy="525.26" rx="1.66" ry="0.98" fill="rgb(210,210,210)" transform="rotate(3.66 237.94 525.26)"/><ellipse cx="270.95" cy="543.73" rx="2.21" ry="0.92" fill="rgb(217,217,217)" transform="rotate(-29.65 270.95 543.73)"/><ellipse cx="294.31" cy="482.15" rx="1.71" ry="0.91" fill="rgb(212,212,212)" transform="rotate(18.99 294.31 482.15)"/><ellipse cx="233.41" cy="577.29" rx="2.34" ry="1.09" fill="rgb(216,216,216)" transform="rotate(-54.32 233.41 577.29)"/><ellipse cx="238.69" cy="445.79" rx="2.35" ry="0.87" fill="rgb(214,214,214)" transform="rotate(23.87 238.69 445.79)"/><ellipse cx="311.03" cy="496.95" rx="1.51" ry="0.78" fill="rgb(214,214,214)" transform="rotate(14.46 311.03 496.95)"/><ellipse cx="288.64" cy="473.11" rx="1.93" ry="0.95" fill="rgb(211,211,211)" transform="rotate(21.49 288.64 473.11)"/><ellipse cx="257.06" cy="479.66" rx="1.75" ry="0.81" fill="rgb(211,211,211)" transform="rotate(-31.7 257.06 479.66)"/><ellipse cx="314.82" cy="567.97" rx="2.44" ry="1.1" fill="rgb(210,210,210)" transform="rotate(32.33 314.82 567.97)"/><ellipse cx="352.73" cy="497.09" rx="1.8" ry="0.95" fill="rgb(223,223,223)" transform="rotate(38.86 352.73 497.09)"/><ellipse cx="346.52" cy="547.31" rx="2.46" ry="0.97" fill="rgb(217,217,217)" transform="rotate(-38.61 346.52 547.31)"/><ellipse cx="259.42" cy="558.76" rx="2.47" ry="0.78" fill="rgb(223,223,223)" transform="rotate(7.03 259.42 558.76)"/><ellipse cx="305.44" cy="462.65" rx="1.56" ry="0.99" fill="rgb(213,213,213)" transform="rotate(-5.25 305.44 462.65)"/><ellipse cx="304.54" cy="465.44" rx="2.17" ry="1.09" fill="rgb(216,216,216)" transform="rotate(-12.77 304.54 465.44)"/><ellipse cx="346.62" cy="571.55" rx="2.41" ry="1.13" fill="rgb(213,213,213)" transform="rotate(31.74 346.62 571.55)"/><ellipse cx="316.05" cy="537.71" rx="2.16" ry="0.94" fill="rgb(221,221,221)" transform="rotate(-16.67 316.05 537.71)"/><ellipse cx="322.44" cy="532.92" rx="2.04" ry="0.98" fill="rgb(212,212,212)" transform="rotate(-3.84 322.44 532.92)"/><ellipse cx="268.52" cy="574.78" rx="2.01" ry="1.11" fill="rgb(217,217,217)" transform="rotate(-45.89 268.52 574.78)"/><ellipse cx="318.23" cy="573.58" rx="2.53" ry="0.85" fill="rgb(222,222,222)" transform="rotate(29.81 318.23 573.58)"/><ellipse cx="349.39" cy="560" rx="1.52" ry="0.99" fill="rgb(224,224,224)" transform="rotate(34.64 349.39 560)"/><ellipse cx="320.48" cy="497.51" rx="2.57" ry="0.79" fill="rgb(218,218,218)" transform="rotate(-55.31 320.48 497.51)"/><ellipse cx="336.45" cy="443.02" rx="2.44" ry="1.12" fill="rgb(211,211,211)" transform="rotate(-1.17 336.45 443.02)"/><ellipse cx="275.84" cy="437.72" rx="2.21" ry="1.09" fill="rgb(213,213,213)" transform="rotate(-57.34 275.84 437.72)"/><ellipse cx="329.67" cy="443.36" rx="1.58" ry="0.99" fill="rgb(211,211,211)" transform="rotate(-54.29 329.67 443.36)"/><ellipse cx="315.27" cy="517.66" rx="1.53" ry="1.12" fill="rgb(220,220,220)" transform="rotate(-34.1 315.27 517.66)"/><ellipse cx="321.17" cy="444.84" rx="2.42" ry="1.14" fill="rgb(214,214,214)" transform="rotate(-39.16 321.17 444.84)"/><ellipse cx="284.43" cy="557.27" rx="2.31" ry="0.89" fill="rgb(222,222,222)" transform="rotate(-79.44 284.43 557.27)"/><ellipse cx="334.45" cy="570.9" rx="2.59" ry="1.07" fill="rgb(211,211,211)" transform="rotate(-18.24 334.45 570.9)"/><ellipse cx="356.02" cy="522.2" rx="2.5" ry="1.13" fill="rgb(211,211,211)" transform="rotate(20.4 356.02 522.2)"/><ellipse cx="309.52" cy="572.09" rx="2.57" ry="0.99" fill="rgb(218,218,218)" transform="rotate(-66.08 309.52 572.09)"/><ellipse cx="258.61" cy="556.53" rx="1.48" ry="0.94" fill="rgb(211,211,211)" transform="rotate(-73.94 258.61 556.53)"/><ellipse cx="224.63" cy="467.79" rx="2.03" ry="1.13" fill="rgb(212,212,212)" transform="rotate(-54.86 224.63 467.79)"/><ellipse cx="306.68" cy="463.98" rx="1.53" ry="0.96" fill="rgb(220,220,220)" transform="rotate(-45.97 306.68 463.98)"/><ellipse cx="321.41" cy="451.2" rx="2.5" ry="0.95" fill="rgb(218,218,218)" transform="rotate(-4.46 321.41 451.2)"/><ellipse cx="253.53" cy="531.75" rx="1.59" ry="0.77" fill="rgb(215,215,215)" transform="rotate(12.43 253.53 531.75)"/><ellipse cx="227.36" cy="477.65" rx="1.76" ry="0.79" fill="rgb(224,224,224)" transform="rotate(-13.36 227.36 477.65)"/><ellipse cx="227.13" cy="496.31" rx="2.48" ry="1.09" fill="rgb(215,215,215)" transform="rotate(-58.94 227.13 496.31)"/><ellipse cx="327.96" cy="488.96" rx="1.79" ry="1.09" fill="rgb(214,214,214)" transform="rotate(-34.25 327.96 488.96)"/><ellipse cx="241.11" cy="544.36" rx="2.43" ry="0.76" fill="rgb(223,223,223)" transform="rotate(30.94 241.11 544.36)"/><ellipse cx="291.77" cy="481.24" rx="2.13" ry="0.77" fill="rgb(224,224,224)" transform="rotate(-44.01 291.77 481.24)"/><ellipse cx="215.73" cy="526.4" rx="2.52" ry="0.81" fill="rgb(223,223,223)" transform="rotate(-46.63 215.73 526.4)"/><ellipse cx="287.71" cy="533.87" rx="2.37" ry="0.87" fill="rgb(222,222,222)" transform="rotate(-69.04 287.71 533.87)"/><ellipse cx="342.24" cy="521.76" rx="1.91" ry="0.99" fill="rgb(216,216,216)" transform="rotate(-73.5 342.24 521.76)"/><ellipse cx="327.37" cy="557.99" rx="1.99" ry="1.11" fill="rgb(214,214,214)" transform="rotate(-55.71 327.37 557.99)"/><ellipse cx="290.09" cy="557.66" rx="2.5" ry="0.76" fill="rgb(216,216,216)" transform="rotate(-61.93 290.09 557.66)"/><ellipse cx="352.61" cy="453.52" rx="1.45" ry="0.91" fill="rgb(222,222,222)" transform="rotate(-70.72 352.61 453.52)"/><ellipse cx="284.32" cy="447.13" rx="2.22" ry="1.14" fill="rgb(223,223,223)" transform="rotate(-12.22 284.32 447.13)"/><ellipse cx="321.92" cy="538.7" rx="2.26" ry="0.89" fill="rgb(221,221,221)" transform="rotate(-25.18 321.92 538.7)"/><ellipse cx="226.39" cy="450.69" rx="2.54" ry="1.02" fill="rgb(220,220,220)" transform="rotate(21.43 226.39 450.69)"/><ellipse cx="252.21" cy="531.29" rx="2.05" ry="0.92" fill="rgb(219,219,219)" transform="rotate(-19.22 252.21 531.29)"/><ellipse cx="270.13" cy="449.12" rx="1.53" ry="1.01" fill="rgb(224,224,224)" transform="rotate(-14.08 270.13 449.12)"/><ellipse cx="289.98" cy="479.39" rx="1.48" ry="0.92" fill="rgb(220,220,220)" transform="rotate(-62.27 289.98 479.39)"/><ellipse cx="287.53" cy="458.99" rx="2.31" ry="0.96" fill="rgb(215,215,215)" transform="rotate(11.27 287.53 458.99)"/><ellipse cx="301.1" cy="488.66" rx="2.44" ry="1.02" fill="rgb(221,221,221)" transform="rotate(-33.27 301.1 488.66)"/><ellipse cx="336.54" cy="517.23" rx="2.04" ry="1.11" fill="rgb(224,224,224)" transform="rotate(31.62 336.54 517.23)"/><ellipse cx="301.07" cy="545.47" rx="2.26" ry="0.91" fill="rgb(217,217,217)" transform="rotate(-29.26 301.07 545.47)"/><ellipse cx="341.02" cy="488.82" rx="1.81" ry="1.07" fill="rgb(211,211,211)" transform="rotate(-48.87 341.02 488.82)"/><ellipse cx="261.09" cy="577.96" rx="2.04" ry="0.83" fill="rgb(214,214,214)" transform="rotate(6.49 261.09 577.96)"/><ellipse cx="326.65" cy="517.32" rx="2.24" ry="0.94" fill="rgb(215,215,215)" transform="rotate(10.54 326.65 517.32)"/><ellipse cx="299.59" cy="542.32" rx="1.75" ry="0.82" fill="rgb(217,217,217)" transform="rotate(-43.57 299.59 542.32)"/><ellipse cx="211.98" cy="440.82" rx="1.92" ry="0.88" fill="rgb(214,214,214)" transform="rotate(-68.72 211.98 440.82)"/><ellipse cx="345.06" cy="547.66" rx="1.73" ry="0.81" fill="rgb(224,224,224)" transform="rotate(30.31 345.06 547.66)"/><ellipse cx="313.87" cy="484.43" rx="2.11" ry="0.8" fill="rgb(223,223,223)" transform="rotate(38.13 313.87 484.43)"/><ellipse cx="338.25" cy="493.05" rx="1.92" ry="0.98" fill="rgb(216,216,216)" transform="rotate(23.71 338.25 493.05)"/><ellipse cx="322.13" cy="564.63" rx="2.22" ry="0.81" fill="rgb(218,218,218)" transform="rotate(-73.92 322.13 564.63)"/><ellipse cx="317.85" cy="452.2" rx="2.45" ry="1.04" fill="rgb(221,221,221)" transform="rotate(0.89 317.85 452.2)"/><ellipse cx="336.15" cy="442.76" rx="2.28" ry="1.01" fill="rgb(219,219,219)" transform="rotate(-48.89 336.15 442.76)"/><ellipse cx="258.47" cy="468.75" rx="2.49" ry="0.8" fill="rgb(212,212,212)" transform="rotate(-29.3 258.47 468.75)"/><ellipse cx="336.13" cy="577.36" rx="1.64" ry="0.75" fill="rgb(221,221,221)" transform="rotate(20.5 336.13 577.36)"/><ellipse cx="281.41" cy="524.95" rx="2.21" ry="1.02" fill="rgb(222,222,222)" transform="rotate(-23.18 281.41 524.95)"/><ellipse cx="348.32" cy="544.59" rx="2.07" ry="0.89" fill="rgb(211,211,211)" transform="rotate(-62.2 348.32 544.59)"/><ellipse cx="260.67" cy="501.69" rx="2.47" ry="0.78" fill="rgb(218,218,218)" transform="rotate(-56.08 260.67 501.69)"/><ellipse cx="261.81" cy="502.12" rx="1.87" ry="1.06" fill="rgb(224,224,224)" transform="rotate(-15.45 261.81 502.12)"/><ellipse cx="255.5" cy="467.4" rx="2.12" ry="0.79" fill="rgb(209,209,209)" transform="rotate(0.87 255.5 467.4)"/><ellipse cx="300.67" cy="572.49" rx="1.95" ry="0.79" fill="rgb(222,222,222)" transform="rotate(-10.95 300.67 572.49)"/><ellipse cx="349.73" cy="479.84" rx="1.79" ry="0.81" fill="rgb(210,210,210)" transform="rotate(-70.35 349.73 479.84)"/><ellipse cx="330.21" cy="463.76" rx="1.69" ry="1.14" fill="rgb(211,211,211)" transform="rotate(-11.02 330.21 463.76)"/><ellipse cx="241.47" cy="563.14" rx="2.33" ry="0.94" fill="rgb(212,212,212)" transform="rotate(-9.31 241.47 563.14)"/><ellipse cx="236.6" cy="526.01" rx="1.94" ry="1.03" fill="rgb(221,221,221)" transform="rotate(-48.43 236.6 526.01)"/><ellipse cx="314.05" cy="457.07" rx="1.64" ry="1.12" fill="rgb(210,210,210)" transform="rotate(21.89 314.05 457.07)"/><ellipse cx="278.94" cy="435.31" rx="1.57" ry="1.03" fill="rgb(211,211,211)" transform="rotate(-48.11 278.94 435.31)"/><ellipse cx="244.43" cy="549.46" rx="2.54" ry="0.83" fill="rgb(222,222,222)" transform="rotate(-55.79 244.43 549.46)"/><ellipse cx="319.64" cy="549.09" rx="1.8" ry="0.78" fill="rgb(224,224,224)" transform="rotate(-1.1 319.64 549.09)"/><ellipse cx="261.37" cy="498.68" rx="2.09" ry="1.04" fill="rgb(213,213,213)" transform="rotate(-43.53 261.37 498.68)"/><ellipse cx="268.69" cy="529.42" rx="2.27" ry="1.01" fill="rgb(217,217,217)" transform="rotate(-25.61 268.69 529.42)"/><ellipse cx="331.38" cy="538.78" rx="1.98" ry="0.78" fill="rgb(217,217,217)" transform="rotate(-29.53 331.38 538.78)"/><ellipse cx="287.18" cy="489.14" rx="1.99" ry="0.92" fill="rgb(220,220,220)" transform="rotate(-38.84 287.18 489.14)"/><ellipse cx="235.87" cy="529.16" rx="1.94" ry="0.93" fill="rgb(222,222,222)" transform="rotate(32.91 235.87 529.16)"/><ellipse cx="213.52" cy="489.9" rx="1.79" ry="1.15" fill="rgb(222,222,222)" transform="rotate(-19.38 213.52 489.9)"/><ellipse cx="292.33" cy="475.35" rx="2.09" ry="0.92" fill="rgb(210,210,210)" transform="rotate(-61.57 292.33 475.35)"/><ellipse cx="225.34" cy="561.37" rx="2.03" ry="1.05" fill="rgb(222,222,222)" transform="rotate(-27.16 225.34 561.37)"/><ellipse cx="274.85" cy="552.83" rx="2.31" ry="0.75" fill="rgb(216,216,216)" transform="rotate(32.8 274.85 552.83)"/><ellipse cx="211.51" cy="430.58" rx="2.29" ry="1.11" fill="rgb(214,214,214)" transform="rotate(-67.67 211.51 430.58)"/><ellipse cx="223.67" cy="550.89" rx="2.06" ry="0.77" fill="rgb(215,215,215)" transform="rotate(8.13 223.67 550.89)"/><ellipse cx="224.61" cy="469.52" rx="1.68" ry="0.84" fill="rgb(213,213,213)" transform="rotate(10.38 224.61 469.52)"/><ellipse cx="317.56" cy="445.19" rx="2.39" ry="0.8" fill="rgb(220,220,220)" transform="rotate(-54.7 317.56 445.19)"/><ellipse cx="308.25" cy="478.2" rx="1.49" ry="0.89" fill="rgb(219,219,219)" transform="rotate(-30.81 308.25 478.2)"/><ellipse cx="264.03" cy="464.73" rx="2.15" ry="1.1" fill="rgb(216,216,216)" transform="rotate(-59.73 264.03 464.73)"/><ellipse cx="284" cy="507.38" rx="2.28" ry="1.02" fill="rgb(219,219,219)" transform="rotate(-28.49 284 507.38)"/><ellipse cx="275.47" cy="577.13" rx="2.32" ry="0.95" fill="rgb(212,212,212)" transform="rotate(-34.69 275.47 577.13)"/><ellipse cx="239.56" cy="443.01" rx="2.38" ry="0.84" fill="rgb(213,213,213)" transform="rotate(-32.56 239.56 443.01)"/><ellipse cx="229.62" cy="443.43" rx="2.18" ry="1.01" fill="rgb(210,210,210)" transform="rotate(-27.9 229.62 443.43)"/><ellipse cx="244.27" cy="534.79" rx="1.86" ry="0.95" fill="rgb(223,223,223)" transform="rotate(-65.38 244.27 534.79)"/><ellipse cx="323.8" cy="437.21" rx="1.82" ry="0.75" fill="rgb(215,215,215)" transform="rotate(1.28 323.8 437.21)"/><ellipse cx="297.99" cy="474.2" rx="1.86" ry="0.83" fill="rgb(214,214,214)" transform="rotate(-4.14 297.99 474.2)"/><ellipse cx="272.27" cy="449.74" rx="1.98" ry="1.14" fill="rgb(216,216,216)" transform="rotate(-5.91 272.27 449.74)"/><ellipse cx="253.59" cy="529.84" rx="1.9" ry="0.75" fill="rgb(211,211,211)" transform="rotate(-26.59 253.59 529.84)"/><ellipse cx="280.1" cy="523.08" rx="1.77" ry="1.12" fill="rgb(220,220,220)" transform="rotate(-22.45 280.1 523.08)"/><ellipse cx="220.5" cy="442.5" rx="5.17" ry="5.17" fill="rgb(255,255,255)"/><ellipse cx="222" cy="460.5" rx="2.3" ry="2.3" fill="rgb(247,247,247)"/></g>
<g filter="url(#fi)"><rect x="361" y="426.8" width="155" height="154.7" fill="rgb(193,193,193)"/><circle cx="392.4" cy="570.7" r="1.5" fill="rgb(235,235,235)"/><circle cx="413.7" cy="504" r="1.1" fill="rgb(219,219,219)"/></g>
<g fill="none" stroke="#000" stroke-width="2.2"><rect x="51" y="426.8" width="465" height="154.7"/><path d="M206 426.8V581.5M361 426.8V581.5"/></g>
<rect x="66.6" y="430.8" width="25.4" height="31.6" fill="#fff"/><text x="79.3" y="452.5" font-size="18.6" text-anchor="middle">g</text>
<rect x="221.6" y="430.8" width="25.4" height="31.6" fill="#fff"/><text x="234.3" y="452.5" font-size="18.6" text-anchor="middle">h</text>
<rect x="376.6" y="430.8" width="18.8" height="31.6" fill="#fff"/><text x="386" y="452.5" font-size="18.6" text-anchor="middle">i</text>
<rect x="69.2" y="588.7" width="428.7" height="18.8" fill="url(#inf)" stroke="#000" stroke-width="2.2"/><path d="M69.2 607.5v-6.6M122.79 607.5v-6.6M176.38 607.5v-6.6M229.96 607.5v-6.6M283.55 607.5v-6.6M337.14 607.5v-6.6M390.72 607.5v-6.6M444.31 607.5v-6.6" stroke="#000" stroke-width="2" fill="none"/><text x="69.2" y="626.3" font-size="15" text-anchor="middle">0</text><text x="122.79" y="626.3" font-size="15" text-anchor="middle">10</text><text x="176.38" y="626.3" font-size="15" text-anchor="middle">20</text><text x="229.96" y="626.3" font-size="15" text-anchor="middle">30</text><text x="283.55" y="626.3" font-size="15" text-anchor="middle">40</text><text x="337.14" y="626.3" font-size="15" text-anchor="middle">50</text><text x="390.72" y="626.3" font-size="15" text-anchor="middle">60</text><text x="444.31" y="626.3" font-size="15" text-anchor="middle">70</text><text x="283.55" y="649.4" font-size="15" text-anchor="middle">[nm]</text>
</svg></body></html>
